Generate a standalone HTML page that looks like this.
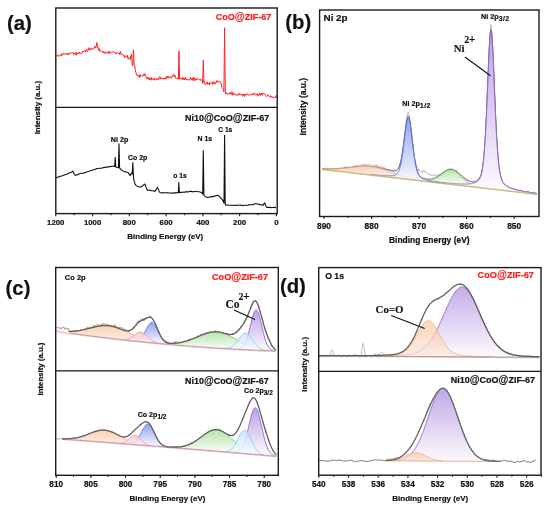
<!DOCTYPE html>
<html><head><meta charset="utf-8"><style>
html,body{margin:0;padding:0;background:#fff;}
svg{display:block;filter:blur(0.3px);}
</style></head><body>
<svg width="550" height="507" viewBox="0 0 550 507">
<defs><linearGradient id="g1" gradientUnits="userSpaceOnUse" x1="0" y1="166.4" x2="0" y2="174.8"><stop offset="0" stop-color="#f9c4a0" stop-opacity="1"/><stop offset="1" stop-color="#fde6d6" stop-opacity="1"/></linearGradient><linearGradient id="g2" gradientUnits="userSpaceOnUse" x1="0" y1="169.2" x2="0" y2="184.1"><stop offset="0" stop-color="#a2de94" stop-opacity="1"/><stop offset="1" stop-color="#f4fbf2" stop-opacity="1"/></linearGradient><linearGradient id="g3" gradientUnits="userSpaceOnUse" x1="0" y1="117.7" x2="0" y2="179.2"><stop offset="0" stop-color="#7a8cf0" stop-opacity="1"/><stop offset="1" stop-color="#f1f3fd" stop-opacity="1"/></linearGradient><linearGradient id="g4" gradientUnits="userSpaceOnUse" x1="0" y1="29.8" x2="0" y2="188.7"><stop offset="0" stop-color="#ad8ade" stop-opacity="1"/><stop offset="1" stop-color="#fbf8fd" stop-opacity="1"/></linearGradient><linearGradient id="g5" gradientUnits="userSpaceOnUse" x1="0" y1="325.6" x2="0" y2="338.1"><stop offset="0" stop-color="#f9c4a0" stop-opacity="1"/><stop offset="1" stop-color="#fde6d6" stop-opacity="1"/></linearGradient><linearGradient id="g6" gradientUnits="userSpaceOnUse" x1="0" y1="331.8" x2="0" y2="348.1"><stop offset="0" stop-color="#a2de94" stop-opacity="1"/><stop offset="1" stop-color="#f4fbf2" stop-opacity="1"/></linearGradient><linearGradient id="g7" gradientUnits="userSpaceOnUse" x1="0" y1="310" x2="0" y2="350.2"><stop offset="0" stop-color="#ad8ade" stop-opacity="1"/><stop offset="1" stop-color="#fbf8fd" stop-opacity="1"/></linearGradient><linearGradient id="g8" gradientUnits="userSpaceOnUse" x1="0" y1="322.4" x2="0" y2="342.8"><stop offset="0" stop-color="#7a8cf0" stop-opacity="1"/><stop offset="1" stop-color="#f1f3fd" stop-opacity="1"/></linearGradient><linearGradient id="g9" gradientUnits="userSpaceOnUse" x1="0" y1="332.2" x2="0" y2="341.7"><stop offset="0" stop-color="#f6bcc4" stop-opacity="1"/><stop offset="1" stop-color="#fff1f3" stop-opacity="1"/></linearGradient><linearGradient id="g10" gradientUnits="userSpaceOnUse" x1="0" y1="333" x2="0" y2="349.7"><stop offset="0" stop-color="#c4e4fa" stop-opacity="1"/><stop offset="1" stop-color="#f4fafe" stop-opacity="1"/></linearGradient><linearGradient id="g11" gradientUnits="userSpaceOnUse" x1="0" y1="430.1" x2="0" y2="442.2"><stop offset="0" stop-color="#f9c4a0" stop-opacity="1"/><stop offset="1" stop-color="#fde6d6" stop-opacity="1"/></linearGradient><linearGradient id="g12" gradientUnits="userSpaceOnUse" x1="0" y1="429.6" x2="0" y2="451.2"><stop offset="0" stop-color="#a2de94" stop-opacity="1"/><stop offset="1" stop-color="#f4fbf2" stop-opacity="1"/></linearGradient><linearGradient id="g13" gradientUnits="userSpaceOnUse" x1="0" y1="407.8" x2="0" y2="454.4"><stop offset="0" stop-color="#ad8ade" stop-opacity="1"/><stop offset="1" stop-color="#fbf8fd" stop-opacity="1"/></linearGradient><linearGradient id="g14" gradientUnits="userSpaceOnUse" x1="0" y1="424" x2="0" y2="445.6"><stop offset="0" stop-color="#7a8cf0" stop-opacity="1"/><stop offset="1" stop-color="#f1f3fd" stop-opacity="1"/></linearGradient><linearGradient id="g15" gradientUnits="userSpaceOnUse" x1="0" y1="435.1" x2="0" y2="444.5"><stop offset="0" stop-color="#f6bcc4" stop-opacity="1"/><stop offset="1" stop-color="#fff1f3" stop-opacity="1"/></linearGradient><linearGradient id="g16" gradientUnits="userSpaceOnUse" x1="0" y1="430" x2="0" y2="453.5"><stop offset="0" stop-color="#c4e4fa" stop-opacity="1"/><stop offset="1" stop-color="#f4fafe" stop-opacity="1"/></linearGradient><linearGradient id="g17" gradientUnits="userSpaceOnUse" x1="0" y1="287" x2="0" y2="356.8"><stop offset="0" stop-color="#ad8ade" stop-opacity="1"/><stop offset="1" stop-color="#fbf8fd" stop-opacity="1"/></linearGradient><linearGradient id="g18" gradientUnits="userSpaceOnUse" x1="0" y1="320.6" x2="0" y2="356.6"><stop offset="0" stop-color="#f9c4a0" stop-opacity="1"/><stop offset="1" stop-color="#fde6d6" stop-opacity="1"/></linearGradient><linearGradient id="g19" gradientUnits="userSpaceOnUse" x1="0" y1="388.6" x2="0" y2="461.1"><stop offset="0" stop-color="#ad8ade" stop-opacity="1"/><stop offset="1" stop-color="#fbf8fd" stop-opacity="1"/></linearGradient><linearGradient id="g20" gradientUnits="userSpaceOnUse" x1="0" y1="452.8" x2="0" y2="461"><stop offset="0" stop-color="#f9c4a0" stop-opacity="1"/><stop offset="1" stop-color="#fde6d6" stop-opacity="1"/></linearGradient></defs>
<rect width="550" height="507" fill="#fff"/>
<path d="M56,55.8 L56.5,56.3 L56.9,55.6 L57.4,55.5 L57.8,54.8 L58.3,55.4 L58.7,56.4 L59.2,55.7 L59.6,56.2 L60.1,55.4 L60.5,55.4 L61,55.2 L61.4,53.5 L61.9,55.6 L62.3,55.2 L62.8,55.1 L63.2,53.1 L63.7,53 L64.1,53.6 L64.6,53.9 L65,54.5 L65.5,54.1 L65.9,54.5 L66.4,53.4 L66.8,54.1 L67.3,54.1 L67.7,53.1 L68.2,55.1 L68.6,54 L69.1,54.4 L69.5,52.8 L70,52.6 L70.4,52.9 L70.9,53 L71.3,53.5 L71.8,53.1 L72.2,52.7 L72.7,52.4 L73.1,52.9 L73.6,54.6 L74,53 L74.5,54 L74.9,54.3 L75.4,52.9 L75.8,54.3 L76.3,55.3 L76.7,52.3 L77.2,53.6 L77.6,53.6 L78.1,52.9 L78.5,53.9 L79,53.2 L79.4,51.9 L79.9,53.7 L80.3,53.4 L80.8,53.5 L81.2,53.8 L81.7,52.7 L82.1,52.3 L82.6,51 L83,52.5 L83.5,51.3 L83.9,51.2 L84.4,50.4 L84.8,50.5 L85.3,50.7 L85.7,52.1 L86.2,49.2 L86.6,49.5 L87.1,50.7 L87.5,51.6 L88,50.6 L88.4,48.3 L88.9,47.6 L89.3,49.9 L89.8,48.8 L90.2,48.2 L90.7,49.8 L91.1,49.7 L91.6,48.7 L92,48.6 L92.5,48.6 L92.9,49.4 L93.4,48.4 L93.8,48.1 L94.3,48 L94.7,46 L95.2,48.2 L95.6,47.8 L96,47.6 L96.8,42.4 L97.6,47.6 L97.9,47 L98.3,48.9 L98.8,50.3 L99.2,48.7 L99.7,51.4 L100.1,50.7 L100.6,50.4 L101,51 L101.5,51.5 L101.9,51.3 L102.4,52.4 L102.8,51.1 L103.3,51.5 L103.7,53 L104.2,52.4 L104.6,51.8 L105.1,53.6 L105.5,54.1 L106,52.4 L106.4,51.6 L106.9,52.6 L107.3,52.5 L107.8,52.3 L108.2,53.7 L108.7,51.6 L109.1,53.5 L109.6,51.3 L110,51.6 L110.5,52.7 L110.9,53.1 L111.4,52.8 L111.8,52.3 L112.3,52.1 L112.7,52 L113.2,52.3 L113.6,51.7 L114.1,52.1 L114.5,52.5 L115,52.1 L115.4,52.9 L115.9,52.8 L116.3,54.2 L116.8,52.9 L117.2,52.3 L117.7,52.5 L118.1,52.9 L118.6,53.8 L119,52.9 L119.5,53.6 L119.9,54.9 L120.4,51.3 L120.8,52.6 L121.3,53.9 L121.7,54.2 L122.2,54.2 L122.6,54 L123.1,55.3 L123.5,55.3 L124,55 L124.4,57.8 L124.9,56.4 L125.3,56 L125.8,56.7 L126.2,57 L126.7,57.3 L127.1,55.2 L127.6,57.3 L128,58.8 L128.5,57.1 L128.9,58.3 L129.4,59.3 L129.8,59.4 L130.3,59.7 L130.7,56.3 L130.9,58.4 L131.4,54 L131.9,58.4 L132.1,63.5 L132.5,65.3 L132.9,65.4 L133.5,49.7 L134.1,65.4 L134.3,66.9 L134.8,66.2 L135.2,69.4 L135.7,72.1 L136.1,72.8 L136.6,74.9 L137,75.6 L137.5,75.2 L137.9,75 L138.4,76.5 L138.8,76.1 L139.3,75.1 L139.7,77.7 L140.2,74.5 L140.6,76.3 L141.1,75.4 L141.5,75.8 L142,76.3 L142.4,76 L142.9,76.4 L143.3,74.3 L143.8,74.1 L144.2,75.6 L144.7,73.9 L145.1,73.8 L145.6,74.2 L146,77.3 L146.4,77.7 L146.9,79.1 L147.3,77.3 L147.8,78.2 L148.2,77.3 L148.7,79.1 L149.1,79.9 L149.6,77.9 L150,80.1 L150.5,79.7 L150.9,78.8 L151.4,77.3 L151.8,80.2 L152.3,78.9 L152.7,78.4 L153.2,79.2 L153.6,79.2 L154.1,80.1 L154.5,78 L155,79.8 L155.4,80.1 L155.9,80 L156.3,78.6 L156.8,78.1 L157.2,79.6 L157.7,78.8 L158.1,78.8 L158.6,79.9 L159,78.4 L159.5,76.7 L159.9,78.2 L160.4,76.9 L160.8,79.2 L161.3,78.7 L161.7,77.8 L162.2,78.3 L162.6,79 L163.1,78.3 L163.5,79.3 L164,78 L164.4,78.9 L164.9,79.3 L165.3,79.3 L165.8,77.3 L166.2,78.6 L166.7,76.2 L167.1,76.8 L167.6,76 L168,78.5 L168.5,76.5 L168.9,77.5 L169.4,77.3 L169.8,77.4 L170.3,76.7 L170.7,77.1 L171.2,78.2 L171.6,76.4 L172.1,76.6 L172.5,76.7 L173,75.4 L173.4,74.3 L173.9,75.3 L174.3,77 L174.8,75.1 L175.2,76.4 L175.7,78.2 L176.1,78.4 L176.6,78.1 L177,79.2 L177.5,79.1 L177.9,78 L178.4,77.7 L178.4,79.1 L179,50.8 L179.6,79.1 L179.7,78.6 L180.2,78.4 L180.6,78.5 L181.1,77.9 L181.5,79.1 L182,78.3 L182.4,79.6 L182.9,77.3 L183.3,79.6 L183.8,78.8 L184.2,77.7 L184.7,80 L185.1,79.2 L185.6,77.6 L186,78.7 L186.5,79.7 L186.9,79 L187.4,80 L187.8,79.9 L188.3,79.8 L188.7,79.5 L189.2,80.3 L189.6,79.7 L190.1,79.4 L190.5,77.2 L191,79.7 L191.4,80 L191.9,78.6 L192.3,78.4 L192.8,80.4 L193.2,77.2 L193.7,79.1 L194.1,80.7 L194.6,77.9 L195,79.3 L195.5,80.4 L195.9,78.8 L196.4,79.5 L196.8,79.9 L197.3,78.4 L197.7,79.2 L198.2,79.6 L198.6,80.1 L199.1,79.5 L199.5,79.4 L200,78.8 L200.4,79.5 L200.9,80.6 L201.3,80 L201.8,79.5 L202.2,80.1 L202.7,83.6 L202.7,82 L203.3,60.2 L203.9,82 L204,80.7 L204.5,83.7 L204.9,83.7 L205.4,84.7 L205.8,83.7 L206.3,83.3 L206.7,83.9 L207.2,81.8 L207.6,84.4 L208.1,83.8 L208.5,83 L209,84.7 L209.4,85 L209.9,82.2 L210.3,82.8 L210.8,83.5 L211.2,83.4 L211.7,82.8 L212.1,82.2 L212.6,84.8 L213,83.8 L213.5,81.8 L213.9,81.6 L214.4,84.1 L214.8,83.4 L215.3,84.1 L215.7,83.1 L216.2,81.6 L216.6,82.5 L217.1,80.4 L217.5,81.5 L218,81.9 L218.4,82.2 L218.9,81 L219.3,81.4 L219.8,81.7 L220.2,81.5 L220.7,82.7 L221.1,83.9 L221.6,85.1 L222,87.6 L222.5,88.5 L222.9,88.5 L223.4,89.4 L223.8,90.7 L223.9,91.9 L224.6,27.8 L225.3,91.9 L225.6,93.8 L226.1,93.6 L226.5,92.7 L227,94.1 L227.4,94.7 L227.9,94.1 L228.3,93.6 L228.8,94.2 L229.2,93 L229.7,92.2 L230.1,93.9 L230.6,93.1 L231,94.5 L231.5,93 L231.9,91.7 L232.4,93 L232.8,95.3 L233.3,93.6 L233.7,92.8 L234.2,93.3 L234.6,94.4 L235.1,94.4 L235.5,94.2 L236,95.3 L236.4,94.6 L236.9,94 L237.3,94.6 L237.8,95.5 L238.2,94.9 L238.7,95 L239.1,93.2 L239.6,94 L240,94.8 L240.5,93.9 L240.9,95.1 L241.4,94.7 L241.8,95 L242.3,94.1 L242.7,96.4 L243.2,95.3 L243.6,94.1 L244.1,94.4 L244.5,96.5 L245,94 L245.4,95.1 L245.9,95.2 L246.3,94.4 L246.8,93.4 L247.2,94.5 L247.7,94.7 L248.1,95.4 L248.6,95.1 L249,94.5 L249.5,95.2 L249.9,94.9 L250.4,94.7 L250.8,94.6 L251.3,94.3 L251.7,95.1 L252.2,93.7 L252.6,94 L253.1,94.6 L253.5,93.3 L254,94.2 L254.4,92.9 L254.9,94.1 L255.3,95.1 L255.8,95.1 L256.2,94.6 L256.7,94.5 L257.1,93.5 L257.6,96.3 L258,95.1 L258.5,95.6 L258.9,94 L259.4,94.5 L259.8,93.2 L260.3,95.4 L260.7,95.5 L261.2,93.1 L261.6,94.7 L262.1,95.2 L262.5,93.2 L263,93.1 L263.4,93.8 L263.9,94.2 L264.3,93.5 L264.8,94.7 L265.2,94.9 L265.7,95.4 L266.1,95.7 L266.6,96.6 L267,96.5 L267.5,94.6 L267.9,95.5 L268.4,95.3 L268.8,95.5 L269.3,96.6 L269.7,96.8 L270.2,97.3 L270.6,95.6 L271.1,96 L271.5,97.1 L272,97 L272.4,97 L272.9,97.3 L273.3,96.8 L273.8,98.1 L274.2,97.8 L274.7,97.5 L275.1,97.1 L275.6,97.6 L276,95.5 L276.5,97.1" fill="none" stroke="#ff2424" stroke-width="1.0"/>
<path d="M56,177.8 L56.8,177.6 L57.6,177.3 L58.4,177 L59.2,176.7 L60,176.4 L60.8,176.2 L61.6,176 L62.4,175.8 L63.2,175.4 L64,175 L64.8,174.7 L65.6,174.6 L66.4,174.3 L67.2,174 L68,173.5 L68.8,173.1 L69.6,172.8 L70.4,172.6 L71.2,172.3 L72,171.8 L72.8,171.1 L73.6,172.7 L74.4,174.3 L75.2,175.4 L76,175.1 L76.8,175 L77.6,174.6 L78.4,174.5 L79.2,173.9 L80,173.6 L80.8,173.3 L81.6,173.3 L82.4,173.4 L83.2,173.2 L84,173 L84.8,172.6 L85.6,172.4 L86.4,172.1 L87.2,171.8 L88,171.5 L88.8,171.2 L89.6,171 L90.4,170.7 L91.2,170.5 L92,170.3 L92.8,170.1 L93.6,169.8 L94.4,169.5 L95.2,169.2 L96,168.9 L96.8,168.6 L97.6,168.5 L98.4,168.5 L99.2,168.3 L100,168.3 L100.8,168.2 L101.6,168.2 L102.4,167.9 L103.2,167.6 L104,167.6 L104.8,167.4 L105.6,167.4 L106.4,167.1 L107.2,166.9 L108,166.8 L108.8,166.9 L109.6,166.8 L110.4,166.6 L111.2,166.4 L112,166.3 L112.8,166.2 L113.6,166.2 L114.4,166.5 L114.7,166.6 L115.2,157 L115.7,166.6 L116,167.1 L116.8,167.3 L117.6,167.7 L118.4,167.8 L118.4,168.1 L119,143.5 L119.6,168.1 L120,168.5 L120.8,169.3 L121.6,170 L122.4,170.7 L123.2,171 L124,171.3 L124.8,171.7 L125.6,171.9 L126.4,172.2 L127.2,172.3 L128,172.5 L128.8,173.6 L129.6,174.8 L130.4,175.4 L131.2,173.6 L132,172.9 L132.2,174.5 L132.8,162.3 L133.4,174.5 L133.6,178.6 L134.4,181.9 L135.2,184.3 L136,185.4 L136.8,185.9 L137.6,186.3 L138.4,186.6 L139.2,186.8 L140,187 L140.8,187.2 L141.6,186.5 L142.4,185.9 L143.2,185.3 L144,184.7 L144.8,184.1 L145.6,185.7 L146.4,188.1 L147.2,190.1 L148,190.1 L148.8,190.2 L149.6,190.1 L150.4,190.4 L151.2,190.6 L152,190.7 L152.8,190.8 L153.6,190.9 L154.4,191.1 L155.2,191.1 L156,189.9 L156.8,188.4 L157.6,187.5 L158.4,189.4 L159.2,191.5 L160,192.5 L160.8,192.7 L161.6,192.7 L162.4,192.9 L163.2,192.9 L164,192.8 L164.8,192.7 L165.6,192.7 L166.4,192.8 L167.2,192.9 L168,192.9 L168.8,193 L169.6,193 L170.4,193 L171.2,193.1 L172,193.1 L172.8,193 L173.6,192.8 L174.4,192.9 L175.2,192.9 L176,192.9 L176.8,192.7 L177.6,192.6 L178.3,192.5 L178.8,182.2 L179.3,192.5 L180,192.4 L180.8,192.4 L181.6,192.4 L182.4,192.2 L183.2,192.1 L184,192.2 L184.8,192.1 L185.6,191.9 L186.4,191.8 L187.2,191.9 L188,191.9 L188.8,191.8 L189.6,191.5 L190.4,191.3 L191.2,191.4 L192,191.6 L192.8,191.7 L193.6,191.6 L194.4,191.6 L195.2,191.5 L196,191.3 L196.8,191.3 L197.6,191.6 L198.4,191.7 L199.2,191.8 L200,192 L200.8,192.3 L201.6,192.5 L202.4,193.4 L202.7,194.6 L203.3,150.2 L203.9,194.6 L204,195.4 L204.8,196.1 L205.6,196.7 L206.4,197.1 L207.2,197.4 L208,197.4 L208.8,197.2 L209.6,197.1 L210.4,196.7 L211.2,196.6 L212,196.5 L212.8,196.6 L213.6,196.4 L214.4,196.2 L215.2,195.9 L216,195.7 L216.8,195.5 L217.6,195.3 L218.4,195.5 L219.2,196.3 L220,197 L220.8,197.9 L221.6,198.9 L222.4,199.9 L223.2,201.2 L224,203.4 L224.6,135.1 L225.2,203.4 L225.6,205 L226.4,205.1 L227.2,205 L228,205 L228.8,205.2 L229.6,205.3 L230.4,205.3 L231.2,205.2 L232,205.2 L232.8,205.3 L233.6,205.3 L234.4,205.5 L235.2,205.3 L236,205.4 L236.8,205.2 L237.6,205.3 L238.4,205.2 L239.2,205 L240,205 L240.8,205.1 L241.6,205.4 L242.4,205.6 L243.2,205.5 L244,205.5 L244.8,205.3 L245.6,205.3 L246.4,205.5 L247.2,205.3 L248,205.2 L248.8,204.7 L249.6,204.8 L250.4,204.6 L251.2,204.8 L252,204.8 L252.8,204.6 L253.6,204.4 L254.4,204 L255.2,203.7 L256,203.5 L256.8,203.8 L257.6,204 L258.4,204.3 L259.2,204.4 L260,204.6 L260.8,204.8 L261.6,205 L262.4,205.1 L263.2,205.2 L264,203.7 L264.8,203 L265.6,205.1 L266.4,207.1 L267.2,207.4 L268,207.4 L268.8,207.3 L269.6,207.4 L270.4,207.4 L271.2,207.6 L272,207.5 L272.8,207.5 L273.6,207.3 L274.4,207.4 L275.2,207.4 L276,207.6" fill="none" stroke="#111" stroke-width="1.1"/>
<rect x="55.8" y="8" width="221.4" height="205.6" fill="none" stroke="#1a1a1a" stroke-width="1.4"/>
<line x1="55.8" y1="107.3" x2="277.2" y2="107.3" stroke="#1a1a1a" stroke-width="1.3"/>
<line x1="276.4" y1="213.6" x2="276.4" y2="216.2" stroke="#1a1a1a" stroke-width="1.1"/>
<text x="276.4" y="225.2" font-family='"Liberation Sans", sans-serif' font-size="7.8" font-weight="bold" fill="#111" stroke="#111" stroke-width="0.2" text-anchor="middle" >0</text>
<line x1="258" y1="213.6" x2="258" y2="215.2" stroke="#1a1a1a" stroke-width="1.1"/>
<line x1="239.6" y1="213.6" x2="239.6" y2="216.2" stroke="#1a1a1a" stroke-width="1.1"/>
<text x="239.6" y="225.2" font-family='"Liberation Sans", sans-serif' font-size="7.8" font-weight="bold" fill="#111" stroke="#111" stroke-width="0.2" text-anchor="middle" >200</text>
<line x1="221.2" y1="213.6" x2="221.2" y2="215.2" stroke="#1a1a1a" stroke-width="1.1"/>
<line x1="202.9" y1="213.6" x2="202.9" y2="216.2" stroke="#1a1a1a" stroke-width="1.1"/>
<text x="202.9" y="225.2" font-family='"Liberation Sans", sans-serif' font-size="7.8" font-weight="bold" fill="#111" stroke="#111" stroke-width="0.2" text-anchor="middle" >400</text>
<line x1="184.5" y1="213.6" x2="184.5" y2="215.2" stroke="#1a1a1a" stroke-width="1.1"/>
<line x1="166.1" y1="213.6" x2="166.1" y2="216.2" stroke="#1a1a1a" stroke-width="1.1"/>
<text x="166.1" y="225.2" font-family='"Liberation Sans", sans-serif' font-size="7.8" font-weight="bold" fill="#111" stroke="#111" stroke-width="0.2" text-anchor="middle" >600</text>
<line x1="147.7" y1="213.6" x2="147.7" y2="215.2" stroke="#1a1a1a" stroke-width="1.1"/>
<line x1="129.3" y1="213.6" x2="129.3" y2="216.2" stroke="#1a1a1a" stroke-width="1.1"/>
<text x="129.3" y="225.2" font-family='"Liberation Sans", sans-serif' font-size="7.8" font-weight="bold" fill="#111" stroke="#111" stroke-width="0.2" text-anchor="middle" >800</text>
<line x1="110.9" y1="213.6" x2="110.9" y2="215.2" stroke="#1a1a1a" stroke-width="1.1"/>
<line x1="92.6" y1="213.6" x2="92.6" y2="216.2" stroke="#1a1a1a" stroke-width="1.1"/>
<text x="92.6" y="225.2" font-family='"Liberation Sans", sans-serif' font-size="7.8" font-weight="bold" fill="#111" stroke="#111" stroke-width="0.2" text-anchor="middle" >1000</text>
<line x1="74.2" y1="213.6" x2="74.2" y2="215.2" stroke="#1a1a1a" stroke-width="1.1"/>
<line x1="55.8" y1="213.6" x2="55.8" y2="216.2" stroke="#1a1a1a" stroke-width="1.1"/>
<text x="55.8" y="225.2" font-family='"Liberation Sans", sans-serif' font-size="7.8" font-weight="bold" fill="#111" stroke="#111" stroke-width="0.2" text-anchor="middle" >1200</text>
<text x="165.3" y="239.4" font-family='"Liberation Sans", sans-serif' font-size="7.95" font-weight="bold" fill="#111" stroke="#111" stroke-width="0.2" text-anchor="middle" >Binding Energy (eV)</text>
<text x="0" y="0" font-family='"Liberation Sans", sans-serif' font-size="7.9" font-weight="bold" fill="#111" stroke="#111" stroke-width="0.2" text-anchor="middle" transform="translate(40.2,107.6) rotate(-90)">Intensity (a.u.)</text>
<text x="6.9" y="29.6" font-family='"Liberation Sans", sans-serif' font-size="20.3" font-weight="bold" fill="#111" stroke="#111" stroke-width="0.2" text-anchor="start" >(a)</text>
<text x="271.3" y="19.8" font-family='"Liberation Sans", sans-serif' font-size="9.2" font-weight="bold" fill="#ff1a1a" stroke="#ff1a1a" stroke-width="0.2" text-anchor="end" textLength="55.6" lengthAdjust="spacingAndGlyphs">CoO<tspan font-size="10.30" stroke="#ff1a1a" stroke-width="0.15">@</tspan>ZIF-67</text>
<text x="269.3" y="121" font-family='"Liberation Sans", sans-serif' font-size="9.25" font-weight="bold" fill="#111" stroke="#111" stroke-width="0.2" text-anchor="end" textLength="84.4" lengthAdjust="spacingAndGlyphs">Ni10<tspan font-size="10.36" stroke="#111" stroke-width="0.15">@</tspan>CoO<tspan font-size="10.36" stroke="#111" stroke-width="0.15">@</tspan>ZIF-67</text>
<text x="110.8" y="142.4" font-family='"Liberation Sans", sans-serif' font-size="7.15" font-weight="bold" fill="#111" stroke="#111" stroke-width="0.2" text-anchor="start" >Ni 2p</text>
<text x="128" y="160.2" font-family='"Liberation Sans", sans-serif' font-size="6.95" font-weight="bold" fill="#111" stroke="#111" stroke-width="0.2" text-anchor="start" >Co 2p</text>
<text x="173.2" y="178.2" font-family='"Liberation Sans", sans-serif' font-size="6.75" font-weight="bold" fill="#111" stroke="#111" stroke-width="0.2" text-anchor="start" >o 1s</text>
<text x="197.6" y="140.8" font-family='"Liberation Sans", sans-serif' font-size="6.9" font-weight="bold" fill="#111" stroke="#111" stroke-width="0.2" text-anchor="start" >N 1s</text>
<text x="218.2" y="131.7" font-family='"Liberation Sans", sans-serif' font-size="6.7" font-weight="bold" fill="#111" stroke="#111" stroke-width="0.2" text-anchor="start" >C 1s</text>
<path d="M322.2,168.5 L322.9,168.8 L323.6,168.7 L324.3,169.1 L325,168.5 L325.7,168.8 L326.4,167.6 L327.1,168.6 L327.8,169.2 L328.5,169.6 L329.2,168.6 L329.9,168.8 L330.6,169.7 L331.3,168.7 L332,169.2 L332.7,169.7 L333.4,168.8 L334.1,169.4 L334.8,168.3 L335.5,168.8 L336.2,168.6 L336.9,168.7 L337.6,169.2 L338.3,169.8 L339,168.1 L339.7,168 L340.4,168.6 L341.1,167.6 L341.8,168.4 L342.5,168.4 L343.2,167.8 L343.9,168.2 L344.6,166.9 L345.3,168.1 L346,166.7 L346.7,167.1 L347.4,167 L348.1,167 L348.8,167.6 L349.5,167 L350.2,166.7 L350.9,167.1 L351.6,167.5 L352.3,166.5 L353,166.6 L353.7,167 L354.4,166.3 L355.1,165.3 L355.8,167.3 L356.5,167 L357.2,164.6 L357.9,165.6 L358.6,165.8 L359.3,166 L360,165.7 L360.7,165.1 L361.4,164.6 L362.1,165.2 L362.8,165.7 L363.5,164.4 L364.2,164.4 L364.9,165 L365.6,163.9 L366.3,164.8 L367,164.7 L367.7,165.2 L368.4,164.6 L369.1,164.5 L369.8,164.8 L370.5,165.1 L371.2,164.8 L371.9,165.3 L372.6,165.7 L373.3,166.1 L374,166.5 L374.7,165.2 L375.4,165.5 L376.1,164.5 L376.8,167.1 L377.5,165.8 L378.2,166.4 L378.9,166.8 L379.6,166 L380.3,167.2 L381,167.1 L381.7,166.3 L382.4,167.7 L383.1,168.4 L383.8,166.9 L384.5,168.6 L385.2,168.4 L385.9,168.8 L386.6,169 L387.3,169.7 L388,169 L388.7,169.9 L389.4,169.3 L390.1,170.2 L390.8,169.5 L391.5,170 L392.2,171.2 L392.9,170.6 L393.6,170.4 L394.3,169.9 L395,170 L395.7,170.4 L396.4,170.6 L397.1,169.8 L397.8,169.2 L398.5,167.8 L399.2,167.1 L399.9,164.2 L400.6,161.6 L401.3,159.2 L402,154.8 L402.7,150.1 L403.4,144.8 L404.1,139.4 L404.8,134.1 L405.5,128.1 L406.2,121.6 L406.9,117.6 L407.6,114 L408.3,112.2 L409,114.7 L409.7,117.8 L410.4,123 L411.1,129.6 L411.8,136 L412.5,141 L413.2,147.3 L413.9,151.9 L414.6,158.3 L415.3,160.6 L416,164.7 L416.7,166.2 L417.4,168.8 L418.1,170.8 L418.8,169 L419.5,170.7 L420.2,171.4 L420.9,171.2 L421.6,170.9 L422.3,172.4 L423,171.3 L423.7,170.5 L424.4,172.1 L425.1,171 L425.8,172.9 L426.5,172.4 L427.2,173.4 L427.9,174.5 L428.6,174.3 L429.3,173.9 L430,174 L430.7,175.8 L431.4,175.7 L432.1,174.9 L432.8,175.8 L433.5,175.6 L434.2,175.7 L434.9,174.1 L435.6,175.2 L436.3,175.9 L437,175.9 L437.7,175.9 L438.4,173.9 L439.1,175.1 L439.8,175 L440.5,175.8 L441.2,173.4 L441.9,173.3 L442.6,173 L443.3,172.9 L444,171.7 L444.7,172.1 L445.4,170.6 L446.1,170.8 L446.8,170 L447.5,170 L448.2,169.3 L448.9,168.6 L449.6,169.9 L450.3,169.4 L451,168.9 L451.7,169.4 L452.4,170 L453.1,169.1 L453.8,169.8 L454.5,170.5 L455.2,170.9 L455.9,170.8 L456.6,170.4 L457.3,172.7 L458,172.8 L458.7,173.2 L459.4,173.7 L460.1,174.6 L460.8,174.8 L461.5,175.1 L462.2,175.9 L462.9,176.6 L463.6,177.2 L464.3,177.4 L465,179 L465.7,178.4 L466.4,180 L467.1,179.5 L467.8,180.6 L468.5,181.5 L469.2,181.2 L469.9,180.9 L470.6,181.6 L471.3,181.8 L472,180.8 L472.7,181.5 L473.4,181.9 L474.1,181.3 L474.8,181.3 L475.5,181.3 L476.2,180.8 L476.9,180.3 L477.6,179.5 L478.3,178.5 L479,178 L479.7,177.1 L480.4,175.9 L481.1,174.2 L481.8,170.8 L482.5,167.9 L483.2,163 L483.9,155.7 L484.6,147.5 L485.3,137 L486,123.6 L486.7,109.8 L487.4,90.7 L488.1,74.8 L488.8,56.9 L489.5,43.1 L490.2,32.4 L490.9,24.5 L491.6,28.9 L492.3,39.3 L493,53.6 L493.7,70.9 L494.4,86.9 L495.1,105.5 L495.8,120.9 L496.5,134.5 L497.2,145.9 L497.9,156 L498.6,162.9 L499.3,169.1 L500,173 L500.7,175.3 L501.4,178.9 L502.1,180.8 L502.8,182.5 L503.5,182.6 L504.2,184 L504.9,185 L505.6,185.3 L506.3,186.5 L507,187.3 L507.7,186.2 L508.4,186 L509.1,187.9 L509.8,188.5 L510.5,188.5 L511.2,188.7 L511.9,188.2 L512.6,188.4 L513.3,189.5 L514,188.7 L514.7,188.4 L515.4,189.1 L516.1,191.2 L516.8,191 L517.5,189.8 L518.2,189.9 L518.9,190.6 L519.6,190.2 L520.3,191.5 L521,190.8 L521.7,190.4 L522.4,191.9 L523.1,191 L523.8,191.5 L524.5,191.5 L525.2,191.5 L525.9,192 L526.6,191.5 L527.3,191 L528,190.9 L528.7,191.5 L529.4,191.9 L530.1,192.5 L530.8,192.6 L531.5,193 L532.2,192.8 L532.9,192.5 L533.6,192.6 L534.3,191.9 L535,193.1 L535.7,193.6 L536.4,193.7" fill="none" stroke="#a0a0a0" stroke-width="0.7"/>
<path d="M322.2,168.6 L322.6,168.7 L323,168.7 L323.4,168.7 L323.8,168.7 L324.2,168.7 L324.6,168.8 L325,168.8 L325.4,168.8 L325.8,168.8 L326.2,168.8 L326.6,168.8 L327,168.9 L327.4,168.9 L327.8,168.9 L328.2,168.9 L328.6,168.9 L329,168.9 L329.4,168.9 L329.8,168.9 L330.2,168.9 L330.6,168.9 L331,168.9 L331.4,168.9 L331.8,168.9 L332.2,168.9 L332.6,168.9 L333,168.9 L333.4,168.9 L333.8,168.9 L334.2,168.9 L334.6,168.9 L335,168.8 L335.4,168.8 L335.8,168.8 L336.2,168.8 L336.6,168.8 L337,168.8 L337.4,168.7 L337.8,168.7 L338.2,168.7 L338.6,168.7 L339,168.6 L339.4,168.6 L339.8,168.6 L340.2,168.5 L340.6,168.5 L341,168.5 L341.4,168.4 L341.8,168.4 L342.2,168.4 L342.6,168.3 L343,168.3 L343.4,168.3 L343.8,168.2 L344.2,168.2 L344.6,168.1 L345,168.1 L345.4,168 L345.8,168 L346.2,167.9 L346.6,167.9 L347,167.8 L347.4,167.8 L347.8,167.7 L348.2,167.7 L348.6,167.6 L349,167.6 L349.4,167.5 L349.8,167.5 L350.2,167.4 L350.6,167.4 L351,167.3 L351.4,167.3 L351.8,167.2 L352.2,167.2 L352.6,167.1 L353,167.1 L353.4,167 L353.8,167 L354.2,166.9 L354.6,166.9 L355,166.8 L355.4,166.8 L355.8,166.7 L356.2,166.7 L356.6,166.6 L357,166.6 L357.4,166.6 L357.8,166.5 L358.2,166.5 L358.6,166.4 L359,166.4 L359.4,166.4 L359.8,166.3 L360.2,166.3 L360.6,166.3 L361,166.2 L361.4,166.2 L361.8,166.2 L362.2,166.2 L362.6,166.2 L363,166.1 L363.4,166.1 L363.8,166.1 L364.2,166.1 L364.6,166.1 L365,166.1 L365.4,166.1 L365.8,166.1 L366.2,166.1 L366.6,166.1 L367,166.1 L367.4,166.1 L367.8,166.1 L368.2,166.1 L368.6,166.2 L369,166.2 L369.4,166.2 L369.8,166.2 L370.2,166.3 L370.6,166.3 L371,166.4 L371.4,166.4 L371.8,166.4 L372.2,166.5 L372.6,166.5 L373,166.6 L373.4,166.6 L373.8,166.7 L374.2,166.8 L374.6,166.8 L375,166.9 L375.4,167 L375.8,167 L376.2,167.1 L376.6,167.2 L377,167.3 L377.4,167.3 L377.8,167.4 L378.2,167.5 L378.6,167.6 L379,167.7 L379.4,167.8 L379.8,167.9 L380.2,168 L380.6,168.1 L381,168.1 L381.4,168.2 L381.8,168.3 L382.2,168.4 L382.6,168.6 L383,168.7 L383.4,168.8 L383.8,168.9 L384.2,169 L384.6,169.1 L385,169.2 L385.4,169.3 L385.8,169.4 L386.2,169.5 L386.6,169.6 L387,169.7 L387.4,169.8 L387.8,169.9 L388.2,170 L388.6,170.1 L389,170.2 L389.4,170.3 L389.8,170.4 L390.2,170.5 L390.6,170.6 L391,170.7 L391.4,170.7 L391.8,170.8 L392.2,170.9 L392.6,170.9 L393,171 L393.4,171 L393.8,171 L394.2,171 L394.6,171 L395,171 L395.4,170.9 L395.8,170.8 L396.2,170.6 L396.6,170.4 L397,170.1 L397.4,169.8 L397.8,169.3 L398.2,168.8 L398.6,168.1 L399,167.2 L399.4,166.3 L399.8,165.1 L400.2,163.8 L400.6,162.2 L401,160.5 L401.4,158.5 L401.8,156.3 L402.2,153.9 L402.6,151.2 L403,148.4 L403.4,145.4 L403.8,142.3 L404.2,139 L404.6,135.7 L405,132.5 L405.4,129.3 L405.8,126.2 L406.2,123.4 L406.6,121 L407,118.9 L407.4,117.3 L407.8,116.3 L408.2,116 L408.6,116.2 L409,117.1 L409.4,118.6 L409.8,120.6 L410.2,123.1 L410.6,125.9 L411,129.1 L411.4,132.4 L411.8,135.8 L412.2,139.3 L412.6,142.8 L413,146.2 L413.4,149.4 L413.8,152.6 L414.2,155.5 L414.6,158.2 L415,160.7 L415.4,163 L415.8,165.1 L416.2,166.9 L416.6,168.6 L417,170 L417.4,171.3 L417.8,172.4 L418.2,173.3 L418.6,174.1 L419,174.8 L419.4,175.4 L419.8,175.9 L420.2,176.4 L420.6,176.8 L421,177.1 L421.4,177.4 L421.8,177.6 L422.2,177.8 L422.6,178 L423,178.2 L423.4,178.3 L423.8,178.4 L424.2,178.6 L424.6,178.7 L425,178.7 L425.4,178.8 L425.8,178.9 L426.2,179 L426.6,179 L427,179.1 L427.4,179.1 L427.8,179.1 L428.2,179.1 L428.6,179.1 L429,179.1 L429.4,179.1 L429.8,179.1 L430.2,179.1 L430.6,179 L431,179 L431.4,178.9 L431.8,178.8 L432.2,178.7 L432.6,178.6 L433,178.5 L433.4,178.4 L433.8,178.3 L434.2,178.1 L434.6,178 L435,177.8 L435.4,177.6 L435.8,177.5 L436.2,177.3 L436.6,177 L437,176.8 L437.4,176.6 L437.8,176.4 L438.2,176.1 L438.6,175.8 L439,175.6 L439.4,175.3 L439.8,175 L440.2,174.7 L440.6,174.5 L441,174.2 L441.4,173.9 L441.8,173.6 L442.2,173.3 L442.6,173 L443,172.7 L443.4,172.4 L443.8,172.1 L444.2,171.8 L444.6,171.6 L445,171.3 L445.4,171.1 L445.8,170.8 L446.2,170.6 L446.6,170.4 L447,170.2 L447.4,170 L447.8,169.8 L448.2,169.7 L448.6,169.6 L449,169.5 L449.4,169.4 L449.8,169.3 L450.2,169.3 L450.6,169.2 L451,169.2 L451.4,169.3 L451.8,169.3 L452.2,169.4 L452.6,169.5 L453,169.6 L453.4,169.7 L453.8,169.9 L454.2,170.1 L454.6,170.3 L455,170.5 L455.4,170.7 L455.8,171 L456.2,171.2 L456.6,171.5 L457,171.8 L457.4,172.1 L457.8,172.4 L458.2,172.8 L458.6,173.1 L459,173.5 L459.4,173.8 L459.8,174.2 L460.2,174.5 L460.6,174.9 L461,175.2 L461.4,175.6 L461.8,176 L462.2,176.3 L462.6,176.7 L463,177 L463.4,177.4 L463.8,177.7 L464.2,178 L464.6,178.3 L465,178.6 L465.4,178.9 L465.8,179.2 L466.2,179.5 L466.6,179.7 L467,180 L467.4,180.2 L467.8,180.4 L468.2,180.6 L468.6,180.8 L469,181 L469.4,181.1 L469.8,181.3 L470.2,181.4 L470.6,181.5 L471,181.6 L471.4,181.7 L471.8,181.8 L472.2,181.8 L472.6,181.9 L473,181.9 L473.4,181.9 L473.8,181.9 L474.2,181.9 L474.6,181.8 L475,181.7 L475.4,181.6 L475.8,181.5 L476.2,181.4 L476.6,181.2 L477,181 L477.4,180.8 L477.8,180.5 L478.2,180.2 L478.6,179.8 L479,179.3 L479.4,178.8 L479.8,178.1 L480.2,177.3 L480.6,176.4 L481,175.2 L481.4,173.8 L481.8,172.1 L482.2,170.1 L482.6,167.6 L483,164.7 L483.4,161.4 L483.8,157.4 L484.2,152.8 L484.6,147.6 L485,141.6 L485.4,135 L485.8,127.6 L486.2,119.6 L486.6,110.9 L487,101.8 L487.4,92.2 L487.8,82.4 L488.2,72.6 L488.6,63.1 L489,54.1 L489.4,46 L489.8,39.2 L490.2,34.1 L490.6,30.8 L491,29.8 L491.4,30.9 L491.8,34.2 L492.2,39.5 L492.6,46.4 L493,54.6 L493.4,63.7 L493.8,73.3 L494.2,83.2 L494.6,93.1 L495,102.7 L495.4,112 L495.8,120.7 L496.2,128.9 L496.6,136.3 L497,143.1 L497.4,149.1 L497.8,154.5 L498.2,159.1 L498.6,163.2 L499,166.7 L499.4,169.7 L499.8,172.2 L500.2,174.4 L500.6,176.2 L501,177.7 L501.4,178.9 L501.8,180 L502.2,180.9 L502.6,181.7 L503,182.4 L503.4,183 L503.8,183.5 L504.2,184 L504.6,184.4 L505,184.8 L505.4,185.1 L505.8,185.4 L506.2,185.7 L506.6,186 L507,186.2 L507.4,186.5 L507.8,186.7 L508.2,186.9 L508.6,187.1 L509,187.3 L509.4,187.5 L509.8,187.7 L510.2,187.9 L510.6,188 L511,188.2 L511.4,188.3 L511.8,188.5 L512.2,188.6 L512.6,188.8 L513,188.9 L513.4,189 L513.8,189.1 L514.2,189.3 L514.6,189.4 L515,189.5 L515.4,189.6 L515.8,189.7 L516.2,189.8 L516.6,189.9 L517,190 L517.4,190.1 L517.8,190.2 L518.2,190.3 L518.6,190.4 L519,190.5 L519.4,190.6 L519.8,190.6 L520.2,190.7 L520.6,190.8 L521,190.9 L521.4,191 L521.8,191 L522.2,191.1 L522.6,191.2 L523,191.3 L523.4,191.3 L523.8,191.4 L524.2,191.5 L524.6,191.6 L525,191.6 L525.4,191.7 L525.8,191.8 L526.2,191.8 L526.6,191.9 L527,192 L527.4,192 L527.8,192.1 L528.2,192.2 L528.6,192.2 L529,192.3 L529.4,192.4 L529.8,192.4 L530.2,192.5 L530.6,192.5 L531,192.6 L531.4,192.7 L531.8,192.7 L532.2,192.8 L532.6,192.8 L533,192.9 L533.4,193 L533.8,193 L534.2,193.1 L534.6,193.1 L535,193.2 L535.4,193.2 L535.8,193.3 L536.2,193.4 L536.6,193.4 L537,193.5" fill="none" stroke="#666" stroke-width="1.0"/>
<path d="M322.2,168.7 L322.6,168.8 L323,168.8 L323.4,168.8 L323.8,168.8 L324.2,168.9 L324.6,168.9 L325,168.9 L325.4,168.9 L325.8,168.9 L326.2,168.9 L326.6,169 L327,169 L327.4,169 L327.8,169 L328.2,169 L328.6,169 L329,169 L329.4,169 L329.8,169 L330.2,169 L330.6,169 L331,169 L331.4,169 L331.8,169 L332.2,169 L332.6,169 L333,169 L333.4,169 L333.8,169 L334.2,169 L334.6,169 L335,169 L335.4,169 L335.8,168.9 L336.2,168.9 L336.6,168.9 L337,168.9 L337.4,168.9 L337.8,168.9 L338.2,168.8 L338.6,168.8 L339,168.8 L339.4,168.8 L339.8,168.7 L340.2,168.7 L340.6,168.7 L341,168.6 L341.4,168.6 L341.8,168.6 L342.2,168.5 L342.6,168.5 L343,168.5 L343.4,168.4 L343.8,168.4 L344.2,168.3 L344.6,168.3 L345,168.2 L345.4,168.2 L345.8,168.2 L346.2,168.1 L346.6,168.1 L347,168 L347.4,168 L347.8,167.9 L348.2,167.9 L348.6,167.8 L349,167.8 L349.4,167.7 L349.8,167.7 L350.2,167.6 L350.6,167.6 L351,167.5 L351.4,167.5 L351.8,167.4 L352.2,167.4 L352.6,167.3 L353,167.3 L353.4,167.2 L353.8,167.2 L354.2,167.1 L354.6,167.1 L355,167 L355.4,167 L355.8,167 L356.2,166.9 L356.6,166.9 L357,166.8 L357.4,166.8 L357.8,166.8 L358.2,166.7 L358.6,166.7 L359,166.6 L359.4,166.6 L359.8,166.6 L360.2,166.6 L360.6,166.5 L361,166.5 L361.4,166.5 L361.8,166.5 L362.2,166.4 L362.6,166.4 L363,166.4 L363.4,166.4 L363.8,166.4 L364.2,166.4 L364.6,166.4 L365,166.4 L365.4,166.4 L365.8,166.4 L366.2,166.4 L366.6,166.4 L367,166.4 L367.4,166.5 L367.8,166.5 L368.2,166.5 L368.6,166.5 L369,166.6 L369.4,166.6 L369.8,166.6 L370.2,166.7 L370.6,166.7 L371,166.7 L371.4,166.8 L371.8,166.8 L372.2,166.9 L372.6,167 L373,167 L373.4,167.1 L373.8,167.1 L374.2,167.2 L374.6,167.3 L375,167.4 L375.4,167.4 L375.8,167.5 L376.2,167.6 L376.6,167.7 L377,167.8 L377.4,167.9 L377.8,168 L378.2,168.1 L378.6,168.2 L379,168.3 L379.4,168.4 L379.8,168.5 L380.2,168.6 L380.6,168.7 L381,168.8 L381.4,168.9 L381.8,169.1 L382.2,169.2 L382.6,169.3 L383,169.4 L383.4,169.5 L383.8,169.7 L384.2,169.8 L384.6,169.9 L385,170.1 L385.4,170.2 L385.8,170.3 L386.2,170.5 L386.6,170.6 L387,170.7 L387.4,170.9 L387.8,171 L388.2,171.2 L388.6,171.3 L389,171.4 L389.4,171.6 L389.8,171.7 L390.2,171.9 L390.6,172 L391,172.2 L391.4,172.3 L391.8,172.4 L392.2,172.6 L392.6,172.7 L393,172.9 L393.4,173 L393.8,173.2 L394.2,173.3 L394.6,173.4 L395,173.6 L395.4,173.7 L395.8,173.9 L396.2,174 L396.6,174.1 L397,174.3 L397.4,174.4 L397.8,174.5 L398.2,174.7 L398.6,174.8 L399,174.9 L399.4,175.1 L399.8,175.2 L400.2,175.3 L400.6,175.4 L401,175.6 L401.4,175.7 L401.8,175.8 L402.2,175.9 L402.6,176.1 L403,176.2 L403.4,176.3 L403.8,176.4 L404.2,176.5 L404.6,176.7 L405,176.8 L405.4,176.9 L405.8,177 L406.2,177.1 L406.6,177.2 L407,177.3 L407.4,177.4 L407.8,177.5 L408.2,177.6 L408.6,177.7 L409,177.8 L409.4,177.9 L409.8,178 L410.2,178.1 L410.6,178.2 L411,178.3 L411.4,178.4 L411.8,178.5 L412.2,178.6 L412.6,178.6 L413,178.7 L413.4,178.8 L413.8,178.9 L414.2,179 L414.6,179.1 L415,179.1 L415.4,179.2 L415.8,179.3 L416.2,179.4 L416.6,179.5 L417,179.5 L417.4,179.6 L417.8,179.7 L418.2,179.8 L418.6,179.8 L419,179.9 L419.4,180 L419.8,180 L420.2,180.1 L420.6,180.2 L421,180.2 L421.4,180.3 L421.8,180.4 L422.2,180.4 L422.6,180.5 L423,180.5 L423.4,180.6 L423.4,180.9 L322.2,169.2Z" fill="url(#g1)" fill-opacity="0.8" stroke="none"/>
<path d="M322.2,168.7 L322.6,168.8 L323,168.8 L323.4,168.8 L323.8,168.8 L324.2,168.9 L324.6,168.9 L325,168.9 L325.4,168.9 L325.8,168.9 L326.2,168.9 L326.6,169 L327,169 L327.4,169 L327.8,169 L328.2,169 L328.6,169 L329,169 L329.4,169 L329.8,169 L330.2,169 L330.6,169 L331,169 L331.4,169 L331.8,169 L332.2,169 L332.6,169 L333,169 L333.4,169 L333.8,169 L334.2,169 L334.6,169 L335,169 L335.4,169 L335.8,168.9 L336.2,168.9 L336.6,168.9 L337,168.9 L337.4,168.9 L337.8,168.9 L338.2,168.8 L338.6,168.8 L339,168.8 L339.4,168.8 L339.8,168.7 L340.2,168.7 L340.6,168.7 L341,168.6 L341.4,168.6 L341.8,168.6 L342.2,168.5 L342.6,168.5 L343,168.5 L343.4,168.4 L343.8,168.4 L344.2,168.3 L344.6,168.3 L345,168.2 L345.4,168.2 L345.8,168.2 L346.2,168.1 L346.6,168.1 L347,168 L347.4,168 L347.8,167.9 L348.2,167.9 L348.6,167.8 L349,167.8 L349.4,167.7 L349.8,167.7 L350.2,167.6 L350.6,167.6 L351,167.5 L351.4,167.5 L351.8,167.4 L352.2,167.4 L352.6,167.3 L353,167.3 L353.4,167.2 L353.8,167.2 L354.2,167.1 L354.6,167.1 L355,167 L355.4,167 L355.8,167 L356.2,166.9 L356.6,166.9 L357,166.8 L357.4,166.8 L357.8,166.8 L358.2,166.7 L358.6,166.7 L359,166.6 L359.4,166.6 L359.8,166.6 L360.2,166.6 L360.6,166.5 L361,166.5 L361.4,166.5 L361.8,166.5 L362.2,166.4 L362.6,166.4 L363,166.4 L363.4,166.4 L363.8,166.4 L364.2,166.4 L364.6,166.4 L365,166.4 L365.4,166.4 L365.8,166.4 L366.2,166.4 L366.6,166.4 L367,166.4 L367.4,166.5 L367.8,166.5 L368.2,166.5 L368.6,166.5 L369,166.6 L369.4,166.6 L369.8,166.6 L370.2,166.7 L370.6,166.7 L371,166.7 L371.4,166.8 L371.8,166.8 L372.2,166.9 L372.6,167 L373,167 L373.4,167.1 L373.8,167.1 L374.2,167.2 L374.6,167.3 L375,167.4 L375.4,167.4 L375.8,167.5 L376.2,167.6 L376.6,167.7 L377,167.8 L377.4,167.9 L377.8,168 L378.2,168.1 L378.6,168.2 L379,168.3 L379.4,168.4 L379.8,168.5 L380.2,168.6 L380.6,168.7 L381,168.8 L381.4,168.9 L381.8,169.1 L382.2,169.2 L382.6,169.3 L383,169.4 L383.4,169.5 L383.8,169.7 L384.2,169.8 L384.6,169.9 L385,170.1 L385.4,170.2 L385.8,170.3 L386.2,170.5 L386.6,170.6 L387,170.7 L387.4,170.9 L387.8,171 L388.2,171.2 L388.6,171.3 L389,171.4 L389.4,171.6 L389.8,171.7 L390.2,171.9 L390.6,172 L391,172.2 L391.4,172.3 L391.8,172.4 L392.2,172.6 L392.6,172.7 L393,172.9 L393.4,173 L393.8,173.2 L394.2,173.3 L394.6,173.4 L395,173.6 L395.4,173.7 L395.8,173.9 L396.2,174 L396.6,174.1 L397,174.3 L397.4,174.4 L397.8,174.5 L398.2,174.7 L398.6,174.8 L399,174.9 L399.4,175.1 L399.8,175.2 L400.2,175.3 L400.6,175.4 L401,175.6 L401.4,175.7 L401.8,175.8 L402.2,175.9 L402.6,176.1 L403,176.2 L403.4,176.3 L403.8,176.4 L404.2,176.5 L404.6,176.7 L405,176.8 L405.4,176.9 L405.8,177 L406.2,177.1 L406.6,177.2 L407,177.3 L407.4,177.4 L407.8,177.5 L408.2,177.6 L408.6,177.7 L409,177.8 L409.4,177.9 L409.8,178 L410.2,178.1 L410.6,178.2 L411,178.3 L411.4,178.4 L411.8,178.5 L412.2,178.6 L412.6,178.6 L413,178.7 L413.4,178.8 L413.8,178.9 L414.2,179 L414.6,179.1 L415,179.1 L415.4,179.2 L415.8,179.3 L416.2,179.4 L416.6,179.5 L417,179.5 L417.4,179.6 L417.8,179.7 L418.2,179.8 L418.6,179.8 L419,179.9 L419.4,180 L419.8,180 L420.2,180.1 L420.6,180.2 L421,180.2 L421.4,180.3 L421.8,180.4 L422.2,180.4 L422.6,180.5 L423,180.5 L423.4,180.6" fill="none" stroke="#f5ae7a" stroke-width="0.9"/>
<path d="M424.2,180.7 L424.6,180.7 L425,180.7 L425.4,180.7 L425.8,180.7 L426.2,180.7 L426.6,180.7 L427,180.7 L427.4,180.7 L427.8,180.7 L428.2,180.6 L428.6,180.6 L429,180.6 L429.4,180.5 L429.8,180.4 L430.2,180.4 L430.6,180.3 L431,180.2 L431.4,180.1 L431.8,180 L432.2,179.9 L432.6,179.8 L433,179.7 L433.4,179.5 L433.8,179.4 L434.2,179.2 L434.6,179 L435,178.9 L435.4,178.7 L435.8,178.5 L436.2,178.2 L436.6,178 L437,177.8 L437.4,177.6 L437.8,177.3 L438.2,177 L438.6,176.8 L439,176.5 L439.4,176.2 L439.8,175.9 L440.2,175.7 L440.6,175.4 L441,175.1 L441.4,174.8 L441.8,174.5 L442.2,174.2 L442.6,173.9 L443,173.6 L443.4,173.3 L443.8,173 L444.2,172.7 L444.6,172.5 L445,172.2 L445.4,171.9 L445.8,171.7 L446.2,171.5 L446.6,171.3 L447,171.1 L447.4,170.9 L447.8,170.7 L448.2,170.6 L448.6,170.5 L449,170.4 L449.4,170.3 L449.8,170.2 L450.2,170.2 L450.6,170.2 L451,170.2 L451.4,170.2 L451.8,170.3 L452.2,170.4 L452.6,170.5 L453,170.6 L453.4,170.8 L453.8,170.9 L454.2,171.1 L454.6,171.3 L455,171.6 L455.4,171.8 L455.8,172.1 L456.2,172.4 L456.6,172.7 L457,173 L457.4,173.3 L457.8,173.7 L458.2,174 L458.6,174.4 L459,174.8 L459.4,175.1 L459.8,175.5 L460.2,175.9 L460.6,176.3 L461,176.7 L461.4,177.1 L461.8,177.5 L462.2,177.9 L462.6,178.2 L463,178.6 L463.4,179 L463.8,179.4 L464.2,179.7 L464.6,180.1 L465,180.4 L465.4,180.8 L465.8,181.1 L466.2,181.5 L466.6,181.8 L467,182.1 L467.4,182.4 L467.8,182.7 L468.2,182.9 L468.6,183.2 L469,183.4 L469.4,183.7 L469.8,183.9 L470.2,184.1 L470.6,184.4 L471,184.6 L471.4,184.8 L471.8,184.9 L472.2,185.1 L472.6,185.3 L473,185.4 L473.4,185.6 L473.8,185.7 L474.2,185.9 L474.6,186 L475,186.1 L475.4,186.2 L475.8,186.4 L476.2,186.5 L476.6,186.6 L477,186.7 L477.4,186.8 L477.8,186.8 L478.2,186.9 L478.6,187 L478.6,187.3 L424.2,181Z" fill="url(#g2)" fill-opacity="0.8" stroke="none"/>
<path d="M424.2,180.7 L424.6,180.7 L425,180.7 L425.4,180.7 L425.8,180.7 L426.2,180.7 L426.6,180.7 L427,180.7 L427.4,180.7 L427.8,180.7 L428.2,180.6 L428.6,180.6 L429,180.6 L429.4,180.5 L429.8,180.4 L430.2,180.4 L430.6,180.3 L431,180.2 L431.4,180.1 L431.8,180 L432.2,179.9 L432.6,179.8 L433,179.7 L433.4,179.5 L433.8,179.4 L434.2,179.2 L434.6,179 L435,178.9 L435.4,178.7 L435.8,178.5 L436.2,178.2 L436.6,178 L437,177.8 L437.4,177.6 L437.8,177.3 L438.2,177 L438.6,176.8 L439,176.5 L439.4,176.2 L439.8,175.9 L440.2,175.7 L440.6,175.4 L441,175.1 L441.4,174.8 L441.8,174.5 L442.2,174.2 L442.6,173.9 L443,173.6 L443.4,173.3 L443.8,173 L444.2,172.7 L444.6,172.5 L445,172.2 L445.4,171.9 L445.8,171.7 L446.2,171.5 L446.6,171.3 L447,171.1 L447.4,170.9 L447.8,170.7 L448.2,170.6 L448.6,170.5 L449,170.4 L449.4,170.3 L449.8,170.2 L450.2,170.2 L450.6,170.2 L451,170.2 L451.4,170.2 L451.8,170.3 L452.2,170.4 L452.6,170.5 L453,170.6 L453.4,170.8 L453.8,170.9 L454.2,171.1 L454.6,171.3 L455,171.6 L455.4,171.8 L455.8,172.1 L456.2,172.4 L456.6,172.7 L457,173 L457.4,173.3 L457.8,173.7 L458.2,174 L458.6,174.4 L459,174.8 L459.4,175.1 L459.8,175.5 L460.2,175.9 L460.6,176.3 L461,176.7 L461.4,177.1 L461.8,177.5 L462.2,177.9 L462.6,178.2 L463,178.6 L463.4,179 L463.8,179.4 L464.2,179.7 L464.6,180.1 L465,180.4 L465.4,180.8 L465.8,181.1 L466.2,181.5 L466.6,181.8 L467,182.1 L467.4,182.4 L467.8,182.7 L468.2,182.9 L468.6,183.2 L469,183.4 L469.4,183.7 L469.8,183.9 L470.2,184.1 L470.6,184.4 L471,184.6 L471.4,184.8 L471.8,184.9 L472.2,185.1 L472.6,185.3 L473,185.4 L473.4,185.6 L473.8,185.7 L474.2,185.9 L474.6,186 L475,186.1 L475.4,186.2 L475.8,186.4 L476.2,186.5 L476.6,186.6 L477,186.7 L477.4,186.8 L477.8,186.8 L478.2,186.9 L478.6,187" fill="none" stroke="#7ccc6c" stroke-width="0.9"/>
<path d="M369.8,174.4 L370.2,174.5 L370.6,174.5 L371,174.5 L371.4,174.6 L371.8,174.6 L372.2,174.7 L372.6,174.7 L373,174.7 L373.4,174.8 L373.8,174.8 L374.2,174.8 L374.6,174.9 L375,174.9 L375.4,175 L375.8,175 L376.2,175 L376.6,175.1 L377,175.1 L377.4,175.1 L377.8,175.2 L378.2,175.2 L378.6,175.2 L379,175.3 L379.4,175.3 L379.8,175.3 L380.2,175.4 L380.6,175.4 L381,175.4 L381.4,175.5 L381.8,175.5 L382.2,175.5 L382.6,175.5 L383,175.6 L383.4,175.6 L383.8,175.6 L384.2,175.6 L384.6,175.7 L385,175.7 L385.4,175.7 L385.8,175.7 L386.2,175.7 L386.6,175.8 L387,175.8 L387.4,175.8 L387.8,175.8 L388.2,175.8 L388.6,175.8 L389,175.8 L389.4,175.8 L389.8,175.8 L390.2,175.8 L390.6,175.8 L391,175.8 L391.4,175.8 L391.8,175.7 L392.2,175.7 L392.6,175.7 L393,175.6 L393.4,175.6 L393.8,175.5 L394.2,175.4 L394.6,175.3 L395,175.2 L395.4,175 L395.8,174.8 L396.2,174.5 L396.6,174.2 L397,173.9 L397.4,173.4 L397.8,172.9 L398.2,172.2 L398.6,171.4 L399,170.5 L399.4,169.5 L399.8,168.2 L400.2,166.8 L400.6,165.2 L401,163.3 L401.4,161.3 L401.8,159 L402.2,156.5 L402.6,153.8 L403,150.9 L403.4,147.8 L403.8,144.6 L404.2,141.3 L404.6,138 L405,134.7 L405.4,131.4 L405.8,128.3 L406.2,125.4 L406.6,122.9 L407,120.8 L407.4,119.2 L407.8,118.1 L408.2,117.7 L408.6,117.9 L409,118.7 L409.4,120.2 L409.8,122.1 L410.2,124.6 L410.6,127.4 L411,130.4 L411.4,133.7 L411.8,137.1 L412.2,140.6 L412.6,144 L413,147.3 L413.4,150.6 L413.8,153.7 L414.2,156.6 L414.6,159.2 L415,161.7 L415.4,164 L415.8,166 L416.2,167.8 L416.6,169.5 L417,170.9 L417.4,172.1 L417.8,173.2 L418.2,174.1 L418.6,174.9 L419,175.6 L419.4,176.2 L419.8,176.7 L420.2,177.1 L420.6,177.5 L421,177.8 L421.4,178.1 L421.8,178.4 L422.2,178.6 L422.6,178.8 L423,178.9 L423.4,179.1 L423.8,179.2 L424.2,179.4 L424.6,179.5 L425,179.6 L425.4,179.7 L425.8,179.8 L426.2,179.9 L426.6,180 L427,180.1 L427.4,180.2 L427.8,180.3 L428.2,180.4 L428.6,180.5 L429,180.6 L429.4,180.7 L429.8,180.7 L430.2,180.8 L430.6,180.9 L431,181 L431.4,181 L431.8,181.1 L432.2,181.2 L432.6,181.3 L433,181.3 L433.4,181.4 L433.8,181.5 L434.2,181.5 L434.6,181.6 L435,181.6 L435.4,181.7 L435.8,181.8 L436.2,181.8 L436.6,181.9 L437,182 L437.4,182 L437.8,182.1 L438.2,182.1 L438.6,182.2 L439,182.3 L439.4,182.3 L439.8,182.4 L440.2,182.4 L440.6,182.5 L441,182.5 L441.4,182.6 L441.8,182.7 L442.2,182.7 L442.6,182.8 L443,182.8 L443.4,182.9 L443.8,182.9 L444.2,183 L444.6,183 L445,183.1 L445.4,183.1 L445.8,183.2 L446.2,183.2 L446.6,183.3 L446.6,183.6 L369.8,174.7Z" fill="url(#g3)" fill-opacity="0.8" stroke="none"/>
<path d="M369.8,174.4 L370.2,174.5 L370.6,174.5 L371,174.5 L371.4,174.6 L371.8,174.6 L372.2,174.7 L372.6,174.7 L373,174.7 L373.4,174.8 L373.8,174.8 L374.2,174.8 L374.6,174.9 L375,174.9 L375.4,175 L375.8,175 L376.2,175 L376.6,175.1 L377,175.1 L377.4,175.1 L377.8,175.2 L378.2,175.2 L378.6,175.2 L379,175.3 L379.4,175.3 L379.8,175.3 L380.2,175.4 L380.6,175.4 L381,175.4 L381.4,175.5 L381.8,175.5 L382.2,175.5 L382.6,175.5 L383,175.6 L383.4,175.6 L383.8,175.6 L384.2,175.6 L384.6,175.7 L385,175.7 L385.4,175.7 L385.8,175.7 L386.2,175.7 L386.6,175.8 L387,175.8 L387.4,175.8 L387.8,175.8 L388.2,175.8 L388.6,175.8 L389,175.8 L389.4,175.8 L389.8,175.8 L390.2,175.8 L390.6,175.8 L391,175.8 L391.4,175.8 L391.8,175.7 L392.2,175.7 L392.6,175.7 L393,175.6 L393.4,175.6 L393.8,175.5 L394.2,175.4 L394.6,175.3 L395,175.2 L395.4,175 L395.8,174.8 L396.2,174.5 L396.6,174.2 L397,173.9 L397.4,173.4 L397.8,172.9 L398.2,172.2 L398.6,171.4 L399,170.5 L399.4,169.5 L399.8,168.2 L400.2,166.8 L400.6,165.2 L401,163.3 L401.4,161.3 L401.8,159 L402.2,156.5 L402.6,153.8 L403,150.9 L403.4,147.8 L403.8,144.6 L404.2,141.3 L404.6,138 L405,134.7 L405.4,131.4 L405.8,128.3 L406.2,125.4 L406.6,122.9 L407,120.8 L407.4,119.2 L407.8,118.1 L408.2,117.7 L408.6,117.9 L409,118.7 L409.4,120.2 L409.8,122.1 L410.2,124.6 L410.6,127.4 L411,130.4 L411.4,133.7 L411.8,137.1 L412.2,140.6 L412.6,144 L413,147.3 L413.4,150.6 L413.8,153.7 L414.2,156.6 L414.6,159.2 L415,161.7 L415.4,164 L415.8,166 L416.2,167.8 L416.6,169.5 L417,170.9 L417.4,172.1 L417.8,173.2 L418.2,174.1 L418.6,174.9 L419,175.6 L419.4,176.2 L419.8,176.7 L420.2,177.1 L420.6,177.5 L421,177.8 L421.4,178.1 L421.8,178.4 L422.2,178.6 L422.6,178.8 L423,178.9 L423.4,179.1 L423.8,179.2 L424.2,179.4 L424.6,179.5 L425,179.6 L425.4,179.7 L425.8,179.8 L426.2,179.9 L426.6,180 L427,180.1 L427.4,180.2 L427.8,180.3 L428.2,180.4 L428.6,180.5 L429,180.6 L429.4,180.7 L429.8,180.7 L430.2,180.8 L430.6,180.9 L431,181 L431.4,181 L431.8,181.1 L432.2,181.2 L432.6,181.3 L433,181.3 L433.4,181.4 L433.8,181.5 L434.2,181.5 L434.6,181.6 L435,181.6 L435.4,181.7 L435.8,181.8 L436.2,181.8 L436.6,181.9 L437,182 L437.4,182 L437.8,182.1 L438.2,182.1 L438.6,182.2 L439,182.3 L439.4,182.3 L439.8,182.4 L440.2,182.4 L440.6,182.5 L441,182.5 L441.4,182.6 L441.8,182.7 L442.2,182.7 L442.6,182.8 L443,182.8 L443.4,182.9 L443.8,182.9 L444.2,183 L444.6,183 L445,183.1 L445.4,183.1 L445.8,183.2 L446.2,183.2 L446.6,183.3" fill="none" stroke="#5c72e6" stroke-width="0.9"/>
<path d="M428.2,181.2 L428.6,181.2 L429,181.3 L429.4,181.3 L429.8,181.3 L430.2,181.4 L430.6,181.4 L431,181.5 L431.4,181.5 L431.8,181.5 L432.2,181.6 L432.6,181.6 L433,181.7 L433.4,181.7 L433.8,181.8 L434.2,181.8 L434.6,181.8 L435,181.9 L435.4,181.9 L435.8,182 L436.2,182 L436.6,182 L437,182.1 L437.4,182.1 L437.8,182.2 L438.2,182.2 L438.6,182.2 L439,182.3 L439.4,182.3 L439.8,182.4 L440.2,182.4 L440.6,182.4 L441,182.5 L441.4,182.5 L441.8,182.6 L442.2,182.6 L442.6,182.6 L443,182.7 L443.4,182.7 L443.8,182.7 L444.2,182.8 L444.6,182.8 L445,182.9 L445.4,182.9 L445.8,182.9 L446.2,183 L446.6,183 L447,183 L447.4,183.1 L447.8,183.1 L448.2,183.1 L448.6,183.2 L449,183.2 L449.4,183.2 L449.8,183.3 L450.2,183.3 L450.6,183.3 L451,183.4 L451.4,183.4 L451.8,183.4 L452.2,183.5 L452.6,183.5 L453,183.5 L453.4,183.6 L453.8,183.6 L454.2,183.6 L454.6,183.6 L455,183.7 L455.4,183.7 L455.8,183.7 L456.2,183.7 L456.6,183.8 L457,183.8 L457.4,183.8 L457.8,183.8 L458.2,183.9 L458.6,183.9 L459,183.9 L459.4,183.9 L459.8,183.9 L460.2,184 L460.6,184 L461,184 L461.4,184 L461.8,184 L462.2,184 L462.6,184 L463,184 L463.4,184 L463.8,184 L464.2,184 L464.6,184 L465,184 L465.4,184 L465.8,184 L466.2,184 L466.6,184 L467,184 L467.4,184 L467.8,183.9 L468.2,183.9 L468.6,183.9 L469,183.8 L469.4,183.8 L469.8,183.8 L470.2,183.7 L470.6,183.7 L471,183.6 L471.4,183.5 L471.8,183.5 L472.2,183.4 L472.6,183.3 L473,183.2 L473.4,183.1 L473.8,183 L474.2,182.9 L474.6,182.7 L475,182.6 L475.4,182.4 L475.8,182.2 L476.2,182 L476.6,181.8 L477,181.6 L477.4,181.3 L477.8,181 L478.2,180.6 L478.6,180.2 L479,179.7 L479.4,179.1 L479.8,178.4 L480.2,177.6 L480.6,176.6 L481,175.4 L481.4,174 L481.8,172.3 L482.2,170.2 L482.6,167.8 L483,164.9 L483.4,161.5 L483.8,157.5 L484.2,152.9 L484.6,147.7 L485,141.7 L485.4,135.1 L485.8,127.7 L486.2,119.7 L486.6,111 L487,101.9 L487.4,92.3 L487.8,82.5 L488.2,72.7 L488.6,63.2 L489,54.2 L489.4,46.1 L489.8,39.3 L490.2,34.1 L490.6,30.9 L491,29.8 L491.4,31 L491.8,34.3 L492.2,39.6 L492.6,46.5 L493,54.6 L493.4,63.7 L493.8,73.4 L494.2,83.2 L494.6,93.1 L495,102.8 L495.4,112 L495.8,120.8 L496.2,128.9 L496.6,136.4 L497,143.1 L497.4,149.2 L497.8,154.5 L498.2,159.2 L498.6,163.3 L499,166.8 L499.4,169.7 L499.8,172.3 L500.2,174.4 L500.6,176.2 L501,177.7 L501.4,179 L501.8,180.1 L502.2,181 L502.6,181.8 L503,182.5 L503.4,183 L503.8,183.6 L504.2,184 L504.6,184.4 L505,184.8 L505.4,185.2 L505.8,185.5 L506.2,185.8 L506.6,186 L507,186.3 L507.4,186.5 L507.8,186.8 L508.2,187 L508.6,187.2 L509,187.4 L509.4,187.6 L509.8,187.7 L510.2,187.9 L510.6,188.1 L511,188.2 L511.4,188.4 L511.8,188.5 L512.2,188.7 L512.6,188.8 L513,188.9 L513.4,189.1 L513.8,189.2 L514.2,189.3 L514.6,189.4 L515,189.5 L515.4,189.6 L515.8,189.7 L516.2,189.8 L516.6,189.9 L517,190 L517.4,190.1 L517.8,190.2 L518.2,190.3 L518.6,190.4 L519,190.5 L519.4,190.6 L519.8,190.7 L520.2,190.8 L520.6,190.8 L521,190.9 L521.4,191 L521.8,191.1 L522.2,191.2 L522.6,191.2 L523,191.3 L523.4,191.4 L523.8,191.5 L524.2,191.5 L524.6,191.6 L525,191.7 L525.4,191.7 L525.8,191.8 L526.2,191.9 L526.6,191.9 L527,192 L527.4,192.1 L527.8,192.1 L528.2,192.2 L528.6,192.3 L529,192.3 L529.4,192.4 L529.8,192.4 L530.2,192.5 L530.6,192.6 L531,192.6 L531.4,192.7 L531.8,192.8 L532.2,192.8 L532.6,192.9 L533,192.9 L533.4,193 L533.8,193 L534.2,193.1 L534.6,193.2 L535,193.2 L535.4,193.3 L535.8,193.3 L536.2,193.4 L536.6,193.4 L537,193.5 L537,194.1 L428.2,181.5Z" fill="url(#g4)" fill-opacity="0.8" stroke="none"/>
<path d="M428.2,181.2 L428.6,181.2 L429,181.3 L429.4,181.3 L429.8,181.3 L430.2,181.4 L430.6,181.4 L431,181.5 L431.4,181.5 L431.8,181.5 L432.2,181.6 L432.6,181.6 L433,181.7 L433.4,181.7 L433.8,181.8 L434.2,181.8 L434.6,181.8 L435,181.9 L435.4,181.9 L435.8,182 L436.2,182 L436.6,182 L437,182.1 L437.4,182.1 L437.8,182.2 L438.2,182.2 L438.6,182.2 L439,182.3 L439.4,182.3 L439.8,182.4 L440.2,182.4 L440.6,182.4 L441,182.5 L441.4,182.5 L441.8,182.6 L442.2,182.6 L442.6,182.6 L443,182.7 L443.4,182.7 L443.8,182.7 L444.2,182.8 L444.6,182.8 L445,182.9 L445.4,182.9 L445.8,182.9 L446.2,183 L446.6,183 L447,183 L447.4,183.1 L447.8,183.1 L448.2,183.1 L448.6,183.2 L449,183.2 L449.4,183.2 L449.8,183.3 L450.2,183.3 L450.6,183.3 L451,183.4 L451.4,183.4 L451.8,183.4 L452.2,183.5 L452.6,183.5 L453,183.5 L453.4,183.6 L453.8,183.6 L454.2,183.6 L454.6,183.6 L455,183.7 L455.4,183.7 L455.8,183.7 L456.2,183.7 L456.6,183.8 L457,183.8 L457.4,183.8 L457.8,183.8 L458.2,183.9 L458.6,183.9 L459,183.9 L459.4,183.9 L459.8,183.9 L460.2,184 L460.6,184 L461,184 L461.4,184 L461.8,184 L462.2,184 L462.6,184 L463,184 L463.4,184 L463.8,184 L464.2,184 L464.6,184 L465,184 L465.4,184 L465.8,184 L466.2,184 L466.6,184 L467,184 L467.4,184 L467.8,183.9 L468.2,183.9 L468.6,183.9 L469,183.8 L469.4,183.8 L469.8,183.8 L470.2,183.7 L470.6,183.7 L471,183.6 L471.4,183.5 L471.8,183.5 L472.2,183.4 L472.6,183.3 L473,183.2 L473.4,183.1 L473.8,183 L474.2,182.9 L474.6,182.7 L475,182.6 L475.4,182.4 L475.8,182.2 L476.2,182 L476.6,181.8 L477,181.6 L477.4,181.3 L477.8,181 L478.2,180.6 L478.6,180.2 L479,179.7 L479.4,179.1 L479.8,178.4 L480.2,177.6 L480.6,176.6 L481,175.4 L481.4,174 L481.8,172.3 L482.2,170.2 L482.6,167.8 L483,164.9 L483.4,161.5 L483.8,157.5 L484.2,152.9 L484.6,147.7 L485,141.7 L485.4,135.1 L485.8,127.7 L486.2,119.7 L486.6,111 L487,101.9 L487.4,92.3 L487.8,82.5 L488.2,72.7 L488.6,63.2 L489,54.2 L489.4,46.1 L489.8,39.3 L490.2,34.1 L490.6,30.9 L491,29.8 L491.4,31 L491.8,34.3 L492.2,39.6 L492.6,46.5 L493,54.6 L493.4,63.7 L493.8,73.4 L494.2,83.2 L494.6,93.1 L495,102.8 L495.4,112 L495.8,120.8 L496.2,128.9 L496.6,136.4 L497,143.1 L497.4,149.2 L497.8,154.5 L498.2,159.2 L498.6,163.3 L499,166.8 L499.4,169.7 L499.8,172.3 L500.2,174.4 L500.6,176.2 L501,177.7 L501.4,179 L501.8,180.1 L502.2,181 L502.6,181.8 L503,182.5 L503.4,183 L503.8,183.6 L504.2,184 L504.6,184.4 L505,184.8 L505.4,185.2 L505.8,185.5 L506.2,185.8 L506.6,186 L507,186.3 L507.4,186.5 L507.8,186.8 L508.2,187 L508.6,187.2 L509,187.4 L509.4,187.6 L509.8,187.7 L510.2,187.9 L510.6,188.1 L511,188.2 L511.4,188.4 L511.8,188.5 L512.2,188.7 L512.6,188.8 L513,188.9 L513.4,189.1 L513.8,189.2 L514.2,189.3 L514.6,189.4 L515,189.5 L515.4,189.6 L515.8,189.7 L516.2,189.8 L516.6,189.9 L517,190 L517.4,190.1 L517.8,190.2 L518.2,190.3 L518.6,190.4 L519,190.5 L519.4,190.6 L519.8,190.7 L520.2,190.8 L520.6,190.8 L521,190.9 L521.4,191 L521.8,191.1 L522.2,191.2 L522.6,191.2 L523,191.3 L523.4,191.4 L523.8,191.5 L524.2,191.5 L524.6,191.6 L525,191.7 L525.4,191.7 L525.8,191.8 L526.2,191.9 L526.6,191.9 L527,192 L527.4,192.1 L527.8,192.1 L528.2,192.2 L528.6,192.3 L529,192.3 L529.4,192.4 L529.8,192.4 L530.2,192.5 L530.6,192.6 L531,192.6 L531.4,192.7 L531.8,192.8 L532.2,192.8 L532.6,192.9 L533,192.9 L533.4,193 L533.8,193 L534.2,193.1 L534.6,193.2 L535,193.2 L535.4,193.3 L535.8,193.3 L536.2,193.4 L536.6,193.4 L537,193.5" fill="none" stroke="#9560d8" stroke-width="0.9"/>
<path d="M322.2,169.7 L322.6,169.7 L323,169.8 L323.4,169.8 L323.8,169.9 L324.2,169.9 L324.6,170 L325,170 L325.4,170.1 L325.8,170.1 L326.2,170.2 L326.6,170.2 L327,170.3 L327.4,170.3 L327.8,170.3 L328.2,170.4 L328.6,170.4 L329,170.5 L329.4,170.5 L329.8,170.6 L330.2,170.6 L330.6,170.7 L331,170.7 L331.4,170.8 L331.8,170.8 L332.2,170.9 L332.6,170.9 L333,170.9 L333.4,171 L333.8,171 L334.2,171.1 L334.6,171.1 L335,171.2 L335.4,171.2 L335.8,171.3 L336.2,171.3 L336.6,171.4 L337,171.4 L337.4,171.5 L337.8,171.5 L338.2,171.6 L338.6,171.6 L339,171.6 L339.4,171.7 L339.8,171.7 L340.2,171.8 L340.6,171.8 L341,171.9 L341.4,171.9 L341.8,172 L342.2,172 L342.6,172.1 L343,172.1 L343.4,172.2 L343.8,172.2 L344.2,172.2 L344.6,172.3 L345,172.3 L345.4,172.4 L345.8,172.4 L346.2,172.5 L346.6,172.5 L347,172.6 L347.4,172.6 L347.8,172.7 L348.2,172.7 L348.6,172.8 L349,172.8 L349.4,172.8 L349.8,172.9 L350.2,172.9 L350.6,173 L351,173 L351.4,173.1 L351.8,173.1 L352.2,173.2 L352.6,173.2 L353,173.3 L353.4,173.3 L353.8,173.4 L354.2,173.4 L354.6,173.4 L355,173.5 L355.4,173.5 L355.8,173.6 L356.2,173.6 L356.6,173.7 L357,173.7 L357.4,173.8 L357.8,173.8 L358.2,173.9 L358.6,173.9 L359,174 L359.4,174 L359.8,174.1 L360.2,174.1 L360.6,174.1 L361,174.2 L361.4,174.2 L361.8,174.3 L362.2,174.3 L362.6,174.4 L363,174.4 L363.4,174.5 L363.8,174.5 L364.2,174.6 L364.6,174.6 L365,174.7 L365.4,174.7 L365.8,174.7 L366.2,174.8 L366.6,174.8 L367,174.9 L367.4,174.9 L367.8,175 L368.2,175 L368.6,175.1 L369,175.1 L369.4,175.2 L369.8,175.2 L370.2,175.3 L370.6,175.3 L371,175.3 L371.4,175.4 L371.8,175.4 L372.2,175.5 L372.6,175.5 L373,175.6 L373.4,175.6 L373.8,175.7 L374.2,175.7 L374.6,175.8 L375,175.8 L375.4,175.9 L375.8,175.9 L376.2,175.9 L376.6,176 L377,176 L377.4,176.1 L377.8,176.1 L378.2,176.2 L378.6,176.2 L379,176.3 L379.4,176.3 L379.8,176.4 L380.2,176.4 L380.6,176.5 L381,176.5 L381.4,176.5 L381.8,176.6 L382.2,176.6 L382.6,176.7 L383,176.7 L383.4,176.8 L383.8,176.8 L384.2,176.9 L384.6,176.9 L385,177 L385.4,177 L385.8,177.1 L386.2,177.1 L386.6,177.2 L387,177.2 L387.4,177.2 L387.8,177.3 L388.2,177.3 L388.6,177.4 L389,177.4 L389.4,177.5 L389.8,177.5 L390.2,177.6 L390.6,177.6 L391,177.7 L391.4,177.7 L391.8,177.8 L392.2,177.8 L392.6,177.8 L393,177.9 L393.4,177.9 L393.8,178 L394.2,178 L394.6,178.1 L395,178.1 L395.4,178.2 L395.8,178.2 L396.2,178.3 L396.6,178.3 L397,178.4 L397.4,178.4 L397.8,178.4 L398.2,178.5 L398.6,178.5 L399,178.6 L399.4,178.6 L399.8,178.7 L400.2,178.7 L400.6,178.8 L401,178.8 L401.4,178.9 L401.8,178.9 L402.2,179 L402.6,179 L403,179 L403.4,179.1 L403.8,179.1 L404.2,179.2 L404.6,179.2 L405,179.3 L405.4,179.3 L405.8,179.4 L406.2,179.4 L406.6,179.5 L407,179.5 L407.4,179.6 L407.8,179.6 L408.2,179.7 L408.6,179.7 L409,179.7 L409.4,179.8 L409.8,179.8 L410.2,179.9 L410.6,179.9 L411,180 L411.4,180 L411.8,180.1 L412.2,180.1 L412.6,180.2 L413,180.2 L413.4,180.3 L413.8,180.3 L414.2,180.3 L414.6,180.4 L415,180.4 L415.4,180.5 L415.8,180.5 L416.2,180.6 L416.6,180.6 L417,180.7 L417.4,180.7 L417.8,180.8 L418.2,180.8 L418.6,180.9 L419,180.9 L419.4,180.9 L419.8,181 L420.2,181 L420.6,181.1 L421,181.1 L421.4,181.2 L421.8,181.2 L422.2,181.3 L422.6,181.3 L423,181.4 L423.4,181.4 L423.8,181.5 L424.2,181.5 L424.6,181.5 L425,181.6 L425.4,181.6 L425.8,181.7 L426.2,181.7 L426.6,181.8 L427,181.8 L427.4,181.9 L427.8,181.9 L428.2,182 L428.6,182 L429,182.1 L429.4,182.1 L429.8,182.1 L430.2,182.2 L430.6,182.2 L431,182.3 L431.4,182.3 L431.8,182.4 L432.2,182.4 L432.6,182.5 L433,182.5 L433.4,182.6 L433.8,182.6 L434.2,182.7 L434.6,182.7 L435,182.8 L435.4,182.8 L435.8,182.8 L436.2,182.9 L436.6,182.9 L437,183 L437.4,183 L437.8,183.1 L438.2,183.1 L438.6,183.2 L439,183.2 L439.4,183.3 L439.8,183.3 L440.2,183.4 L440.6,183.4 L441,183.4 L441.4,183.5 L441.8,183.5 L442.2,183.6 L442.6,183.6 L443,183.7 L443.4,183.7 L443.8,183.8 L444.2,183.8 L444.6,183.9 L445,183.9 L445.4,184 L445.8,184 L446.2,184 L446.6,184.1 L447,184.1 L447.4,184.2 L447.8,184.2 L448.2,184.3 L448.6,184.3 L449,184.4 L449.4,184.4 L449.8,184.5 L450.2,184.5 L450.6,184.6 L451,184.6 L451.4,184.6 L451.8,184.7 L452.2,184.7 L452.6,184.8 L453,184.8 L453.4,184.9 L453.8,184.9 L454.2,185 L454.6,185 L455,185.1 L455.4,185.1 L455.8,185.2 L456.2,185.2 L456.6,185.3 L457,185.3 L457.4,185.3 L457.8,185.4 L458.2,185.4 L458.6,185.5 L459,185.5 L459.4,185.6 L459.8,185.6 L460.2,185.7 L460.6,185.7 L461,185.8 L461.4,185.8 L461.8,185.9 L462.2,185.9 L462.6,185.9 L463,186 L463.4,186 L463.8,186.1 L464.2,186.1 L464.6,186.2 L465,186.2 L465.4,186.3 L465.8,186.3 L466.2,186.4 L466.6,186.4 L467,186.5 L467.4,186.5 L467.8,186.5 L468.2,186.6 L468.6,186.6 L469,186.7 L469.4,186.7 L469.8,186.8 L470.2,186.8 L470.6,186.9 L471,186.9 L471.4,187 L471.8,187 L472.2,187.1 L472.6,187.1 L473,187.1 L473.4,187.2 L473.8,187.2 L474.2,187.3 L474.6,187.3 L475,187.4 L475.4,187.4 L475.8,187.5 L476.2,187.5 L476.6,187.6 L477,187.6 L477.4,187.7 L477.8,187.7 L478.2,187.7 L478.6,187.8 L479,187.8 L479.4,187.9 L479.8,187.9 L480.2,188 L480.6,188 L481,188.1 L481.4,188.1 L481.8,188.2 L482.2,188.2 L482.6,188.3 L483,188.3 L483.4,188.4 L483.8,188.4 L484.2,188.4 L484.6,188.5 L485,188.5 L485.4,188.6 L485.8,188.6 L486.2,188.7 L486.6,188.7 L487,188.8 L487.4,188.8 L487.8,188.9 L488.2,188.9 L488.6,189 L489,189 L489.4,189 L489.8,189.1 L490.2,189.1 L490.6,189.2 L491,189.2 L491.4,189.3 L491.8,189.3 L492.2,189.4 L492.6,189.4 L493,189.5 L493.4,189.5 L493.8,189.6 L494.2,189.6 L494.6,189.6 L495,189.7 L495.4,189.7 L495.8,189.8 L496.2,189.8 L496.6,189.9 L497,189.9 L497.4,190 L497.8,190 L498.2,190.1 L498.6,190.1 L499,190.2 L499.4,190.2 L499.8,190.2 L500.2,190.3 L500.6,190.3 L501,190.4 L501.4,190.4 L501.8,190.5 L502.2,190.5 L502.6,190.6 L503,190.6 L503.4,190.7 L503.8,190.7 L504.2,190.8 L504.6,190.8 L505,190.8 L505.4,190.9 L505.8,190.9 L506.2,191 L506.6,191 L507,191.1 L507.4,191.1 L507.8,191.2 L508.2,191.2 L508.6,191.3 L509,191.3 L509.4,191.4 L509.8,191.4 L510.2,191.5 L510.6,191.5 L511,191.5 L511.4,191.6 L511.8,191.6 L512.2,191.7 L512.6,191.7 L513,191.8 L513.4,191.8 L513.8,191.9 L514.2,191.9 L514.6,192 L515,192 L515.4,192.1 L515.8,192.1 L516.2,192.1 L516.6,192.2 L517,192.2 L517.4,192.3 L517.8,192.3 L518.2,192.4 L518.6,192.4 L519,192.5 L519.4,192.5 L519.8,192.6 L520.2,192.6 L520.6,192.7 L521,192.7 L521.4,192.7 L521.8,192.8 L522.2,192.8 L522.6,192.9 L523,192.9 L523.4,193 L523.8,193 L524.2,193.1 L524.6,193.1 L525,193.2 L525.4,193.2 L525.8,193.3 L526.2,193.3 L526.6,193.3 L527,193.4 L527.4,193.4 L527.8,193.5 L528.2,193.5 L528.6,193.6 L529,193.6 L529.4,193.7 L529.8,193.7 L530.2,193.8 L530.6,193.8 L531,193.9 L531.4,193.9 L531.8,194 L532.2,194 L532.6,194 L533,194.1 L533.4,194.1 L533.8,194.2 L534.2,194.2 L534.6,194.3 L535,194.3 L535.4,194.4 L535.8,194.4 L536.2,194.5 L536.6,194.5 L537,194.6" fill="none" stroke="#7cc46c" stroke-width="0.9"/>
<path d="M322.2,169.2 L322.6,169.2 L323,169.3 L323.4,169.3 L323.8,169.4 L324.2,169.4 L324.6,169.5 L325,169.5 L325.4,169.6 L325.8,169.6 L326.2,169.7 L326.6,169.7 L327,169.8 L327.4,169.8 L327.8,169.8 L328.2,169.9 L328.6,169.9 L329,170 L329.4,170 L329.8,170.1 L330.2,170.1 L330.6,170.2 L331,170.2 L331.4,170.3 L331.8,170.3 L332.2,170.4 L332.6,170.4 L333,170.4 L333.4,170.5 L333.8,170.5 L334.2,170.6 L334.6,170.6 L335,170.7 L335.4,170.7 L335.8,170.8 L336.2,170.8 L336.6,170.9 L337,170.9 L337.4,171 L337.8,171 L338.2,171.1 L338.6,171.1 L339,171.1 L339.4,171.2 L339.8,171.2 L340.2,171.3 L340.6,171.3 L341,171.4 L341.4,171.4 L341.8,171.5 L342.2,171.5 L342.6,171.6 L343,171.6 L343.4,171.7 L343.8,171.7 L344.2,171.7 L344.6,171.8 L345,171.8 L345.4,171.9 L345.8,171.9 L346.2,172 L346.6,172 L347,172.1 L347.4,172.1 L347.8,172.2 L348.2,172.2 L348.6,172.3 L349,172.3 L349.4,172.3 L349.8,172.4 L350.2,172.4 L350.6,172.5 L351,172.5 L351.4,172.6 L351.8,172.6 L352.2,172.7 L352.6,172.7 L353,172.8 L353.4,172.8 L353.8,172.9 L354.2,172.9 L354.6,172.9 L355,173 L355.4,173 L355.8,173.1 L356.2,173.1 L356.6,173.2 L357,173.2 L357.4,173.3 L357.8,173.3 L358.2,173.4 L358.6,173.4 L359,173.5 L359.4,173.5 L359.8,173.6 L360.2,173.6 L360.6,173.6 L361,173.7 L361.4,173.7 L361.8,173.8 L362.2,173.8 L362.6,173.9 L363,173.9 L363.4,174 L363.8,174 L364.2,174.1 L364.6,174.1 L365,174.2 L365.4,174.2 L365.8,174.2 L366.2,174.3 L366.6,174.3 L367,174.4 L367.4,174.4 L367.8,174.5 L368.2,174.5 L368.6,174.6 L369,174.6 L369.4,174.7 L369.8,174.7 L370.2,174.8 L370.6,174.8 L371,174.8 L371.4,174.9 L371.8,174.9 L372.2,175 L372.6,175 L373,175.1 L373.4,175.1 L373.8,175.2 L374.2,175.2 L374.6,175.3 L375,175.3 L375.4,175.4 L375.8,175.4 L376.2,175.4 L376.6,175.5 L377,175.5 L377.4,175.6 L377.8,175.6 L378.2,175.7 L378.6,175.7 L379,175.8 L379.4,175.8 L379.8,175.9 L380.2,175.9 L380.6,176 L381,176 L381.4,176 L381.8,176.1 L382.2,176.1 L382.6,176.2 L383,176.2 L383.4,176.3 L383.8,176.3 L384.2,176.4 L384.6,176.4 L385,176.5 L385.4,176.5 L385.8,176.6 L386.2,176.6 L386.6,176.7 L387,176.7 L387.4,176.7 L387.8,176.8 L388.2,176.8 L388.6,176.9 L389,176.9 L389.4,177 L389.8,177 L390.2,177.1 L390.6,177.1 L391,177.2 L391.4,177.2 L391.8,177.3 L392.2,177.3 L392.6,177.3 L393,177.4 L393.4,177.4 L393.8,177.5 L394.2,177.5 L394.6,177.6 L395,177.6 L395.4,177.7 L395.8,177.7 L396.2,177.8 L396.6,177.8 L397,177.9 L397.4,177.9 L397.8,177.9 L398.2,178 L398.6,178 L399,178.1 L399.4,178.1 L399.8,178.2 L400.2,178.2 L400.6,178.3 L401,178.3 L401.4,178.4 L401.8,178.4 L402.2,178.5 L402.6,178.5 L403,178.5 L403.4,178.6 L403.8,178.6 L404.2,178.7 L404.6,178.7 L405,178.8 L405.4,178.8 L405.8,178.9 L406.2,178.9 L406.6,179 L407,179 L407.4,179.1 L407.8,179.1 L408.2,179.2 L408.6,179.2 L409,179.2 L409.4,179.3 L409.8,179.3 L410.2,179.4 L410.6,179.4 L411,179.5 L411.4,179.5 L411.8,179.6 L412.2,179.6 L412.6,179.7 L413,179.7 L413.4,179.8 L413.8,179.8 L414.2,179.8 L414.6,179.9 L415,179.9 L415.4,180 L415.8,180 L416.2,180.1 L416.6,180.1 L417,180.2 L417.4,180.2 L417.8,180.3 L418.2,180.3 L418.6,180.4 L419,180.4 L419.4,180.4 L419.8,180.5 L420.2,180.5 L420.6,180.6 L421,180.6 L421.4,180.7 L421.8,180.7 L422.2,180.8 L422.6,180.8 L423,180.9 L423.4,180.9 L423.8,181 L424.2,181 L424.6,181 L425,181.1 L425.4,181.1 L425.8,181.2 L426.2,181.2 L426.6,181.3 L427,181.3 L427.4,181.4 L427.8,181.4 L428.2,181.5 L428.6,181.5 L429,181.6 L429.4,181.6 L429.8,181.6 L430.2,181.7 L430.6,181.7 L431,181.8 L431.4,181.8 L431.8,181.9 L432.2,181.9 L432.6,182 L433,182 L433.4,182.1 L433.8,182.1 L434.2,182.2 L434.6,182.2 L435,182.3 L435.4,182.3 L435.8,182.3 L436.2,182.4 L436.6,182.4 L437,182.5 L437.4,182.5 L437.8,182.6 L438.2,182.6 L438.6,182.7 L439,182.7 L439.4,182.8 L439.8,182.8 L440.2,182.9 L440.6,182.9 L441,182.9 L441.4,183 L441.8,183 L442.2,183.1 L442.6,183.1 L443,183.2 L443.4,183.2 L443.8,183.3 L444.2,183.3 L444.6,183.4 L445,183.4 L445.4,183.5 L445.8,183.5 L446.2,183.5 L446.6,183.6 L447,183.6 L447.4,183.7 L447.8,183.7 L448.2,183.8 L448.6,183.8 L449,183.9 L449.4,183.9 L449.8,184 L450.2,184 L450.6,184.1 L451,184.1 L451.4,184.1 L451.8,184.2 L452.2,184.2 L452.6,184.3 L453,184.3 L453.4,184.4 L453.8,184.4 L454.2,184.5 L454.6,184.5 L455,184.6 L455.4,184.6 L455.8,184.7 L456.2,184.7 L456.6,184.8 L457,184.8 L457.4,184.8 L457.8,184.9 L458.2,184.9 L458.6,185 L459,185 L459.4,185.1 L459.8,185.1 L460.2,185.2 L460.6,185.2 L461,185.3 L461.4,185.3 L461.8,185.4 L462.2,185.4 L462.6,185.4 L463,185.5 L463.4,185.5 L463.8,185.6 L464.2,185.6 L464.6,185.7 L465,185.7 L465.4,185.8 L465.8,185.8 L466.2,185.9 L466.6,185.9 L467,186 L467.4,186 L467.8,186 L468.2,186.1 L468.6,186.1 L469,186.2 L469.4,186.2 L469.8,186.3 L470.2,186.3 L470.6,186.4 L471,186.4 L471.4,186.5 L471.8,186.5 L472.2,186.6 L472.6,186.6 L473,186.6 L473.4,186.7 L473.8,186.7 L474.2,186.8 L474.6,186.8 L475,186.9 L475.4,186.9 L475.8,187 L476.2,187 L476.6,187.1 L477,187.1 L477.4,187.2 L477.8,187.2 L478.2,187.2 L478.6,187.3 L479,187.3 L479.4,187.4 L479.8,187.4 L480.2,187.5 L480.6,187.5 L481,187.6 L481.4,187.6 L481.8,187.7 L482.2,187.7 L482.6,187.8 L483,187.8 L483.4,187.9 L483.8,187.9 L484.2,187.9 L484.6,188 L485,188 L485.4,188.1 L485.8,188.1 L486.2,188.2 L486.6,188.2 L487,188.3 L487.4,188.3 L487.8,188.4 L488.2,188.4 L488.6,188.5 L489,188.5 L489.4,188.5 L489.8,188.6 L490.2,188.6 L490.6,188.7 L491,188.7 L491.4,188.8 L491.8,188.8 L492.2,188.9 L492.6,188.9 L493,189 L493.4,189 L493.8,189.1 L494.2,189.1 L494.6,189.1 L495,189.2 L495.4,189.2 L495.8,189.3 L496.2,189.3 L496.6,189.4 L497,189.4 L497.4,189.5 L497.8,189.5 L498.2,189.6 L498.6,189.6 L499,189.7 L499.4,189.7 L499.8,189.7 L500.2,189.8 L500.6,189.8 L501,189.9 L501.4,189.9 L501.8,190 L502.2,190 L502.6,190.1 L503,190.1 L503.4,190.2 L503.8,190.2 L504.2,190.3 L504.6,190.3 L505,190.3 L505.4,190.4 L505.8,190.4 L506.2,190.5 L506.6,190.5 L507,190.6 L507.4,190.6 L507.8,190.7 L508.2,190.7 L508.6,190.8 L509,190.8 L509.4,190.9 L509.8,190.9 L510.2,191 L510.6,191 L511,191 L511.4,191.1 L511.8,191.1 L512.2,191.2 L512.6,191.2 L513,191.3 L513.4,191.3 L513.8,191.4 L514.2,191.4 L514.6,191.5 L515,191.5 L515.4,191.6 L515.8,191.6 L516.2,191.6 L516.6,191.7 L517,191.7 L517.4,191.8 L517.8,191.8 L518.2,191.9 L518.6,191.9 L519,192 L519.4,192 L519.8,192.1 L520.2,192.1 L520.6,192.2 L521,192.2 L521.4,192.2 L521.8,192.3 L522.2,192.3 L522.6,192.4 L523,192.4 L523.4,192.5 L523.8,192.5 L524.2,192.6 L524.6,192.6 L525,192.7 L525.4,192.7 L525.8,192.8 L526.2,192.8 L526.6,192.8 L527,192.9 L527.4,192.9 L527.8,193 L528.2,193 L528.6,193.1 L529,193.1 L529.4,193.2 L529.8,193.2 L530.2,193.3 L530.6,193.3 L531,193.4 L531.4,193.4 L531.8,193.5 L532.2,193.5 L532.6,193.5 L533,193.6 L533.4,193.6 L533.8,193.7 L534.2,193.7 L534.6,193.8 L535,193.8 L535.4,193.9 L535.8,193.9 L536.2,194 L536.6,194 L537,194.1" fill="none" stroke="#eaa26a" stroke-width="0.9"/>
<rect x="319.6" y="10" width="219.4" height="206.5" fill="none" stroke="#1a1a1a" stroke-width="1.4"/>
<line x1="514.2" y1="216.5" x2="514.2" y2="219.1" stroke="#1a1a1a" stroke-width="1.1"/>
<text x="514.2" y="228.5" font-family='"Liberation Sans", sans-serif' font-size="8.4" font-weight="bold" fill="#111" stroke="#111" stroke-width="0.2" text-anchor="middle" >850</text>
<line x1="490.4" y1="216.5" x2="490.4" y2="218.1" stroke="#1a1a1a" stroke-width="1.1"/>
<line x1="466.6" y1="216.5" x2="466.6" y2="219.1" stroke="#1a1a1a" stroke-width="1.1"/>
<text x="466.6" y="228.5" font-family='"Liberation Sans", sans-serif' font-size="8.4" font-weight="bold" fill="#111" stroke="#111" stroke-width="0.2" text-anchor="middle" >860</text>
<line x1="442.9" y1="216.5" x2="442.9" y2="218.1" stroke="#1a1a1a" stroke-width="1.1"/>
<line x1="419.1" y1="216.5" x2="419.1" y2="219.1" stroke="#1a1a1a" stroke-width="1.1"/>
<text x="419.1" y="228.5" font-family='"Liberation Sans", sans-serif' font-size="8.4" font-weight="bold" fill="#111" stroke="#111" stroke-width="0.2" text-anchor="middle" >870</text>
<line x1="395.3" y1="216.5" x2="395.3" y2="218.1" stroke="#1a1a1a" stroke-width="1.1"/>
<line x1="371.6" y1="216.5" x2="371.6" y2="219.1" stroke="#1a1a1a" stroke-width="1.1"/>
<text x="371.6" y="228.5" font-family='"Liberation Sans", sans-serif' font-size="8.4" font-weight="bold" fill="#111" stroke="#111" stroke-width="0.2" text-anchor="middle" >880</text>
<line x1="347.8" y1="216.5" x2="347.8" y2="218.1" stroke="#1a1a1a" stroke-width="1.1"/>
<line x1="324" y1="216.5" x2="324" y2="219.1" stroke="#1a1a1a" stroke-width="1.1"/>
<text x="324" y="228.5" font-family='"Liberation Sans", sans-serif' font-size="8.4" font-weight="bold" fill="#111" stroke="#111" stroke-width="0.2" text-anchor="middle" >890</text>
<text x="429.3" y="242.9" font-family='"Liberation Sans", sans-serif' font-size="8.45" font-weight="bold" fill="#111" stroke="#111" stroke-width="0.2" text-anchor="middle" >Binding Energy (eV)</text>
<text x="0" y="0" font-family='"Liberation Sans", sans-serif' font-size="8.5" font-weight="bold" fill="#111" stroke="#111" stroke-width="0.2" text-anchor="middle" transform="translate(306.3,106.6) rotate(-90)">Intensity (a.u.)</text>
<text x="285.3" y="29.3" font-family='"Liberation Sans", sans-serif' font-size="20.3" font-weight="bold" fill="#111" stroke="#111" stroke-width="0.2" text-anchor="start" >(b)</text>
<text x="323.6" y="20.6" font-family='"Liberation Sans", sans-serif' font-size="9.8" font-weight="bold" fill="#111" stroke="#111" stroke-width="0.2" text-anchor="start" >Ni 2p</text>
<text x="402.3" y="106.3" font-family='"Liberation Sans", sans-serif' font-size="7.25" font-weight="bold" fill="#111" stroke="#111" stroke-width="0.2" text-anchor="start" >Ni 2p<tspan font-size="6.8" dy="1.9" letter-spacing="0.45">1/2</tspan></text>
<text x="480.9" y="18.6" font-family='"Liberation Sans", sans-serif' font-size="7.25" font-weight="bold" fill="#111" stroke="#111" stroke-width="0.2" text-anchor="start" >Ni 2p<tspan font-size="6.9" dy="2.5" letter-spacing="0.45">3/2</tspan></text>
<text x="453.8" y="52.1" font-family='"Liberation Serif", serif' font-size="10.8" font-weight="bold" fill="#111" stroke="#111" stroke-width="0.12" text-anchor="start" >Ni</text>
<text x="464.2" y="42.8" font-family='"Liberation Serif", serif' font-size="10" font-weight="bold" fill="#111" stroke="#111" stroke-width="0.12" text-anchor="start" >2<tspan font-size="11.8" dx="-0.5" dy="0.3">+</tspan></text>
<line x1="464.9" y1="57" x2="490.6" y2="75.7" stroke="#111" stroke-width="1.1"/>
<path d="M56.5,329 L69,333 L69,334.5 L56.5,333 Z" fill="#f7c9cf" fill-opacity="0.8"/>
<path d="M56.5,327.3 L57.2,327.3 L57.9,328.2 L58.6,327.6 L59.3,328.2 L60,328.1 L60.7,327.9 L61.4,328.8 L62.1,327.4 L62.8,327.6 L63.5,327.3 L64.2,327.3 L64.9,329.1 L65.6,329.3 L66.3,328 L67,328.4 L67.7,328.8 L68.4,328.5 L69.1,332.3 L69.8,330.4 L70.5,330.9 L71.2,331.6 L71.9,332.3 L72.6,331.3 L73.3,330.5 L74,330.8 L74.7,330.5 L75.4,330.2 L76.1,331.9 L76.8,330.2 L77.5,330.5 L78.2,332 L78.9,331.2 L79.6,330.4 L80.3,329.5 L81,330.1 L81.7,330.9 L82.4,330 L83.1,330.3 L83.8,329.2 L84.5,329.3 L85.2,328.6 L85.9,328.9 L86.6,329.3 L87.3,327.1 L88,327.9 L88.7,327.9 L89.4,327.1 L90.1,327.1 L90.8,327.7 L91.5,328.4 L92.2,327.2 L92.9,326.8 L93.6,325.2 L94.3,327.6 L95,326 L95.7,325.8 L96.4,324.8 L97.1,325.5 L97.8,324.5 L98.5,325.3 L99.2,325.5 L99.9,325 L100.6,325.1 L101.3,324.2 L102,325.9 L102.7,324.2 L103.4,323.3 L104.1,324.5 L104.8,324.1 L105.5,323.9 L106.2,324.5 L106.9,325 L107.6,324 L108.3,324.8 L109,326.1 L109.7,325.7 L110.4,325.2 L111.1,325.5 L111.8,325.5 L112.5,325.7 L113.2,326.5 L113.9,326.1 L114.6,324.6 L115.3,326.6 L116,326.2 L116.7,327.6 L117.4,327 L118.1,327.8 L118.8,329.6 L119.5,327.5 L120.2,327.7 L120.9,327.8 L121.6,327.3 L122.3,328 L123,329.9 L123.7,329.4 L124.4,328.7 L125.1,329.2 L125.8,331 L126.5,330 L127.2,330.4 L127.9,330.9 L128.6,331.6 L129.3,331.8 L130,330.9 L130.7,329.8 L131.4,329.4 L132.1,330 L132.8,329 L133.5,326.9 L134.2,326.7 L134.9,325.7 L135.6,324.7 L136.3,323.4 L137,322 L137.7,321.9 L138.4,320.6 L139.1,322.1 L139.8,321.2 L140.5,319.5 L141.2,321.2 L141.9,320.6 L142.6,318.2 L143.3,320.8 L144,319.8 L144.7,320.4 L145.4,317.7 L146.1,318.7 L146.8,318.3 L147.5,317.8 L148.2,317.6 L148.9,318.1 L149.6,316.1 L150.3,316.4 L151,316.6 L151.7,317.7 L152.4,318.3 L153.1,320 L153.8,321 L154.5,322.1 L155.2,323 L155.9,324.7 L156.6,327.3 L157.3,328.9 L158,330.1 L158.7,331.4 L159.4,334.4 L160.1,334.2 L160.8,336.5 L161.5,338.1 L162.2,338.2 L162.9,340 L163.6,339.3 L164.3,341.6 L165,341.6 L165.7,340.7 L166.4,342.8 L167.1,341.9 L167.8,343.8 L168.5,342.5 L169.2,343 L169.9,343.5 L170.6,343.1 L171.3,343.5 L172,342.9 L172.7,343.9 L173.4,343.3 L174.1,343.5 L174.8,341.2 L175.5,344.1 L176.2,343.2 L176.9,341.7 L177.6,343 L178.3,343.2 L179,343.6 L179.7,341.8 L180.4,343.7 L181.1,342.3 L181.8,344.1 L182.5,342 L183.2,342.5 L183.9,341.5 L184.6,340.8 L185.3,342.2 L186,341.9 L186.7,342.1 L187.4,341.4 L188.1,340.1 L188.8,339.1 L189.5,339.6 L190.2,339.3 L190.9,338.9 L191.6,339.7 L192.3,339.3 L193,338.5 L193.7,338.6 L194.4,338.1 L195.1,338 L195.8,338.1 L196.5,338 L197.2,336.5 L197.9,335.5 L198.6,337.5 L199.3,336.2 L200,336.6 L200.7,334.3 L201.4,335 L202.1,334.9 L202.8,333.6 L203.5,334 L204.2,334.7 L204.9,334.7 L205.6,334.8 L206.3,332.7 L207,332.1 L207.7,333.4 L208.4,333.5 L209.1,332.7 L209.8,331.5 L210.5,332.9 L211.2,332.8 L211.9,332.5 L212.6,331.6 L213.3,332.1 L214,332.4 L214.7,331.4 L215.4,330.4 L216.1,332.1 L216.8,332.2 L217.5,331.9 L218.2,332.6 L218.9,331.6 L219.6,332.1 L220.3,332 L221,332.8 L221.7,333.8 L222.4,332.5 L223.1,334.5 L223.8,334.2 L224.5,333.9 L225.2,333.9 L225.9,335 L226.6,333.7 L227.3,334 L228,333.4 L228.7,334.7 L229.4,335.4 L230.1,334.9 L230.8,334.8 L231.5,334.3 L232.2,334.5 L232.9,333.1 L233.6,334.7 L234.3,333.3 L235,332.4 L235.7,332.1 L236.4,331.6 L237.1,332.2 L237.8,331.7 L238.5,329.1 L239.2,330.1 L239.9,329.2 L240.6,327.3 L241.3,325.7 L242,325.3 L242.7,324.4 L243.4,324.1 L244.1,322.5 L244.8,320.1 L245.5,320.5 L246.2,317.8 L246.9,318.1 L247.6,314.9 L248.3,313.6 L249,311.7 L249.7,310.1 L250.4,309.6 L251.1,307.4 L251.8,305.5 L252.5,303.8 L253.2,301.2 L253.9,301.1 L254.6,300.6 L255.3,300.2 L256,301.7 L256.7,301.6 L257.4,303 L258.1,304.4 L258.8,305.6 L259.5,309.9 L260.2,312.9 L260.9,314.6 L261.6,316.3 L262.3,317.6 L263,322.3 L263.7,325.5 L264.4,327.1 L265.1,329.8 L265.8,332.4 L266.5,334.1 L267.2,334.9 L267.9,337.9 L268.6,339.4 L269.3,339.4 L270,341.8 L270.7,342.4 L271.4,344.7 L272.1,346.4 L272.8,346.1 L273.5,346.3 L274.2,349.5 L274.9,349.4 L275.6,350.7" fill="none" stroke="#7a7a7a" stroke-width="0.8"/>
<path d="M69,331.5 L69.5,331.5 L70,331.5 L70.5,331.4 L71,331.4 L71.5,331.4 L72,331.4 L72.5,331.3 L73,331.3 L73.5,331.3 L74,331.2 L74.5,331.2 L75,331.1 L75.5,331.1 L76,331 L76.5,330.9 L77,330.9 L77.5,330.8 L78,330.7 L78.5,330.7 L79,330.6 L79.5,330.5 L80,330.4 L80.5,330.3 L81,330.2 L81.5,330.1 L82,330 L82.5,329.9 L83,329.8 L83.5,329.7 L84,329.6 L84.5,329.5 L85,329.4 L85.5,329.3 L86,329.1 L86.5,329 L87,328.9 L87.5,328.8 L88,328.6 L88.5,328.5 L89,328.4 L89.5,328.3 L90,328.1 L90.5,328 L91,327.9 L91.5,327.8 L92,327.6 L92.5,327.5 L93,327.4 L93.5,327.3 L94,327.2 L94.5,327 L95,326.9 L95.5,326.8 L96,326.7 L96.5,326.6 L97,326.5 L97.5,326.4 L98,326.3 L98.5,326.2 L99,326.1 L99.5,326.1 L100,326 L100.5,325.9 L101,325.9 L101.5,325.8 L102,325.8 L102.5,325.7 L103,325.7 L103.5,325.7 L104,325.6 L104.5,325.6 L105,325.6 L105.5,325.6 L106,325.6 L106.5,325.6 L107,325.7 L107.5,325.7 L108,325.7 L108.5,325.8 L109,325.8 L109.5,325.9 L110,326 L110.5,326.1 L111,326.1 L111.5,326.2 L112,326.3 L112.5,326.5 L113,326.6 L113.5,326.7 L114,326.8 L114.5,327 L115,327.1 L115.5,327.3 L116,327.4 L116.5,327.6 L117,327.8 L117.5,327.9 L118,328.1 L118.5,328.3 L119,328.5 L119.5,328.7 L120,328.9 L120.5,329.1 L121,329.3 L121.5,329.6 L122,329.8 L122.5,330 L123,330.2 L123.5,330.5 L124,330.7 L124.5,330.9 L125,331.2 L125.5,331.4 L126,331.7 L126.5,331.9 L127,332.2 L127.5,332.4 L128,332.6 L128.5,332.9 L129,333.1 L129.5,333.4 L130,333.6 L130.5,333.9 L131,334.1 L131.5,334.4 L132,334.6 L132.5,334.8 L133,335.1 L133.5,335.3 L134,335.5 L134.5,335.8 L135,336 L135.5,336.2 L136,336.4 L136.5,336.7 L137,336.9 L137.5,337.1 L138,337.3 L138.5,337.5 L139,337.7 L139.5,337.9 L140,338.1 L140.5,338.3 L141,338.5 L141.5,338.7 L142,338.8 L142.5,339 L143,339.2 L143.5,339.4 L144,339.5 L144.5,339.7 L145,339.8 L145.5,340 L146,340.1 L146.5,340.3 L147,340.4 L147.5,340.6 L148,340.7 L148.5,340.9 L149,341 L149.5,341.1 L150,341.2 L150.5,341.4 L151,341.5 L151.5,341.6 L152,341.7 L152.5,341.8 L153,341.9 L153.5,342 L154,342.1 L154.5,342.2 L155,342.3 L155.5,342.4 L156,342.5 L156.5,342.6 L157,342.7 L157.5,342.8 L158,342.8 L158.5,342.9 L159,343 L159.5,343.1 L160,343.1 L160.5,343.2 L161,343.3 L161.5,343.4 L162,343.4 L162.5,343.5 L162.5,343.8 L69,333Z" fill="url(#g5)" fill-opacity="0.8" stroke="none"/>
<path d="M69,331.5 L69.5,331.5 L70,331.5 L70.5,331.4 L71,331.4 L71.5,331.4 L72,331.4 L72.5,331.3 L73,331.3 L73.5,331.3 L74,331.2 L74.5,331.2 L75,331.1 L75.5,331.1 L76,331 L76.5,330.9 L77,330.9 L77.5,330.8 L78,330.7 L78.5,330.7 L79,330.6 L79.5,330.5 L80,330.4 L80.5,330.3 L81,330.2 L81.5,330.1 L82,330 L82.5,329.9 L83,329.8 L83.5,329.7 L84,329.6 L84.5,329.5 L85,329.4 L85.5,329.3 L86,329.1 L86.5,329 L87,328.9 L87.5,328.8 L88,328.6 L88.5,328.5 L89,328.4 L89.5,328.3 L90,328.1 L90.5,328 L91,327.9 L91.5,327.8 L92,327.6 L92.5,327.5 L93,327.4 L93.5,327.3 L94,327.2 L94.5,327 L95,326.9 L95.5,326.8 L96,326.7 L96.5,326.6 L97,326.5 L97.5,326.4 L98,326.3 L98.5,326.2 L99,326.1 L99.5,326.1 L100,326 L100.5,325.9 L101,325.9 L101.5,325.8 L102,325.8 L102.5,325.7 L103,325.7 L103.5,325.7 L104,325.6 L104.5,325.6 L105,325.6 L105.5,325.6 L106,325.6 L106.5,325.6 L107,325.7 L107.5,325.7 L108,325.7 L108.5,325.8 L109,325.8 L109.5,325.9 L110,326 L110.5,326.1 L111,326.1 L111.5,326.2 L112,326.3 L112.5,326.5 L113,326.6 L113.5,326.7 L114,326.8 L114.5,327 L115,327.1 L115.5,327.3 L116,327.4 L116.5,327.6 L117,327.8 L117.5,327.9 L118,328.1 L118.5,328.3 L119,328.5 L119.5,328.7 L120,328.9 L120.5,329.1 L121,329.3 L121.5,329.6 L122,329.8 L122.5,330 L123,330.2 L123.5,330.5 L124,330.7 L124.5,330.9 L125,331.2 L125.5,331.4 L126,331.7 L126.5,331.9 L127,332.2 L127.5,332.4 L128,332.6 L128.5,332.9 L129,333.1 L129.5,333.4 L130,333.6 L130.5,333.9 L131,334.1 L131.5,334.4 L132,334.6 L132.5,334.8 L133,335.1 L133.5,335.3 L134,335.5 L134.5,335.8 L135,336 L135.5,336.2 L136,336.4 L136.5,336.7 L137,336.9 L137.5,337.1 L138,337.3 L138.5,337.5 L139,337.7 L139.5,337.9 L140,338.1 L140.5,338.3 L141,338.5 L141.5,338.7 L142,338.8 L142.5,339 L143,339.2 L143.5,339.4 L144,339.5 L144.5,339.7 L145,339.8 L145.5,340 L146,340.1 L146.5,340.3 L147,340.4 L147.5,340.6 L148,340.7 L148.5,340.9 L149,341 L149.5,341.1 L150,341.2 L150.5,341.4 L151,341.5 L151.5,341.6 L152,341.7 L152.5,341.8 L153,341.9 L153.5,342 L154,342.1 L154.5,342.2 L155,342.3 L155.5,342.4 L156,342.5 L156.5,342.6 L157,342.7 L157.5,342.8 L158,342.8 L158.5,342.9 L159,343 L159.5,343.1 L160,343.1 L160.5,343.2 L161,343.3 L161.5,343.4 L162,343.4 L162.5,343.5" fill="none" stroke="#f5ae7a" stroke-width="0.9"/>
<path d="M161.5,343.4 L162,343.4 L162.5,343.5 L163,343.5 L163.5,343.5 L164,343.5 L164.5,343.5 L165,343.5 L165.5,343.6 L166,343.6 L166.5,343.6 L167,343.6 L167.5,343.6 L168,343.6 L168.5,343.6 L169,343.6 L169.5,343.6 L170,343.6 L170.5,343.5 L171,343.5 L171.5,343.5 L172,343.5 L172.5,343.5 L173,343.4 L173.5,343.4 L174,343.4 L174.5,343.3 L175,343.3 L175.5,343.2 L176,343.2 L176.5,343.1 L177,343.1 L177.5,343 L178,342.9 L178.5,342.9 L179,342.8 L179.5,342.7 L180,342.6 L180.5,342.5 L181,342.4 L181.5,342.3 L182,342.2 L182.5,342.1 L183,342 L183.5,341.9 L184,341.8 L184.5,341.6 L185,341.5 L185.5,341.4 L186,341.2 L186.5,341.1 L187,340.9 L187.5,340.7 L188,340.6 L188.5,340.4 L189,340.2 L189.5,340.1 L190,339.9 L190.5,339.7 L191,339.5 L191.5,339.3 L192,339.1 L192.5,338.9 L193,338.7 L193.5,338.5 L194,338.3 L194.5,338.1 L195,337.9 L195.5,337.7 L196,337.5 L196.5,337.3 L197,337.1 L197.5,336.9 L198,336.6 L198.5,336.4 L199,336.2 L199.5,336 L200,335.8 L200.5,335.6 L201,335.4 L201.5,335.2 L202,335 L202.5,334.8 L203,334.6 L203.5,334.4 L204,334.2 L204.5,334 L205,333.8 L205.5,333.7 L206,333.5 L206.5,333.3 L207,333.2 L207.5,333 L208,332.9 L208.5,332.7 L209,332.6 L209.5,332.5 L210,332.4 L210.5,332.3 L211,332.2 L211.5,332.1 L212,332 L212.5,332 L213,331.9 L213.5,331.9 L214,331.8 L214.5,331.8 L215,331.8 L215.5,331.8 L216,331.8 L216.5,331.8 L217,331.9 L217.5,331.9 L218,331.9 L218.5,332 L219,332.1 L219.5,332.1 L220,332.2 L220.5,332.3 L221,332.4 L221.5,332.6 L222,332.7 L222.5,332.8 L223,333 L223.5,333.1 L224,333.3 L224.5,333.5 L225,333.7 L225.5,333.8 L226,334 L226.5,334.3 L227,334.5 L227.5,334.7 L228,334.9 L228.5,335.1 L229,335.4 L229.5,335.6 L230,335.9 L230.5,336.1 L231,336.4 L231.5,336.6 L232,336.9 L232.5,337.2 L233,337.4 L233.5,337.7 L234,338 L234.5,338.3 L235,338.5 L235.5,338.8 L236,339.1 L236.5,339.4 L237,339.7 L237.5,339.9 L238,340.2 L238.5,340.5 L239,340.8 L239.5,341 L240,341.3 L240.5,341.6 L241,341.8 L241.5,342.1 L242,342.4 L242.5,342.6 L243,342.9 L243.5,343.1 L244,343.4 L244.5,343.6 L245,343.9 L245.5,344.1 L246,344.3 L246.5,344.6 L247,344.8 L247.5,345 L248,345.2 L248.5,345.4 L249,345.6 L249.5,345.8 L250,346 L250.5,346.2 L251,346.4 L251.5,346.6 L252,346.8 L252.5,346.9 L253,347.1 L253.5,347.3 L254,347.4 L254.5,347.6 L255,347.7 L255.5,347.9 L256,348 L256.5,348.1 L257,348.3 L257.5,348.4 L258,348.5 L258.5,348.6 L259,348.7 L259.5,348.8 L260,348.9 L260.5,349 L261,349.1 L261.5,349.2 L262,349.3 L262.5,349.4 L263,349.5 L263.5,349.6 L264,349.7 L264.5,349.7 L265,349.8 L265.5,349.9 L266,349.9 L266.5,350 L267,350.1 L267.5,350.1 L268,350.2 L268.5,350.2 L269,350.3 L269.5,350.3 L270,350.4 L270.5,350.4 L271,350.5 L271.5,350.5 L272,350.6 L272.5,350.6 L272.5,350.9 L161.5,343.7Z" fill="url(#g6)" fill-opacity="0.8" stroke="none"/>
<path d="M161.5,343.4 L162,343.4 L162.5,343.5 L163,343.5 L163.5,343.5 L164,343.5 L164.5,343.5 L165,343.5 L165.5,343.6 L166,343.6 L166.5,343.6 L167,343.6 L167.5,343.6 L168,343.6 L168.5,343.6 L169,343.6 L169.5,343.6 L170,343.6 L170.5,343.5 L171,343.5 L171.5,343.5 L172,343.5 L172.5,343.5 L173,343.4 L173.5,343.4 L174,343.4 L174.5,343.3 L175,343.3 L175.5,343.2 L176,343.2 L176.5,343.1 L177,343.1 L177.5,343 L178,342.9 L178.5,342.9 L179,342.8 L179.5,342.7 L180,342.6 L180.5,342.5 L181,342.4 L181.5,342.3 L182,342.2 L182.5,342.1 L183,342 L183.5,341.9 L184,341.8 L184.5,341.6 L185,341.5 L185.5,341.4 L186,341.2 L186.5,341.1 L187,340.9 L187.5,340.7 L188,340.6 L188.5,340.4 L189,340.2 L189.5,340.1 L190,339.9 L190.5,339.7 L191,339.5 L191.5,339.3 L192,339.1 L192.5,338.9 L193,338.7 L193.5,338.5 L194,338.3 L194.5,338.1 L195,337.9 L195.5,337.7 L196,337.5 L196.5,337.3 L197,337.1 L197.5,336.9 L198,336.6 L198.5,336.4 L199,336.2 L199.5,336 L200,335.8 L200.5,335.6 L201,335.4 L201.5,335.2 L202,335 L202.5,334.8 L203,334.6 L203.5,334.4 L204,334.2 L204.5,334 L205,333.8 L205.5,333.7 L206,333.5 L206.5,333.3 L207,333.2 L207.5,333 L208,332.9 L208.5,332.7 L209,332.6 L209.5,332.5 L210,332.4 L210.5,332.3 L211,332.2 L211.5,332.1 L212,332 L212.5,332 L213,331.9 L213.5,331.9 L214,331.8 L214.5,331.8 L215,331.8 L215.5,331.8 L216,331.8 L216.5,331.8 L217,331.9 L217.5,331.9 L218,331.9 L218.5,332 L219,332.1 L219.5,332.1 L220,332.2 L220.5,332.3 L221,332.4 L221.5,332.6 L222,332.7 L222.5,332.8 L223,333 L223.5,333.1 L224,333.3 L224.5,333.5 L225,333.7 L225.5,333.8 L226,334 L226.5,334.3 L227,334.5 L227.5,334.7 L228,334.9 L228.5,335.1 L229,335.4 L229.5,335.6 L230,335.9 L230.5,336.1 L231,336.4 L231.5,336.6 L232,336.9 L232.5,337.2 L233,337.4 L233.5,337.7 L234,338 L234.5,338.3 L235,338.5 L235.5,338.8 L236,339.1 L236.5,339.4 L237,339.7 L237.5,339.9 L238,340.2 L238.5,340.5 L239,340.8 L239.5,341 L240,341.3 L240.5,341.6 L241,341.8 L241.5,342.1 L242,342.4 L242.5,342.6 L243,342.9 L243.5,343.1 L244,343.4 L244.5,343.6 L245,343.9 L245.5,344.1 L246,344.3 L246.5,344.6 L247,344.8 L247.5,345 L248,345.2 L248.5,345.4 L249,345.6 L249.5,345.8 L250,346 L250.5,346.2 L251,346.4 L251.5,346.6 L252,346.8 L252.5,346.9 L253,347.1 L253.5,347.3 L254,347.4 L254.5,347.6 L255,347.7 L255.5,347.9 L256,348 L256.5,348.1 L257,348.3 L257.5,348.4 L258,348.5 L258.5,348.6 L259,348.7 L259.5,348.8 L260,348.9 L260.5,349 L261,349.1 L261.5,349.2 L262,349.3 L262.5,349.4 L263,349.5 L263.5,349.6 L264,349.7 L264.5,349.7 L265,349.8 L265.5,349.9 L266,349.9 L266.5,350 L267,350.1 L267.5,350.1 L268,350.2 L268.5,350.2 L269,350.3 L269.5,350.3 L270,350.4 L270.5,350.4 L271,350.5 L271.5,350.5 L272,350.6 L272.5,350.6" fill="none" stroke="#7ccc6c" stroke-width="0.9"/>
<path d="M238,349 L238.5,349 L239,348.9 L239.5,348.8 L240,348.7 L240.5,348.5 L241,348.3 L241.5,348 L242,347.7 L242.5,347.2 L243,346.7 L243.5,346.1 L244,345.4 L244.5,344.6 L245,343.7 L245.5,342.6 L246,341.4 L246.5,340.1 L247,338.6 L247.5,337 L248,335.2 L248.5,333.4 L249,331.4 L249.5,329.4 L250,327.3 L250.5,325.2 L251,323.1 L251.5,321 L252,319 L252.5,317.1 L253,315.4 L253.5,313.9 L254,312.6 L254.5,311.5 L255,310.7 L255.5,310.2 L256,310 L256.5,310.1 L257,310.5 L257.5,311.3 L258,312.3 L258.5,313.5 L259,315 L259.5,316.7 L260,318.6 L260.5,320.6 L261,322.7 L261.5,324.8 L262,327 L262.5,329.1 L263,331.2 L263.5,333.3 L264,335.2 L264.5,337 L265,338.8 L265.5,340.3 L266,341.8 L266.5,343.1 L267,344.2 L267.5,345.3 L268,346.2 L268.5,347 L269,347.7 L269.5,348.3 L270,348.8 L270.5,349.2 L271,349.5 L271.5,349.8 L272,350.1 L272.5,350.2 L273,350.4 L273.5,350.5 L274,350.6 L274,350.9 L238,349.3Z" fill="url(#g7)" fill-opacity="0.8" stroke="none"/>
<path d="M238,349 L238.5,349 L239,348.9 L239.5,348.8 L240,348.7 L240.5,348.5 L241,348.3 L241.5,348 L242,347.7 L242.5,347.2 L243,346.7 L243.5,346.1 L244,345.4 L244.5,344.6 L245,343.7 L245.5,342.6 L246,341.4 L246.5,340.1 L247,338.6 L247.5,337 L248,335.2 L248.5,333.4 L249,331.4 L249.5,329.4 L250,327.3 L250.5,325.2 L251,323.1 L251.5,321 L252,319 L252.5,317.1 L253,315.4 L253.5,313.9 L254,312.6 L254.5,311.5 L255,310.7 L255.5,310.2 L256,310 L256.5,310.1 L257,310.5 L257.5,311.3 L258,312.3 L258.5,313.5 L259,315 L259.5,316.7 L260,318.6 L260.5,320.6 L261,322.7 L261.5,324.8 L262,327 L262.5,329.1 L263,331.2 L263.5,333.3 L264,335.2 L264.5,337 L265,338.8 L265.5,340.3 L266,341.8 L266.5,343.1 L267,344.2 L267.5,345.3 L268,346.2 L268.5,347 L269,347.7 L269.5,348.3 L270,348.8 L270.5,349.2 L271,349.5 L271.5,349.8 L272,350.1 L272.5,350.2 L273,350.4 L273.5,350.5 L274,350.6" fill="none" stroke="#9560d8" stroke-width="0.9"/>
<path d="M134.5,340.7 L135,340.7 L135.5,340.7 L136,340.6 L136.5,340.5 L137,340.4 L137.5,340.3 L138,340.1 L138.5,339.9 L139,339.6 L139.5,339.3 L140,338.9 L140.5,338.5 L141,338 L141.5,337.5 L142,336.8 L142.5,336.2 L143,335.4 L143.5,334.6 L144,333.7 L144.5,332.8 L145,331.9 L145.5,330.9 L146,329.9 L146.5,328.9 L147,328 L147.5,327 L148,326.1 L148.5,325.3 L149,324.5 L149.5,323.9 L150,323.3 L150.5,322.9 L151,322.6 L151.5,322.4 L152,322.4 L152.5,322.5 L153,322.8 L153.5,323.2 L154,323.7 L154.5,324.4 L155,325.1 L155.5,326 L156,326.9 L156.5,327.9 L157,328.9 L157.5,330 L158,331.1 L158.5,332.2 L159,333.3 L159.5,334.3 L160,335.3 L160.5,336.3 L161,337.2 L161.5,338 L162,338.8 L162.5,339.5 L163,340.1 L163.5,340.7 L164,341.3 L164.5,341.7 L165,342.1 L165.5,342.5 L166,342.8 L166.5,343.1 L167,343.3 L167.5,343.6 L168,343.7 L168.5,343.9 L169,344 L169.5,344.1 L169.5,344.4 L134.5,341Z" fill="url(#g8)" fill-opacity="0.8" stroke="none"/>
<path d="M134.5,340.7 L135,340.7 L135.5,340.7 L136,340.6 L136.5,340.5 L137,340.4 L137.5,340.3 L138,340.1 L138.5,339.9 L139,339.6 L139.5,339.3 L140,338.9 L140.5,338.5 L141,338 L141.5,337.5 L142,336.8 L142.5,336.2 L143,335.4 L143.5,334.6 L144,333.7 L144.5,332.8 L145,331.9 L145.5,330.9 L146,329.9 L146.5,328.9 L147,328 L147.5,327 L148,326.1 L148.5,325.3 L149,324.5 L149.5,323.9 L150,323.3 L150.5,322.9 L151,322.6 L151.5,322.4 L152,322.4 L152.5,322.5 L153,322.8 L153.5,323.2 L154,323.7 L154.5,324.4 L155,325.1 L155.5,326 L156,326.9 L156.5,327.9 L157,328.9 L157.5,330 L158,331.1 L158.5,332.2 L159,333.3 L159.5,334.3 L160,335.3 L160.5,336.3 L161,337.2 L161.5,338 L162,338.8 L162.5,339.5 L163,340.1 L163.5,340.7 L164,341.3 L164.5,341.7 L165,342.1 L165.5,342.5 L166,342.8 L166.5,343.1 L167,343.3 L167.5,343.6 L168,343.7 L168.5,343.9 L169,344 L169.5,344.1" fill="none" stroke="#5c72e6" stroke-width="0.9"/>
<path d="M123,339.5 L123.5,339.5 L124,339.5 L124.5,339.4 L125,339.4 L125.5,339.3 L126,339.3 L126.5,339.2 L127,339.1 L127.5,338.9 L128,338.8 L128.5,338.6 L129,338.4 L129.5,338.2 L130,338 L130.5,337.7 L131,337.4 L131.5,337.1 L132,336.8 L132.5,336.5 L133,336.1 L133.5,335.7 L134,335.4 L134.5,335 L135,334.6 L135.5,334.3 L136,333.9 L136.5,333.6 L137,333.3 L137.5,333 L138,332.8 L138.5,332.6 L139,332.4 L139.5,332.3 L140,332.2 L140.5,332.2 L141,332.2 L141.5,332.3 L142,332.4 L142.5,332.6 L143,332.8 L143.5,333.1 L144,333.4 L144.5,333.7 L145,334.1 L145.5,334.5 L146,334.9 L146.5,335.4 L147,335.9 L147.5,336.3 L148,336.8 L148.5,337.3 L149,337.7 L149.5,338.2 L150,338.6 L150.5,339.1 L151,339.5 L151.5,339.9 L152,340.2 L152.5,340.6 L153,340.9 L153.5,341.2 L154,341.5 L154.5,341.7 L155,341.9 L155.5,342.2 L156,342.3 L156.5,342.5 L157,342.7 L157.5,342.8 L158,342.9 L158.5,343.1 L159,343.2 L159,343.5 L123,339.8Z" fill="url(#g9)" fill-opacity="0.8" stroke="none"/>
<path d="M123,339.5 L123.5,339.5 L124,339.5 L124.5,339.4 L125,339.4 L125.5,339.3 L126,339.3 L126.5,339.2 L127,339.1 L127.5,338.9 L128,338.8 L128.5,338.6 L129,338.4 L129.5,338.2 L130,338 L130.5,337.7 L131,337.4 L131.5,337.1 L132,336.8 L132.5,336.5 L133,336.1 L133.5,335.7 L134,335.4 L134.5,335 L135,334.6 L135.5,334.3 L136,333.9 L136.5,333.6 L137,333.3 L137.5,333 L138,332.8 L138.5,332.6 L139,332.4 L139.5,332.3 L140,332.2 L140.5,332.2 L141,332.2 L141.5,332.3 L142,332.4 L142.5,332.6 L143,332.8 L143.5,333.1 L144,333.4 L144.5,333.7 L145,334.1 L145.5,334.5 L146,334.9 L146.5,335.4 L147,335.9 L147.5,336.3 L148,336.8 L148.5,337.3 L149,337.7 L149.5,338.2 L150,338.6 L150.5,339.1 L151,339.5 L151.5,339.9 L152,340.2 L152.5,340.6 L153,340.9 L153.5,341.2 L154,341.5 L154.5,341.7 L155,341.9 L155.5,342.2 L156,342.3 L156.5,342.5 L157,342.7 L157.5,342.8 L158,342.9 L158.5,343.1 L159,343.2" fill="none" stroke="#f09aa6" stroke-width="0.9"/>
<path d="M225.5,348.3 L226,348.3 L226.5,348.2 L227,348.2 L227.5,348.1 L228,348 L228.5,347.9 L229,347.8 L229.5,347.6 L230,347.5 L230.5,347.2 L231,347 L231.5,346.7 L232,346.4 L232.5,346.1 L233,345.7 L233.5,345.3 L234,344.8 L234.5,344.3 L235,343.8 L235.5,343.3 L236,342.7 L236.5,342 L237,341.4 L237.5,340.7 L238,340 L238.5,339.3 L239,338.6 L239.5,338 L240,337.3 L240.5,336.6 L241,336 L241.5,335.4 L242,334.9 L242.5,334.4 L243,334 L243.5,333.6 L244,333.4 L244.5,333.2 L245,333 L245.5,333 L246,333 L246.5,333.2 L247,333.4 L247.5,333.7 L248,334.1 L248.5,334.5 L249,335 L249.5,335.6 L250,336.2 L250.5,336.9 L251,337.6 L251.5,338.3 L252,339 L252.5,339.8 L253,340.5 L253.5,341.2 L254,342 L254.5,342.7 L255,343.4 L255.5,344 L256,344.6 L256.5,345.2 L257,345.8 L257.5,346.3 L258,346.8 L258.5,347.2 L259,347.7 L259.5,348 L260,348.4 L260.5,348.7 L261,348.9 L261.5,349.2 L262,349.4 L262.5,349.6 L263,349.7 L263.5,349.9 L264,350 L264.5,350.1 L265,350.2 L265.5,350.3 L265.5,350.6 L225.5,348.6Z" fill="url(#g10)" fill-opacity="0.8" stroke="none"/>
<path d="M225.5,348.3 L226,348.3 L226.5,348.2 L227,348.2 L227.5,348.1 L228,348 L228.5,347.9 L229,347.8 L229.5,347.6 L230,347.5 L230.5,347.2 L231,347 L231.5,346.7 L232,346.4 L232.5,346.1 L233,345.7 L233.5,345.3 L234,344.8 L234.5,344.3 L235,343.8 L235.5,343.3 L236,342.7 L236.5,342 L237,341.4 L237.5,340.7 L238,340 L238.5,339.3 L239,338.6 L239.5,338 L240,337.3 L240.5,336.6 L241,336 L241.5,335.4 L242,334.9 L242.5,334.4 L243,334 L243.5,333.6 L244,333.4 L244.5,333.2 L245,333 L245.5,333 L246,333 L246.5,333.2 L247,333.4 L247.5,333.7 L248,334.1 L248.5,334.5 L249,335 L249.5,335.6 L250,336.2 L250.5,336.9 L251,337.6 L251.5,338.3 L252,339 L252.5,339.8 L253,340.5 L253.5,341.2 L254,342 L254.5,342.7 L255,343.4 L255.5,344 L256,344.6 L256.5,345.2 L257,345.8 L257.5,346.3 L258,346.8 L258.5,347.2 L259,347.7 L259.5,348 L260,348.4 L260.5,348.7 L261,348.9 L261.5,349.2 L262,349.4 L262.5,349.6 L263,349.7 L263.5,349.9 L264,350 L264.5,350.1 L265,350.2 L265.5,350.3" fill="none" stroke="#88c8f2" stroke-width="0.9"/>
<path d="M69,333.6 L69.5,333.7 L70,333.7 L70.5,333.8 L71,333.9 L71.5,333.9 L72,334 L72.5,334.1 L73,334.2 L73.5,334.2 L74,334.3 L74.5,334.4 L75,334.4 L75.5,334.5 L76,334.6 L76.5,334.6 L77,334.7 L77.5,334.8 L78,334.8 L78.5,334.9 L79,335 L79.5,335 L80,335.1 L80.5,335.2 L81,335.2 L81.5,335.3 L82,335.4 L82.5,335.4 L83,335.5 L83.5,335.6 L84,335.6 L84.5,335.7 L85,335.8 L85.5,335.8 L86,335.9 L86.5,335.9 L87,336 L87.5,336.1 L88,336.1 L88.5,336.2 L89,336.3 L89.5,336.3 L90,336.4 L90.5,336.5 L91,336.5 L91.5,336.6 L92,336.7 L92.5,336.7 L93,336.8 L93.5,336.8 L94,336.9 L94.5,337 L95,337 L95.5,337.1 L96,337.2 L96.5,337.2 L97,337.3 L97.5,337.3 L98,337.4 L98.5,337.5 L99,337.5 L99.5,337.6 L100,337.7 L100.5,337.7 L101,337.8 L101.5,337.8 L102,337.9 L102.5,338 L103,338 L103.5,338.1 L104,338.1 L104.5,338.2 L105,338.3 L105.5,338.3 L106,338.4 L106.5,338.4 L107,338.5 L107.5,338.6 L108,338.6 L108.5,338.7 L109,338.7 L109.5,338.8 L110,338.9 L110.5,338.9 L111,339 L111.5,339 L112,339.1 L112.5,339.2 L113,339.2 L113.5,339.3 L114,339.3 L114.5,339.4 L115,339.4 L115.5,339.5 L116,339.6 L116.5,339.6 L117,339.7 L117.5,339.7 L118,339.8 L118.5,339.9 L119,339.9 L119.5,340 L120,340 L120.5,340.1 L121,340.1 L121.5,340.2 L122,340.2 L122.5,340.3 L123,340.4 L123.5,340.4 L124,340.5 L124.5,340.5 L125,340.6 L125.5,340.6 L126,340.7 L126.5,340.7 L127,340.8 L127.5,340.9 L128,340.9 L128.5,341 L129,341 L129.5,341.1 L130,341.1 L130.5,341.2 L131,341.2 L131.5,341.3 L132,341.3 L132.5,341.4 L133,341.5 L133.5,341.5 L134,341.6 L134.5,341.6 L135,341.7 L135.5,341.7 L136,341.8 L136.5,341.8 L137,341.9 L137.5,341.9 L138,342 L138.5,342 L139,342.1 L139.5,342.1 L140,342.2 L140.5,342.2 L141,342.3 L141.5,342.3 L142,342.4 L142.5,342.4 L143,342.5 L143.5,342.5 L144,342.6 L144.5,342.6 L145,342.7 L145.5,342.7 L146,342.8 L146.5,342.8 L147,342.9 L147.5,342.9 L148,343 L148.5,343 L149,343.1 L149.5,343.1 L150,343.2 L150.5,343.2 L151,343.3 L151.5,343.3 L152,343.4 L152.5,343.4 L153,343.5 L153.5,343.5 L154,343.6 L154.5,343.6 L155,343.7 L155.5,343.7 L156,343.8 L156.5,343.8 L157,343.9 L157.5,343.9 L158,344 L158.5,344 L159,344.1 L159.5,344.1 L160,344.1 L160.5,344.2 L161,344.2 L161.5,344.3 L162,344.3 L162.5,344.4 L163,344.4 L163.5,344.5 L164,344.5 L164.5,344.6 L165,344.6 L165.5,344.7 L166,344.7 L166.5,344.7 L167,344.8 L167.5,344.8 L168,344.9 L168.5,344.9 L169,345 L169.5,345 L170,345.1 L170.5,345.1 L171,345.1 L171.5,345.2 L172,345.2 L172.5,345.3 L173,345.3 L173.5,345.4 L174,345.4 L174.5,345.4 L175,345.5 L175.5,345.5 L176,345.6 L176.5,345.6 L177,345.7 L177.5,345.7 L178,345.7 L178.5,345.8 L179,345.8 L179.5,345.9 L180,345.9 L180.5,346 L181,346 L181.5,346 L182,346.1 L182.5,346.1 L183,346.2 L183.5,346.2 L184,346.2 L184.5,346.3 L185,346.3 L185.5,346.4 L186,346.4 L186.5,346.4 L187,346.5 L187.5,346.5 L188,346.6 L188.5,346.6 L189,346.6 L189.5,346.7 L190,346.7 L190.5,346.8 L191,346.8 L191.5,346.8 L192,346.9 L192.5,346.9 L193,347 L193.5,347 L194,347 L194.5,347.1 L195,347.1 L195.5,347.1 L196,347.2 L196.5,347.2 L197,347.3 L197.5,347.3 L198,347.3 L198.5,347.4 L199,347.4 L199.5,347.4 L200,347.5 L200.5,347.5 L201,347.6 L201.5,347.6 L202,347.6 L202.5,347.7 L203,347.7 L203.5,347.7 L204,347.8 L204.5,347.8 L205,347.8 L205.5,347.9 L206,347.9 L206.5,347.9 L207,348 L207.5,348 L208,348 L208.5,348.1 L209,348.1 L209.5,348.2 L210,348.2 L210.5,348.2 L211,348.3 L211.5,348.3 L212,348.3 L212.5,348.4 L213,348.4 L213.5,348.4 L214,348.5 L214.5,348.5 L215,348.5 L215.5,348.6 L216,348.6 L216.5,348.6 L217,348.7 L217.5,348.7 L218,348.7 L218.5,348.7 L219,348.8 L219.5,348.8 L220,348.8 L220.5,348.9 L221,348.9 L221.5,348.9 L222,349 L222.5,349 L223,349 L223.5,349.1 L224,349.1 L224.5,349.1 L225,349.2 L225.5,349.2 L226,349.2 L226.5,349.2 L227,349.3 L227.5,349.3 L228,349.3 L228.5,349.4 L229,349.4 L229.5,349.4 L230,349.5 L230.5,349.5 L231,349.5 L231.5,349.5 L232,349.6 L232.5,349.6 L233,349.6 L233.5,349.7 L234,349.7 L234.5,349.7 L235,349.7 L235.5,349.8 L236,349.8 L236.5,349.8 L237,349.8 L237.5,349.9 L238,349.9 L238.5,349.9 L239,350 L239.5,350 L240,350 L240.5,350 L241,350.1 L241.5,350.1 L242,350.1 L242.5,350.1 L243,350.2 L243.5,350.2 L244,350.2 L244.5,350.2 L245,350.3 L245.5,350.3 L246,350.3 L246.5,350.3 L247,350.4 L247.5,350.4 L248,350.4 L248.5,350.4 L249,350.5 L249.5,350.5 L250,350.5 L250.5,350.5 L251,350.6 L251.5,350.6 L252,350.6 L252.5,350.6 L253,350.7 L253.5,350.7 L254,350.7 L254.5,350.7 L255,350.8 L255.5,350.8 L256,350.8 L256.5,350.8 L257,350.8 L257.5,350.9 L258,350.9 L258.5,350.9 L259,350.9 L259.5,351 L260,351 L260.5,351 L261,351 L261.5,351 L262,351.1 L262.5,351.1 L263,351.1 L263.5,351.1 L264,351.1 L264.5,351.2 L265,351.2 L265.5,351.2 L266,351.2 L266.5,351.2 L267,351.3 L267.5,351.3 L268,351.3 L268.5,351.3 L269,351.3 L269.5,351.4 L270,351.4 L270.5,351.4 L271,351.4 L271.5,351.4 L272,351.5 L272.5,351.5 L273,351.5 L273.5,351.5 L274,351.5 L274.5,351.6 L275,351.6 L275.5,351.6 L276,351.6" fill="none" stroke="#8ccaf0" stroke-width="0.8"/>
<path d="M69,333 L69.5,333.1 L70,333.1 L70.5,333.2 L71,333.3 L71.5,333.3 L72,333.4 L72.5,333.5 L73,333.6 L73.5,333.6 L74,333.7 L74.5,333.8 L75,333.8 L75.5,333.9 L76,334 L76.5,334 L77,334.1 L77.5,334.2 L78,334.2 L78.5,334.3 L79,334.4 L79.5,334.4 L80,334.5 L80.5,334.6 L81,334.6 L81.5,334.7 L82,334.8 L82.5,334.8 L83,334.9 L83.5,335 L84,335 L84.5,335.1 L85,335.2 L85.5,335.2 L86,335.3 L86.5,335.3 L87,335.4 L87.5,335.5 L88,335.5 L88.5,335.6 L89,335.7 L89.5,335.7 L90,335.8 L90.5,335.9 L91,335.9 L91.5,336 L92,336.1 L92.5,336.1 L93,336.2 L93.5,336.2 L94,336.3 L94.5,336.4 L95,336.4 L95.5,336.5 L96,336.6 L96.5,336.6 L97,336.7 L97.5,336.7 L98,336.8 L98.5,336.9 L99,336.9 L99.5,337 L100,337.1 L100.5,337.1 L101,337.2 L101.5,337.2 L102,337.3 L102.5,337.4 L103,337.4 L103.5,337.5 L104,337.5 L104.5,337.6 L105,337.7 L105.5,337.7 L106,337.8 L106.5,337.8 L107,337.9 L107.5,338 L108,338 L108.5,338.1 L109,338.1 L109.5,338.2 L110,338.3 L110.5,338.3 L111,338.4 L111.5,338.4 L112,338.5 L112.5,338.6 L113,338.6 L113.5,338.7 L114,338.7 L114.5,338.8 L115,338.8 L115.5,338.9 L116,339 L116.5,339 L117,339.1 L117.5,339.1 L118,339.2 L118.5,339.3 L119,339.3 L119.5,339.4 L120,339.4 L120.5,339.5 L121,339.5 L121.5,339.6 L122,339.6 L122.5,339.7 L123,339.8 L123.5,339.8 L124,339.9 L124.5,339.9 L125,340 L125.5,340 L126,340.1 L126.5,340.1 L127,340.2 L127.5,340.3 L128,340.3 L128.5,340.4 L129,340.4 L129.5,340.5 L130,340.5 L130.5,340.6 L131,340.6 L131.5,340.7 L132,340.7 L132.5,340.8 L133,340.9 L133.5,340.9 L134,341 L134.5,341 L135,341.1 L135.5,341.1 L136,341.2 L136.5,341.2 L137,341.3 L137.5,341.3 L138,341.4 L138.5,341.4 L139,341.5 L139.5,341.5 L140,341.6 L140.5,341.6 L141,341.7 L141.5,341.7 L142,341.8 L142.5,341.8 L143,341.9 L143.5,341.9 L144,342 L144.5,342 L145,342.1 L145.5,342.1 L146,342.2 L146.5,342.2 L147,342.3 L147.5,342.3 L148,342.4 L148.5,342.4 L149,342.5 L149.5,342.5 L150,342.6 L150.5,342.6 L151,342.7 L151.5,342.7 L152,342.8 L152.5,342.8 L153,342.9 L153.5,342.9 L154,343 L154.5,343 L155,343.1 L155.5,343.1 L156,343.2 L156.5,343.2 L157,343.3 L157.5,343.3 L158,343.4 L158.5,343.4 L159,343.5 L159.5,343.5 L160,343.5 L160.5,343.6 L161,343.6 L161.5,343.7 L162,343.7 L162.5,343.8 L163,343.8 L163.5,343.9 L164,343.9 L164.5,344 L165,344 L165.5,344.1 L166,344.1 L166.5,344.1 L167,344.2 L167.5,344.2 L168,344.3 L168.5,344.3 L169,344.4 L169.5,344.4 L170,344.5 L170.5,344.5 L171,344.5 L171.5,344.6 L172,344.6 L172.5,344.7 L173,344.7 L173.5,344.8 L174,344.8 L174.5,344.8 L175,344.9 L175.5,344.9 L176,345 L176.5,345 L177,345.1 L177.5,345.1 L178,345.1 L178.5,345.2 L179,345.2 L179.5,345.3 L180,345.3 L180.5,345.4 L181,345.4 L181.5,345.4 L182,345.5 L182.5,345.5 L183,345.6 L183.5,345.6 L184,345.6 L184.5,345.7 L185,345.7 L185.5,345.8 L186,345.8 L186.5,345.8 L187,345.9 L187.5,345.9 L188,346 L188.5,346 L189,346 L189.5,346.1 L190,346.1 L190.5,346.2 L191,346.2 L191.5,346.2 L192,346.3 L192.5,346.3 L193,346.4 L193.5,346.4 L194,346.4 L194.5,346.5 L195,346.5 L195.5,346.5 L196,346.6 L196.5,346.6 L197,346.7 L197.5,346.7 L198,346.7 L198.5,346.8 L199,346.8 L199.5,346.8 L200,346.9 L200.5,346.9 L201,347 L201.5,347 L202,347 L202.5,347.1 L203,347.1 L203.5,347.1 L204,347.2 L204.5,347.2 L205,347.2 L205.5,347.3 L206,347.3 L206.5,347.3 L207,347.4 L207.5,347.4 L208,347.4 L208.5,347.5 L209,347.5 L209.5,347.6 L210,347.6 L210.5,347.6 L211,347.7 L211.5,347.7 L212,347.7 L212.5,347.8 L213,347.8 L213.5,347.8 L214,347.9 L214.5,347.9 L215,347.9 L215.5,348 L216,348 L216.5,348 L217,348.1 L217.5,348.1 L218,348.1 L218.5,348.1 L219,348.2 L219.5,348.2 L220,348.2 L220.5,348.3 L221,348.3 L221.5,348.3 L222,348.4 L222.5,348.4 L223,348.4 L223.5,348.5 L224,348.5 L224.5,348.5 L225,348.6 L225.5,348.6 L226,348.6 L226.5,348.6 L227,348.7 L227.5,348.7 L228,348.7 L228.5,348.8 L229,348.8 L229.5,348.8 L230,348.9 L230.5,348.9 L231,348.9 L231.5,348.9 L232,349 L232.5,349 L233,349 L233.5,349.1 L234,349.1 L234.5,349.1 L235,349.1 L235.5,349.2 L236,349.2 L236.5,349.2 L237,349.2 L237.5,349.3 L238,349.3 L238.5,349.3 L239,349.4 L239.5,349.4 L240,349.4 L240.5,349.4 L241,349.5 L241.5,349.5 L242,349.5 L242.5,349.5 L243,349.6 L243.5,349.6 L244,349.6 L244.5,349.6 L245,349.7 L245.5,349.7 L246,349.7 L246.5,349.7 L247,349.8 L247.5,349.8 L248,349.8 L248.5,349.8 L249,349.9 L249.5,349.9 L250,349.9 L250.5,349.9 L251,350 L251.5,350 L252,350 L252.5,350 L253,350.1 L253.5,350.1 L254,350.1 L254.5,350.1 L255,350.2 L255.5,350.2 L256,350.2 L256.5,350.2 L257,350.2 L257.5,350.3 L258,350.3 L258.5,350.3 L259,350.3 L259.5,350.4 L260,350.4 L260.5,350.4 L261,350.4 L261.5,350.4 L262,350.5 L262.5,350.5 L263,350.5 L263.5,350.5 L264,350.5 L264.5,350.6 L265,350.6 L265.5,350.6 L266,350.6 L266.5,350.6 L267,350.7 L267.5,350.7 L268,350.7 L268.5,350.7 L269,350.7 L269.5,350.8 L270,350.8 L270.5,350.8 L271,350.8 L271.5,350.8 L272,350.9 L272.5,350.9 L273,350.9 L273.5,350.9 L274,350.9 L274.5,351 L275,351 L275.5,351 L276,351" fill="none" stroke="#e99494" stroke-width="1.1"/>
<path d="M69,331.5 L69.5,331.5 L70,331.5 L70.5,331.4 L71,331.4 L71.5,331.4 L72,331.4 L72.5,331.3 L73,331.3 L73.5,331.3 L74,331.2 L74.5,331.2 L75,331.1 L75.5,331.1 L76,331 L76.5,330.9 L77,330.9 L77.5,330.8 L78,330.7 L78.5,330.7 L79,330.6 L79.5,330.5 L80,330.4 L80.5,330.3 L81,330.2 L81.5,330.1 L82,330 L82.5,329.9 L83,329.8 L83.5,329.7 L84,329.6 L84.5,329.5 L85,329.4 L85.5,329.3 L86,329.1 L86.5,329 L87,328.9 L87.5,328.8 L88,328.6 L88.5,328.5 L89,328.4 L89.5,328.3 L90,328.1 L90.5,328 L91,327.9 L91.5,327.8 L92,327.6 L92.5,327.5 L93,327.4 L93.5,327.3 L94,327.2 L94.5,327 L95,326.9 L95.5,326.8 L96,326.7 L96.5,326.6 L97,326.5 L97.5,326.4 L98,326.3 L98.5,326.2 L99,326.1 L99.5,326.1 L100,326 L100.5,325.9 L101,325.9 L101.5,325.8 L102,325.8 L102.5,325.7 L103,325.7 L103.5,325.7 L104,325.6 L104.5,325.6 L105,325.6 L105.5,325.6 L106,325.6 L106.5,325.6 L107,325.7 L107.5,325.7 L108,325.7 L108.5,325.8 L109,325.8 L109.5,325.9 L110,326 L110.5,326.1 L111,326.1 L111.5,326.2 L112,326.3 L112.5,326.5 L113,326.6 L113.5,326.7 L114,326.8 L114.5,327 L115,327.1 L115.5,327.3 L116,327.4 L116.5,327.6 L117,327.8 L117.5,327.9 L118,328.1 L118.5,328.3 L119,328.5 L119.5,328.7 L120,328.8 L120.5,329 L121,329.2 L121.5,329.4 L122,329.6 L122.5,329.8 L123,329.9 L123.5,330.1 L124,330.3 L124.5,330.4 L125,330.5 L125.5,330.6 L126,330.7 L126.5,330.8 L127,330.8 L127.5,330.9 L128,330.8 L128.5,330.8 L129,330.7 L129.5,330.6 L130,330.4 L130.5,330.2 L131,329.9 L131.5,329.6 L132,329.3 L132.5,328.9 L133,328.4 L133.5,328 L134,327.5 L134.5,327 L135,326.4 L135.5,325.9 L136,325.3 L136.5,324.8 L137,324.2 L137.5,323.7 L138,323.2 L138.5,322.8 L139,322.3 L139.5,321.9 L140,321.5 L140.5,321.2 L141,320.9 L141.5,320.6 L142,320.3 L142.5,320.1 L143,319.8 L143.5,319.6 L144,319.3 L144.5,319.1 L145,318.9 L145.5,318.6 L146,318.4 L146.5,318.1 L147,317.9 L147.5,317.7 L148,317.5 L148.5,317.4 L149,317.3 L149.5,317.3 L150,317.3 L150.5,317.4 L151,317.6 L151.5,318 L152,318.4 L152.5,318.9 L153,319.6 L153.5,320.3 L154,321.1 L154.5,322 L155,323 L155.5,324.1 L156,325.2 L156.5,326.4 L157,327.6 L157.5,328.8 L158,330 L158.5,331.2 L159,332.3 L159.5,333.4 L160,334.5 L160.5,335.5 L161,336.4 L161.5,337.3 L162,338.1 L162.5,338.8 L163,339.5 L163.5,340.1 L164,340.6 L164.5,341 L165,341.5 L165.5,341.8 L166,342.1 L166.5,342.4 L167,342.6 L167.5,342.8 L168,342.9 L168.5,343 L169,343.1 L169.5,343.2 L170,343.3 L170.5,343.3 L171,343.3 L171.5,343.3 L172,343.4 L172.5,343.4 L173,343.3 L173.5,343.3 L174,343.3 L174.5,343.3 L175,343.2 L175.5,343.2 L176,343.1 L176.5,343.1 L177,343 L177.5,343 L178,342.9 L178.5,342.8 L179,342.8 L179.5,342.7 L180,342.6 L180.5,342.5 L181,342.4 L181.5,342.3 L182,342.2 L182.5,342.1 L183,342 L183.5,341.9 L184,341.7 L184.5,341.6 L185,341.5 L185.5,341.3 L186,341.2 L186.5,341.1 L187,340.9 L187.5,340.7 L188,340.6 L188.5,340.4 L189,340.2 L189.5,340.1 L190,339.9 L190.5,339.7 L191,339.5 L191.5,339.3 L192,339.1 L192.5,338.9 L193,338.7 L193.5,338.5 L194,338.3 L194.5,338.1 L195,337.9 L195.5,337.7 L196,337.5 L196.5,337.3 L197,337.1 L197.5,336.9 L198,336.6 L198.5,336.4 L199,336.2 L199.5,336 L200,335.8 L200.5,335.6 L201,335.4 L201.5,335.2 L202,335 L202.5,334.8 L203,334.6 L203.5,334.4 L204,334.2 L204.5,334 L205,333.8 L205.5,333.7 L206,333.5 L206.5,333.3 L207,333.2 L207.5,333 L208,332.9 L208.5,332.7 L209,332.6 L209.5,332.5 L210,332.4 L210.5,332.3 L211,332.2 L211.5,332.1 L212,332 L212.5,332 L213,331.9 L213.5,331.9 L214,331.8 L214.5,331.8 L215,331.8 L215.5,331.8 L216,331.8 L216.5,331.8 L217,331.8 L217.5,331.9 L218,331.9 L218.5,332 L219,332.1 L219.5,332.1 L220,332.2 L220.5,332.3 L221,332.4 L221.5,332.5 L222,332.6 L222.5,332.8 L223,332.9 L223.5,333 L224,333.2 L224.5,333.3 L225,333.4 L225.5,333.6 L226,333.7 L226.5,333.8 L227,334 L227.5,334.1 L228,334.2 L228.5,334.3 L229,334.4 L229.5,334.4 L230,334.5 L230.5,334.5 L231,334.5 L231.5,334.4 L232,334.4 L232.5,334.3 L233,334.1 L233.5,333.9 L234,333.7 L234.5,333.5 L235,333.2 L235.5,332.9 L236,332.5 L236.5,332.1 L237,331.7 L237.5,331.2 L238,330.7 L238.5,330.2 L239,329.6 L239.5,329 L240,328.4 L240.5,327.8 L241,327.2 L241.5,326.5 L242,325.9 L242.5,325.2 L243,324.5 L243.5,323.7 L244,322.9 L244.5,322.1 L245,321.2 L245.5,320.3 L246,319.3 L246.5,318.3 L247,317.2 L247.5,316.1 L248,314.9 L248.5,313.6 L249,312.3 L249.5,311 L250,309.7 L250.5,308.3 L251,307 L251.5,305.8 L252,304.6 L252.5,303.6 L253,302.7 L253.5,301.9 L254,301.4 L254.5,301 L255,300.9 L255.5,301 L256,301.3 L256.5,301.9 L257,302.7 L257.5,303.7 L258,304.9 L258.5,306.3 L259,307.8 L259.5,309.5 L260,311.2 L260.5,313 L261,314.8 L261.5,316.7 L262,318.5 L262.5,320.3 L263,322.1 L263.5,323.9 L264,325.6 L264.5,327.2 L265,328.8 L265.5,330.3 L266,331.8 L266.5,333.3 L267,334.7 L267.5,336 L268,337.3 L268.5,338.6 L269,339.8 L269.5,341 L270,342.1 L270.5,343.1 L271,344.1 L271.5,345 L272,345.8 L272.5,346.5 L273,347.2 L273.5,347.8 L274,348.3 L274.5,348.8 L275,349.2 L275.5,349.5 L276,349.8" fill="none" stroke="#606060" stroke-width="1.2"/>
<path d="M56.5,437.9 L57.2,439 L57.9,439.5 L58.6,439.5 L59.3,438.6 L60,438.8 L60.7,438.6 L61.4,439.2 L62.1,439.2 L62.8,438.8 L63.5,438.2 L64.2,439.1 L64.9,438.6 L65.6,439.1 L66.3,438.9 L67,439.5 L67.7,439.3 L68.4,438.5 L69.1,438.9 L69.8,439.5 L70.5,438.4 L71.2,438.8 L71.9,439 L72.6,439 L73.3,438.6 L74,437.7 L74.7,437.6 L75.4,438.1 L76.1,438.1 L76.8,438.9 L77.5,437.2 L78.2,438 L78.9,437.6 L79.6,436.4 L80.3,436.6 L81,436.8 L81.7,436.3 L82.4,436.2 L83.1,436.3 L83.8,435.5 L84.5,435.8 L85.2,435 L85.9,434.8 L86.6,435 L87.3,434.3 L88,434.4 L88.7,434.7 L89.4,433.7 L90.1,433.3 L90.8,433.4 L91.5,432.7 L92.2,433.1 L92.9,431.7 L93.6,432.3 L94.3,431.6 L95,431.2 L95.7,432.1 L96.4,430.8 L97.1,431.7 L97.8,431.1 L98.5,431.3 L99.2,430 L99.9,430.9 L100.6,430.9 L101.3,430.1 L102,430.1 L102.7,431.2 L103.4,430.2 L104.1,430 L104.8,429.9 L105.5,430.5 L106.2,430.5 L106.9,430.6 L107.6,431.4 L108.3,430.7 L109,431.3 L109.7,431.9 L110.4,431 L111.1,432.2 L111.8,432.9 L112.5,431.7 L113.2,432.1 L113.9,432.5 L114.6,432.5 L115.3,433.9 L116,433.2 L116.7,434.6 L117.4,435.4 L118.1,434.3 L118.8,435.3 L119.5,434.9 L120.2,436.4 L120.9,436 L121.6,436.5 L122.3,436.8 L123,437.2 L123.7,436.9 L124.4,437.1 L125.1,436.8 L125.8,436.9 L126.5,436.1 L127.2,436.4 L127.9,435.1 L128.6,435.3 L129.3,435.9 L130,434.5 L130.7,433.2 L131.4,433.3 L132.1,432 L132.8,431.1 L133.5,430.8 L134.2,430.8 L134.9,430 L135.6,429.1 L136.3,428.1 L137,427.4 L137.7,427.8 L138.4,426.7 L139.1,425.5 L139.8,424.4 L140.5,424.1 L141.2,425.3 L141.9,423.1 L142.6,423 L143.3,422.7 L144,422.2 L144.7,421.9 L145.4,421.2 L146.1,421.3 L146.8,422.6 L147.5,421.8 L148.2,422.9 L148.9,422.4 L149.6,423.8 L150.3,425 L151,426.5 L151.7,426.8 L152.4,428.9 L153.1,430.3 L153.8,431.3 L154.5,433.4 L155.2,434.2 L155.9,435.8 L156.6,437.5 L157.3,437.6 L158,440 L158.7,440.7 L159.4,441.4 L160.1,442.7 L160.8,444 L161.5,444.1 L162.2,445.4 L162.9,444.8 L163.6,445.1 L164.3,446.7 L165,446.4 L165.7,446.9 L166.4,446.2 L167.1,447.1 L167.8,446.9 L168.5,447.2 L169.2,447 L169.9,447.6 L170.6,446.8 L171.3,446.7 L172,446.5 L172.7,447.7 L173.4,446.8 L174.1,446.7 L174.8,446.7 L175.5,447 L176.2,446.6 L176.9,447 L177.6,446.8 L178.3,446.8 L179,446.5 L179.7,446.9 L180.4,446.6 L181.1,446.8 L181.8,446.7 L182.5,446.7 L183.2,445.4 L183.9,446 L184.6,445.7 L185.3,446.2 L186,445 L186.7,445.1 L187.4,445.1 L188.1,444.8 L188.8,445.1 L189.5,444.2 L190.2,444.5 L190.9,443.1 L191.6,442.6 L192.3,443.6 L193,442.8 L193.7,442.4 L194.4,441.8 L195.1,441.6 L195.8,440.3 L196.5,440.8 L197.2,439.7 L197.9,439.9 L198.6,438.9 L199.3,437.5 L200,437.3 L200.7,437.8 L201.4,436.7 L202.1,436.1 L202.8,435.8 L203.5,435 L204.2,434.4 L204.9,434.2 L205.6,433.8 L206.3,433.9 L207,432.8 L207.7,433.2 L208.4,432.7 L209.1,432.3 L209.8,431.7 L210.5,430.9 L211.2,430.6 L211.9,430.2 L212.6,429.8 L213.3,429.9 L214,429.5 L214.7,430.4 L215.4,429.9 L216.1,429.4 L216.8,428.8 L217.5,429.7 L218.2,429.7 L218.9,429.5 L219.6,429.7 L220.3,429.5 L221,431 L221.7,431 L222.4,432.6 L223.1,431.8 L223.8,432.1 L224.5,433.3 L225.2,433.1 L225.9,433.5 L226.6,433.7 L227.3,434 L228,435.3 L228.7,435.4 L229.4,436 L230.1,435.2 L230.8,435.5 L231.5,435.1 L232.2,435.9 L232.9,434.6 L233.6,435.1 L234.3,434.9 L235,434.4 L235.7,432.5 L236.4,432.5 L237.1,430.6 L237.8,429.4 L238.5,427.8 L239.2,427.6 L239.9,426.3 L240.6,423.7 L241.3,422 L242,420.6 L242.7,420.2 L243.4,417.8 L244.1,415.3 L244.8,413 L245.5,411.8 L246.2,410.9 L246.9,409.5 L247.6,406.9 L248.3,405 L249,403.5 L249.7,401.5 L250.4,401.4 L251.1,399.4 L251.8,399.4 L252.5,397.5 L253.2,397.4 L253.9,398.1 L254.6,398 L255.3,399.4 L256,400.1 L256.7,401 L257.4,403.6 L258.1,405.6 L258.8,406.6 L259.5,410.6 L260.2,412.4 L260.9,415 L261.6,416.4 L262.3,419.4 L263,422 L263.7,425.1 L264.4,426.3 L265.1,428.9 L265.8,430.6 L266.5,433.7 L267.2,436.1 L267.9,437.3 L268.6,439.8 L269.3,442.3 L270,444.6 L270.7,446 L271.4,447.2 L272.1,448.3 L272.8,449.7 L273.5,451 L274.2,452.4 L274.9,453.2 L275.6,454.7" fill="none" stroke="#8a8a8a" stroke-width="0.7"/>
<path d="M62.5,438.8 L63,438.8 L63.5,438.8 L64,438.8 L64.5,438.8 L65,438.8 L65.5,438.8 L66,438.8 L66.5,438.8 L67,438.8 L67.5,438.8 L68,438.7 L68.5,438.7 L69,438.7 L69.5,438.7 L70,438.7 L70.5,438.6 L71,438.6 L71.5,438.5 L72,438.5 L72.5,438.4 L73,438.4 L73.5,438.3 L74,438.2 L74.5,438.2 L75,438.1 L75.5,438 L76,437.9 L76.5,437.8 L77,437.7 L77.5,437.6 L78,437.5 L78.5,437.4 L79,437.3 L79.5,437.1 L80,437 L80.5,436.9 L81,436.7 L81.5,436.6 L82,436.4 L82.5,436.3 L83,436.1 L83.5,435.9 L84,435.8 L84.5,435.6 L85,435.4 L85.5,435.2 L86,435 L86.5,434.8 L87,434.6 L87.5,434.4 L88,434.2 L88.5,434 L89,433.8 L89.5,433.6 L90,433.4 L90.5,433.2 L91,433 L91.5,432.8 L92,432.6 L92.5,432.5 L93,432.3 L93.5,432.1 L94,431.9 L94.5,431.7 L95,431.6 L95.5,431.4 L96,431.3 L96.5,431.1 L97,431 L97.5,430.8 L98,430.7 L98.5,430.6 L99,430.5 L99.5,430.4 L100,430.4 L100.5,430.3 L101,430.2 L101.5,430.2 L102,430.2 L102.5,430.1 L103,430.1 L103.5,430.1 L104,430.2 L104.5,430.2 L105,430.2 L105.5,430.3 L106,430.4 L106.5,430.4 L107,430.5 L107.5,430.6 L108,430.8 L108.5,430.9 L109,431 L109.5,431.2 L110,431.4 L110.5,431.5 L111,431.7 L111.5,431.9 L112,432.1 L112.5,432.3 L113,432.6 L113.5,432.8 L114,433 L114.5,433.3 L115,433.5 L115.5,433.8 L116,434 L116.5,434.3 L117,434.6 L117.5,434.8 L118,435.1 L118.5,435.4 L119,435.6 L119.5,435.9 L120,436.2 L120.5,436.5 L121,436.8 L121.5,437 L122,437.3 L122.5,437.6 L123,437.8 L123.5,438.1 L124,438.4 L124.5,438.6 L125,438.9 L125.5,439.1 L126,439.4 L126.5,439.6 L127,439.9 L127.5,440.1 L128,440.3 L128.5,440.5 L129,440.8 L129.5,441 L130,441.2 L130.5,441.4 L131,441.6 L131.5,441.7 L132,441.9 L132.5,442.1 L133,442.3 L133.5,442.4 L134,442.6 L134.5,442.8 L135,442.9 L135.5,443 L136,443.2 L136.5,443.3 L137,443.4 L137.5,443.6 L138,443.7 L138.5,443.8 L139,443.9 L139.5,444 L140,444.1 L140.5,444.2 L141,444.3 L141.5,444.4 L142,444.5 L142.5,444.6 L143,444.7 L143.5,444.7 L144,444.8 L144.5,444.9 L145,445 L145.5,445 L146,445.1 L146.5,445.2 L146.5,445.4 L62.5,439Z" fill="url(#g11)" fill-opacity="0.8" stroke="none"/>
<path d="M62.5,438.8 L63,438.8 L63.5,438.8 L64,438.8 L64.5,438.8 L65,438.8 L65.5,438.8 L66,438.8 L66.5,438.8 L67,438.8 L67.5,438.8 L68,438.7 L68.5,438.7 L69,438.7 L69.5,438.7 L70,438.7 L70.5,438.6 L71,438.6 L71.5,438.5 L72,438.5 L72.5,438.4 L73,438.4 L73.5,438.3 L74,438.2 L74.5,438.2 L75,438.1 L75.5,438 L76,437.9 L76.5,437.8 L77,437.7 L77.5,437.6 L78,437.5 L78.5,437.4 L79,437.3 L79.5,437.1 L80,437 L80.5,436.9 L81,436.7 L81.5,436.6 L82,436.4 L82.5,436.3 L83,436.1 L83.5,435.9 L84,435.8 L84.5,435.6 L85,435.4 L85.5,435.2 L86,435 L86.5,434.8 L87,434.6 L87.5,434.4 L88,434.2 L88.5,434 L89,433.8 L89.5,433.6 L90,433.4 L90.5,433.2 L91,433 L91.5,432.8 L92,432.6 L92.5,432.5 L93,432.3 L93.5,432.1 L94,431.9 L94.5,431.7 L95,431.6 L95.5,431.4 L96,431.3 L96.5,431.1 L97,431 L97.5,430.8 L98,430.7 L98.5,430.6 L99,430.5 L99.5,430.4 L100,430.4 L100.5,430.3 L101,430.2 L101.5,430.2 L102,430.2 L102.5,430.1 L103,430.1 L103.5,430.1 L104,430.2 L104.5,430.2 L105,430.2 L105.5,430.3 L106,430.4 L106.5,430.4 L107,430.5 L107.5,430.6 L108,430.8 L108.5,430.9 L109,431 L109.5,431.2 L110,431.4 L110.5,431.5 L111,431.7 L111.5,431.9 L112,432.1 L112.5,432.3 L113,432.6 L113.5,432.8 L114,433 L114.5,433.3 L115,433.5 L115.5,433.8 L116,434 L116.5,434.3 L117,434.6 L117.5,434.8 L118,435.1 L118.5,435.4 L119,435.6 L119.5,435.9 L120,436.2 L120.5,436.5 L121,436.8 L121.5,437 L122,437.3 L122.5,437.6 L123,437.8 L123.5,438.1 L124,438.4 L124.5,438.6 L125,438.9 L125.5,439.1 L126,439.4 L126.5,439.6 L127,439.9 L127.5,440.1 L128,440.3 L128.5,440.5 L129,440.8 L129.5,441 L130,441.2 L130.5,441.4 L131,441.6 L131.5,441.7 L132,441.9 L132.5,442.1 L133,442.3 L133.5,442.4 L134,442.6 L134.5,442.8 L135,442.9 L135.5,443 L136,443.2 L136.5,443.3 L137,443.4 L137.5,443.6 L138,443.7 L138.5,443.8 L139,443.9 L139.5,444 L140,444.1 L140.5,444.2 L141,444.3 L141.5,444.4 L142,444.5 L142.5,444.6 L143,444.7 L143.5,444.7 L144,444.8 L144.5,444.9 L145,445 L145.5,445 L146,445.1 L146.5,445.2" fill="none" stroke="#f5ae7a" stroke-width="0.9"/>
<path d="M171.5,447.1 L172,447.2 L172.5,447.2 L173,447.2 L173.5,447.2 L174,447.2 L174.5,447.2 L175,447.2 L175.5,447.2 L176,447.1 L176.5,447.1 L177,447.1 L177.5,447.1 L178,447 L178.5,447 L179,447 L179.5,446.9 L180,446.9 L180.5,446.8 L181,446.7 L181.5,446.7 L182,446.6 L182.5,446.5 L183,446.4 L183.5,446.3 L184,446.2 L184.5,446.1 L185,445.9 L185.5,445.8 L186,445.7 L186.5,445.5 L187,445.3 L187.5,445.2 L188,445 L188.5,444.8 L189,444.6 L189.5,444.4 L190,444.2 L190.5,443.9 L191,443.7 L191.5,443.4 L192,443.2 L192.5,442.9 L193,442.6 L193.5,442.3 L194,442 L194.5,441.7 L195,441.4 L195.5,441.1 L196,440.7 L196.5,440.4 L197,440.1 L197.5,439.7 L198,439.3 L198.5,439 L199,438.6 L199.5,438.2 L200,437.9 L200.5,437.5 L201,437.1 L201.5,436.7 L202,436.3 L202.5,436 L203,435.6 L203.5,435.2 L204,434.8 L204.5,434.5 L205,434.1 L205.5,433.8 L206,433.4 L206.5,433.1 L207,432.8 L207.5,432.4 L208,432.1 L208.5,431.9 L209,431.6 L209.5,431.3 L210,431.1 L210.5,430.8 L211,430.6 L211.5,430.4 L212,430.3 L212.5,430.1 L213,430 L213.5,429.9 L214,429.8 L214.5,429.7 L215,429.7 L215.5,429.6 L216,429.6 L216.5,429.6 L217,429.7 L217.5,429.7 L218,429.8 L218.5,429.9 L219,430.1 L219.5,430.2 L220,430.4 L220.5,430.6 L221,430.8 L221.5,431 L222,431.3 L222.5,431.6 L223,431.8 L223.5,432.2 L224,432.5 L224.5,432.8 L225,433.2 L225.5,433.5 L226,433.9 L226.5,434.3 L227,434.7 L227.5,435.1 L228,435.6 L228.5,436 L229,436.4 L229.5,436.9 L230,437.3 L230.5,437.8 L231,438.3 L231.5,438.7 L232,439.2 L232.5,439.6 L233,440.1 L233.5,440.6 L234,441 L234.5,441.5 L235,441.9 L235.5,442.4 L236,442.8 L236.5,443.3 L237,443.7 L237.5,444.1 L238,444.6 L238.5,445 L239,445.4 L239.5,445.8 L240,446.1 L240.5,446.5 L241,446.9 L241.5,447.2 L242,447.6 L242.5,447.9 L243,448.3 L243.5,448.6 L244,448.9 L244.5,449.2 L245,449.5 L245.5,449.8 L246,450 L246.5,450.3 L247,450.5 L247.5,450.8 L248,451 L248.5,451.2 L249,451.4 L249.5,451.6 L250,451.8 L250.5,452 L251,452.2 L251.5,452.4 L252,452.5 L252.5,452.7 L253,452.8 L253.5,453 L254,453.1 L254.5,453.3 L255,453.4 L255.5,453.5 L256,453.6 L256.5,453.7 L257,453.8 L257.5,453.9 L258,454 L258.5,454.1 L259,454.2 L259.5,454.3 L260,454.4 L260.5,454.5 L261,454.6 L261.5,454.6 L262,454.7 L262,455 L171.5,447.4Z" fill="url(#g12)" fill-opacity="0.8" stroke="none"/>
<path d="M171.5,447.1 L172,447.2 L172.5,447.2 L173,447.2 L173.5,447.2 L174,447.2 L174.5,447.2 L175,447.2 L175.5,447.2 L176,447.1 L176.5,447.1 L177,447.1 L177.5,447.1 L178,447 L178.5,447 L179,447 L179.5,446.9 L180,446.9 L180.5,446.8 L181,446.7 L181.5,446.7 L182,446.6 L182.5,446.5 L183,446.4 L183.5,446.3 L184,446.2 L184.5,446.1 L185,445.9 L185.5,445.8 L186,445.7 L186.5,445.5 L187,445.3 L187.5,445.2 L188,445 L188.5,444.8 L189,444.6 L189.5,444.4 L190,444.2 L190.5,443.9 L191,443.7 L191.5,443.4 L192,443.2 L192.5,442.9 L193,442.6 L193.5,442.3 L194,442 L194.5,441.7 L195,441.4 L195.5,441.1 L196,440.7 L196.5,440.4 L197,440.1 L197.5,439.7 L198,439.3 L198.5,439 L199,438.6 L199.5,438.2 L200,437.9 L200.5,437.5 L201,437.1 L201.5,436.7 L202,436.3 L202.5,436 L203,435.6 L203.5,435.2 L204,434.8 L204.5,434.5 L205,434.1 L205.5,433.8 L206,433.4 L206.5,433.1 L207,432.8 L207.5,432.4 L208,432.1 L208.5,431.9 L209,431.6 L209.5,431.3 L210,431.1 L210.5,430.8 L211,430.6 L211.5,430.4 L212,430.3 L212.5,430.1 L213,430 L213.5,429.9 L214,429.8 L214.5,429.7 L215,429.7 L215.5,429.6 L216,429.6 L216.5,429.6 L217,429.7 L217.5,429.7 L218,429.8 L218.5,429.9 L219,430.1 L219.5,430.2 L220,430.4 L220.5,430.6 L221,430.8 L221.5,431 L222,431.3 L222.5,431.6 L223,431.8 L223.5,432.2 L224,432.5 L224.5,432.8 L225,433.2 L225.5,433.5 L226,433.9 L226.5,434.3 L227,434.7 L227.5,435.1 L228,435.6 L228.5,436 L229,436.4 L229.5,436.9 L230,437.3 L230.5,437.8 L231,438.3 L231.5,438.7 L232,439.2 L232.5,439.6 L233,440.1 L233.5,440.6 L234,441 L234.5,441.5 L235,441.9 L235.5,442.4 L236,442.8 L236.5,443.3 L237,443.7 L237.5,444.1 L238,444.6 L238.5,445 L239,445.4 L239.5,445.8 L240,446.1 L240.5,446.5 L241,446.9 L241.5,447.2 L242,447.6 L242.5,447.9 L243,448.3 L243.5,448.6 L244,448.9 L244.5,449.2 L245,449.5 L245.5,449.8 L246,450 L246.5,450.3 L247,450.5 L247.5,450.8 L248,451 L248.5,451.2 L249,451.4 L249.5,451.6 L250,451.8 L250.5,452 L251,452.2 L251.5,452.4 L252,452.5 L252.5,452.7 L253,452.8 L253.5,453 L254,453.1 L254.5,453.3 L255,453.4 L255.5,453.5 L256,453.6 L256.5,453.7 L257,453.8 L257.5,453.9 L258,454 L258.5,454.1 L259,454.2 L259.5,454.3 L260,454.4 L260.5,454.5 L261,454.6 L261.5,454.6 L262,454.7" fill="none" stroke="#7ccc6c" stroke-width="0.9"/>
<path d="M235,452.4 L235.5,452.4 L236,452.3 L236.5,452.2 L237,452.1 L237.5,452 L238,451.8 L238.5,451.5 L239,451.3 L239.5,450.9 L240,450.5 L240.5,450 L241,449.4 L241.5,448.8 L242,448 L242.5,447.1 L243,446.1 L243.5,445 L244,443.8 L244.5,442.4 L245,440.9 L245.5,439.3 L246,437.5 L246.5,435.7 L247,433.7 L247.5,431.7 L248,429.6 L248.5,427.4 L249,425.2 L249.5,423.1 L250,420.9 L250.5,418.9 L251,416.9 L251.5,415 L252,413.3 L252.5,411.8 L253,410.5 L253.5,409.4 L254,408.6 L254.5,408 L255,407.8 L255.5,407.8 L256,408.1 L256.5,408.7 L257,409.5 L257.5,410.6 L258,412 L258.5,413.5 L259,415.3 L259.5,417.2 L260,419.3 L260.5,421.4 L261,423.6 L261.5,425.9 L262,428.1 L262.5,430.4 L263,432.6 L263.5,434.7 L264,436.8 L264.5,438.8 L265,440.6 L265.5,442.3 L266,444 L266.5,445.4 L267,446.8 L267.5,448 L268,449.1 L268.5,450.1 L269,451 L269.5,451.8 L270,452.4 L270.5,453 L271,453.5 L271.5,454 L272,454.4 L272.5,454.7 L273,455 L273.5,455.2 L274,455.4 L274.5,455.6 L275,455.7 L275.5,455.9 L276,456 L276,456.2 L235,452.7Z" fill="url(#g13)" fill-opacity="0.8" stroke="none"/>
<path d="M235,452.4 L235.5,452.4 L236,452.3 L236.5,452.2 L237,452.1 L237.5,452 L238,451.8 L238.5,451.5 L239,451.3 L239.5,450.9 L240,450.5 L240.5,450 L241,449.4 L241.5,448.8 L242,448 L242.5,447.1 L243,446.1 L243.5,445 L244,443.8 L244.5,442.4 L245,440.9 L245.5,439.3 L246,437.5 L246.5,435.7 L247,433.7 L247.5,431.7 L248,429.6 L248.5,427.4 L249,425.2 L249.5,423.1 L250,420.9 L250.5,418.9 L251,416.9 L251.5,415 L252,413.3 L252.5,411.8 L253,410.5 L253.5,409.4 L254,408.6 L254.5,408 L255,407.8 L255.5,407.8 L256,408.1 L256.5,408.7 L257,409.5 L257.5,410.6 L258,412 L258.5,413.5 L259,415.3 L259.5,417.2 L260,419.3 L260.5,421.4 L261,423.6 L261.5,425.9 L262,428.1 L262.5,430.4 L263,432.6 L263.5,434.7 L264,436.8 L264.5,438.8 L265,440.6 L265.5,442.3 L266,444 L266.5,445.4 L267,446.8 L267.5,448 L268,449.1 L268.5,450.1 L269,451 L269.5,451.8 L270,452.4 L270.5,453 L271,453.5 L271.5,454 L272,454.4 L272.5,454.7 L273,455 L273.5,455.2 L274,455.4 L274.5,455.6 L275,455.7 L275.5,455.9 L276,456" fill="none" stroke="#9560d8" stroke-width="0.9"/>
<path d="M129,443.8 L129.5,443.8 L130,443.8 L130.5,443.7 L131,443.6 L131.5,443.5 L132,443.4 L132.5,443.2 L133,443 L133.5,442.8 L134,442.5 L134.5,442.2 L135,441.9 L135.5,441.4 L136,441 L136.5,440.4 L137,439.8 L137.5,439.2 L138,438.5 L138.5,437.7 L139,436.9 L139.5,436 L140,435.1 L140.5,434.2 L141,433.2 L141.5,432.2 L142,431.2 L142.5,430.3 L143,429.3 L143.5,428.4 L144,427.5 L144.5,426.7 L145,426 L145.5,425.4 L146,424.8 L146.5,424.4 L147,424.2 L147.5,424 L148,424 L148.5,424.1 L149,424.3 L149.5,424.7 L150,425.2 L150.5,425.8 L151,426.5 L151.5,427.3 L152,428.1 L152.5,429.1 L153,430.1 L153.5,431.1 L154,432.2 L154.5,433.2 L155,434.3 L155.5,435.4 L156,436.4 L156.5,437.4 L157,438.3 L157.5,439.2 L158,440.1 L158.5,440.8 L159,441.6 L159.5,442.2 L160,442.9 L160.5,443.4 L161,443.9 L161.5,444.4 L162,444.7 L162.5,445.1 L163,445.4 L163.5,445.7 L164,445.9 L164.5,446.1 L165,446.3 L165.5,446.5 L166,446.6 L166.5,446.7 L167,446.8 L167,447.1 L129,444.1Z" fill="url(#g14)" fill-opacity="0.8" stroke="none"/>
<path d="M129,443.8 L129.5,443.8 L130,443.8 L130.5,443.7 L131,443.6 L131.5,443.5 L132,443.4 L132.5,443.2 L133,443 L133.5,442.8 L134,442.5 L134.5,442.2 L135,441.9 L135.5,441.4 L136,441 L136.5,440.4 L137,439.8 L137.5,439.2 L138,438.5 L138.5,437.7 L139,436.9 L139.5,436 L140,435.1 L140.5,434.2 L141,433.2 L141.5,432.2 L142,431.2 L142.5,430.3 L143,429.3 L143.5,428.4 L144,427.5 L144.5,426.7 L145,426 L145.5,425.4 L146,424.8 L146.5,424.4 L147,424.2 L147.5,424 L148,424 L148.5,424.1 L149,424.3 L149.5,424.7 L150,425.2 L150.5,425.8 L151,426.5 L151.5,427.3 L152,428.1 L152.5,429.1 L153,430.1 L153.5,431.1 L154,432.2 L154.5,433.2 L155,434.3 L155.5,435.4 L156,436.4 L156.5,437.4 L157,438.3 L157.5,439.2 L158,440.1 L158.5,440.8 L159,441.6 L159.5,442.2 L160,442.9 L160.5,443.4 L161,443.9 L161.5,444.4 L162,444.7 L162.5,445.1 L163,445.4 L163.5,445.7 L164,445.9 L164.5,446.1 L165,446.3 L165.5,446.5 L166,446.6 L166.5,446.7 L167,446.8" fill="none" stroke="#5c72e6" stroke-width="0.9"/>
<path d="M120.5,443.1 L121,443.1 L121.5,443 L122,442.9 L122.5,442.8 L123,442.7 L123.5,442.6 L124,442.4 L124.5,442.2 L125,441.9 L125.5,441.7 L126,441.4 L126.5,441 L127,440.6 L127.5,440.2 L128,439.8 L128.5,439.3 L129,438.9 L129.5,438.4 L130,437.9 L130.5,437.4 L131,437 L131.5,436.6 L132,436.2 L132.5,435.9 L133,435.6 L133.5,435.4 L134,435.2 L134.5,435.1 L135,435.1 L135.5,435.2 L136,435.4 L136.5,435.6 L137,435.9 L137.5,436.3 L138,436.7 L138.5,437.1 L139,437.6 L139.5,438.2 L140,438.7 L140.5,439.3 L141,439.8 L141.5,440.4 L142,440.9 L142.5,441.4 L143,441.9 L143.5,442.3 L144,442.8 L144.5,443.2 L145,443.5 L145.5,443.8 L146,444.1 L146.5,444.4 L147,444.6 L147.5,444.8 L148,445 L148.5,445.1 L149,445.3 L149.5,445.4 L149.5,445.7 L120.5,443.4Z" fill="url(#g15)" fill-opacity="0.8" stroke="none"/>
<path d="M120.5,443.1 L121,443.1 L121.5,443 L122,442.9 L122.5,442.8 L123,442.7 L123.5,442.6 L124,442.4 L124.5,442.2 L125,441.9 L125.5,441.7 L126,441.4 L126.5,441 L127,440.6 L127.5,440.2 L128,439.8 L128.5,439.3 L129,438.9 L129.5,438.4 L130,437.9 L130.5,437.4 L131,437 L131.5,436.6 L132,436.2 L132.5,435.9 L133,435.6 L133.5,435.4 L134,435.2 L134.5,435.1 L135,435.1 L135.5,435.2 L136,435.4 L136.5,435.6 L137,435.9 L137.5,436.3 L138,436.7 L138.5,437.1 L139,437.6 L139.5,438.2 L140,438.7 L140.5,439.3 L141,439.8 L141.5,440.4 L142,440.9 L142.5,441.4 L143,441.9 L143.5,442.3 L144,442.8 L144.5,443.2 L145,443.5 L145.5,443.8 L146,444.1 L146.5,444.4 L147,444.6 L147.5,444.8 L148,445 L148.5,445.1 L149,445.3 L149.5,445.4" fill="none" stroke="#f09aa6" stroke-width="0.9"/>
<path d="M225,451.6 L225.5,451.6 L226,451.5 L226.5,451.5 L227,451.4 L227.5,451.3 L228,451.2 L228.5,451 L229,450.8 L229.5,450.6 L230,450.3 L230.5,450 L231,449.7 L231.5,449.3 L232,448.8 L232.5,448.3 L233,447.7 L233.5,447 L234,446.3 L234.5,445.6 L235,444.8 L235.5,443.9 L236,443 L236.5,442 L237,441 L237.5,440 L238,438.9 L238.5,437.9 L239,436.9 L239.5,435.9 L240,434.9 L240.5,434 L241,433.1 L241.5,432.4 L242,431.7 L242.5,431.1 L243,430.6 L243.5,430.3 L244,430.1 L244.5,430 L245,430.1 L245.5,430.3 L246,430.6 L246.5,431 L247,431.6 L247.5,432.3 L248,433.1 L248.5,433.9 L249,434.9 L249.5,435.9 L250,437 L250.5,438.1 L251,439.2 L251.5,440.3 L252,441.4 L252.5,442.5 L253,443.6 L253.5,444.7 L254,445.7 L254.5,446.6 L255,447.5 L255.5,448.3 L256,449.1 L256.5,449.8 L257,450.5 L257.5,451.1 L258,451.6 L258.5,452.1 L259,452.5 L259.5,452.9 L260,453.3 L260.5,453.6 L261,453.8 L261.5,454.1 L262,454.3 L262.5,454.4 L263,454.6 L263.5,454.7 L264,454.9 L264.5,455 L264.5,455.2 L225,451.8Z" fill="url(#g16)" fill-opacity="0.8" stroke="none"/>
<path d="M225,451.6 L225.5,451.6 L226,451.5 L226.5,451.5 L227,451.4 L227.5,451.3 L228,451.2 L228.5,451 L229,450.8 L229.5,450.6 L230,450.3 L230.5,450 L231,449.7 L231.5,449.3 L232,448.8 L232.5,448.3 L233,447.7 L233.5,447 L234,446.3 L234.5,445.6 L235,444.8 L235.5,443.9 L236,443 L236.5,442 L237,441 L237.5,440 L238,438.9 L238.5,437.9 L239,436.9 L239.5,435.9 L240,434.9 L240.5,434 L241,433.1 L241.5,432.4 L242,431.7 L242.5,431.1 L243,430.6 L243.5,430.3 L244,430.1 L244.5,430 L245,430.1 L245.5,430.3 L246,430.6 L246.5,431 L247,431.6 L247.5,432.3 L248,433.1 L248.5,433.9 L249,434.9 L249.5,435.9 L250,437 L250.5,438.1 L251,439.2 L251.5,440.3 L252,441.4 L252.5,442.5 L253,443.6 L253.5,444.7 L254,445.7 L254.5,446.6 L255,447.5 L255.5,448.3 L256,449.1 L256.5,449.8 L257,450.5 L257.5,451.1 L258,451.6 L258.5,452.1 L259,452.5 L259.5,452.9 L260,453.3 L260.5,453.6 L261,453.8 L261.5,454.1 L262,454.3 L262.5,454.4 L263,454.6 L263.5,454.7 L264,454.9 L264.5,455" fill="none" stroke="#88c8f2" stroke-width="0.9"/>
<path d="M62,439.6 L62.5,439.6 L63,439.7 L63.5,439.7 L64,439.7 L64.5,439.8 L65,439.8 L65.5,439.9 L66,439.9 L66.5,439.9 L67,440 L67.5,440 L68,440 L68.5,440.1 L69,440.1 L69.5,440.2 L70,440.2 L70.5,440.2 L71,440.3 L71.5,440.3 L72,440.3 L72.5,440.4 L73,440.4 L73.5,440.5 L74,440.5 L74.5,440.5 L75,440.6 L75.5,440.6 L76,440.6 L76.5,440.7 L77,440.7 L77.5,440.7 L78,440.8 L78.5,440.8 L79,440.9 L79.5,440.9 L80,440.9 L80.5,441 L81,441 L81.5,441 L82,441.1 L82.5,441.1 L83,441.2 L83.5,441.2 L84,441.2 L84.5,441.3 L85,441.3 L85.5,441.3 L86,441.4 L86.5,441.4 L87,441.5 L87.5,441.5 L88,441.5 L88.5,441.6 L89,441.6 L89.5,441.6 L90,441.7 L90.5,441.7 L91,441.8 L91.5,441.8 L92,441.8 L92.5,441.9 L93,441.9 L93.5,441.9 L94,442 L94.5,442 L95,442.1 L95.5,442.1 L96,442.1 L96.5,442.2 L97,442.2 L97.5,442.3 L98,442.3 L98.5,442.3 L99,442.4 L99.5,442.4 L100,442.4 L100.5,442.5 L101,442.5 L101.5,442.6 L102,442.6 L102.5,442.6 L103,442.7 L103.5,442.7 L104,442.7 L104.5,442.8 L105,442.8 L105.5,442.9 L106,442.9 L106.5,442.9 L107,443 L107.5,443 L108,443.1 L108.5,443.1 L109,443.1 L109.5,443.2 L110,443.2 L110.5,443.2 L111,443.3 L111.5,443.3 L112,443.4 L112.5,443.4 L113,443.4 L113.5,443.5 L114,443.5 L114.5,443.6 L115,443.6 L115.5,443.6 L116,443.7 L116.5,443.7 L117,443.7 L117.5,443.8 L118,443.8 L118.5,443.9 L119,443.9 L119.5,443.9 L120,444 L120.5,444 L121,444.1 L121.5,444.1 L122,444.1 L122.5,444.2 L123,444.2 L123.5,444.2 L124,444.3 L124.5,444.3 L125,444.4 L125.5,444.4 L126,444.4 L126.5,444.5 L127,444.5 L127.5,444.6 L128,444.6 L128.5,444.6 L129,444.7 L129.5,444.7 L130,444.8 L130.5,444.8 L131,444.8 L131.5,444.9 L132,444.9 L132.5,444.9 L133,445 L133.5,445 L134,445.1 L134.5,445.1 L135,445.1 L135.5,445.2 L136,445.2 L136.5,445.3 L137,445.3 L137.5,445.3 L138,445.4 L138.5,445.4 L139,445.5 L139.5,445.5 L140,445.5 L140.5,445.6 L141,445.6 L141.5,445.7 L142,445.7 L142.5,445.7 L143,445.8 L143.5,445.8 L144,445.8 L144.5,445.9 L145,445.9 L145.5,446 L146,446 L146.5,446 L147,446.1 L147.5,446.1 L148,446.2 L148.5,446.2 L149,446.2 L149.5,446.3 L150,446.3 L150.5,446.4 L151,446.4 L151.5,446.4 L152,446.5 L152.5,446.5 L153,446.6 L153.5,446.6 L154,446.6 L154.5,446.7 L155,446.7 L155.5,446.8 L156,446.8 L156.5,446.8 L157,446.9 L157.5,446.9 L158,447 L158.5,447 L159,447 L159.5,447.1 L160,447.1 L160.5,447.2 L161,447.2 L161.5,447.2 L162,447.3 L162.5,447.3 L163,447.4 L163.5,447.4 L164,447.4 L164.5,447.5 L165,447.5 L165.5,447.6 L166,447.6 L166.5,447.6 L167,447.7 L167.5,447.7 L168,447.8 L168.5,447.8 L169,447.8 L169.5,447.9 L170,447.9 L170.5,448 L171,448 L171.5,448 L172,448.1 L172.5,448.1 L173,448.2 L173.5,448.2 L174,448.2 L174.5,448.3 L175,448.3 L175.5,448.4 L176,448.4 L176.5,448.4 L177,448.5 L177.5,448.5 L178,448.6 L178.5,448.6 L179,448.6 L179.5,448.7 L180,448.7 L180.5,448.8 L181,448.8 L181.5,448.9 L182,448.9 L182.5,448.9 L183,449 L183.5,449 L184,449.1 L184.5,449.1 L185,449.1 L185.5,449.2 L186,449.2 L186.5,449.3 L187,449.3 L187.5,449.3 L188,449.4 L188.5,449.4 L189,449.5 L189.5,449.5 L190,449.5 L190.5,449.6 L191,449.6 L191.5,449.7 L192,449.7 L192.5,449.8 L193,449.8 L193.5,449.8 L194,449.9 L194.5,449.9 L195,450 L195.5,450 L196,450 L196.5,450.1 L197,450.1 L197.5,450.2 L198,450.2 L198.5,450.2 L199,450.3 L199.5,450.3 L200,450.4 L200.5,450.4 L201,450.4 L201.5,450.5 L202,450.5 L202.5,450.6 L203,450.6 L203.5,450.7 L204,450.7 L204.5,450.7 L205,450.8 L205.5,450.8 L206,450.9 L206.5,450.9 L207,450.9 L207.5,451 L208,451 L208.5,451.1 L209,451.1 L209.5,451.2 L210,451.2 L210.5,451.2 L211,451.3 L211.5,451.3 L212,451.4 L212.5,451.4 L213,451.4 L213.5,451.5 L214,451.5 L214.5,451.6 L215,451.6 L215.5,451.7 L216,451.7 L216.5,451.7 L217,451.8 L217.5,451.8 L218,451.9 L218.5,451.9 L219,451.9 L219.5,452 L220,452 L220.5,452.1 L221,452.1 L221.5,452.2 L222,452.2 L222.5,452.2 L223,452.3 L223.5,452.3 L224,452.4 L224.5,452.4 L225,452.4 L225.5,452.5 L226,452.5 L226.5,452.6 L227,452.6 L227.5,452.7 L228,452.7 L228.5,452.7 L229,452.8 L229.5,452.8 L230,452.9 L230.5,452.9 L231,453 L231.5,453 L232,453 L232.5,453.1 L233,453.1 L233.5,453.2 L234,453.2 L234.5,453.3 L235,453.3 L235.5,453.3 L236,453.4 L236.5,453.4 L237,453.5 L237.5,453.5 L238,453.5 L238.5,453.6 L239,453.6 L239.5,453.7 L240,453.7 L240.5,453.8 L241,453.8 L241.5,453.8 L242,453.9 L242.5,453.9 L243,454 L243.5,454 L244,454.1 L244.5,454.1 L245,454.1 L245.5,454.2 L246,454.2 L246.5,454.3 L247,454.3 L247.5,454.4 L248,454.4 L248.5,454.4 L249,454.5 L249.5,454.5 L250,454.6 L250.5,454.6 L251,454.7 L251.5,454.7 L252,454.7 L252.5,454.8 L253,454.8 L253.5,454.9 L254,454.9 L254.5,455 L255,455 L255.5,455 L256,455.1 L256.5,455.1 L257,455.2 L257.5,455.2 L258,455.3 L258.5,455.3 L259,455.3 L259.5,455.4 L260,455.4 L260.5,455.5 L261,455.5 L261.5,455.6 L262,455.6 L262.5,455.6 L263,455.7 L263.5,455.7 L264,455.8 L264.5,455.8 L265,455.9 L265.5,455.9 L266,456 L266.5,456 L267,456 L267.5,456.1 L268,456.1 L268.5,456.2 L269,456.2 L269.5,456.3 L270,456.3 L270.5,456.3 L271,456.4 L271.5,456.4 L272,456.5 L272.5,456.5 L273,456.6 L273.5,456.6 L274,456.6 L274.5,456.7 L275,456.7 L275.5,456.8 L276,456.8 L276.5,456.9" fill="none" stroke="#8ccaf0" stroke-width="0.8"/>
<path d="M62,439 L62.5,439 L63,439.1 L63.5,439.1 L64,439.1 L64.5,439.2 L65,439.2 L65.5,439.3 L66,439.3 L66.5,439.3 L67,439.4 L67.5,439.4 L68,439.4 L68.5,439.5 L69,439.5 L69.5,439.6 L70,439.6 L70.5,439.6 L71,439.7 L71.5,439.7 L72,439.7 L72.5,439.8 L73,439.8 L73.5,439.9 L74,439.9 L74.5,439.9 L75,440 L75.5,440 L76,440 L76.5,440.1 L77,440.1 L77.5,440.1 L78,440.2 L78.5,440.2 L79,440.3 L79.5,440.3 L80,440.3 L80.5,440.4 L81,440.4 L81.5,440.4 L82,440.5 L82.5,440.5 L83,440.6 L83.5,440.6 L84,440.6 L84.5,440.7 L85,440.7 L85.5,440.7 L86,440.8 L86.5,440.8 L87,440.9 L87.5,440.9 L88,440.9 L88.5,441 L89,441 L89.5,441 L90,441.1 L90.5,441.1 L91,441.2 L91.5,441.2 L92,441.2 L92.5,441.3 L93,441.3 L93.5,441.3 L94,441.4 L94.5,441.4 L95,441.5 L95.5,441.5 L96,441.5 L96.5,441.6 L97,441.6 L97.5,441.7 L98,441.7 L98.5,441.7 L99,441.8 L99.5,441.8 L100,441.8 L100.5,441.9 L101,441.9 L101.5,442 L102,442 L102.5,442 L103,442.1 L103.5,442.1 L104,442.1 L104.5,442.2 L105,442.2 L105.5,442.3 L106,442.3 L106.5,442.3 L107,442.4 L107.5,442.4 L108,442.5 L108.5,442.5 L109,442.5 L109.5,442.6 L110,442.6 L110.5,442.6 L111,442.7 L111.5,442.7 L112,442.8 L112.5,442.8 L113,442.8 L113.5,442.9 L114,442.9 L114.5,443 L115,443 L115.5,443 L116,443.1 L116.5,443.1 L117,443.1 L117.5,443.2 L118,443.2 L118.5,443.3 L119,443.3 L119.5,443.3 L120,443.4 L120.5,443.4 L121,443.5 L121.5,443.5 L122,443.5 L122.5,443.6 L123,443.6 L123.5,443.6 L124,443.7 L124.5,443.7 L125,443.8 L125.5,443.8 L126,443.8 L126.5,443.9 L127,443.9 L127.5,444 L128,444 L128.5,444 L129,444.1 L129.5,444.1 L130,444.2 L130.5,444.2 L131,444.2 L131.5,444.3 L132,444.3 L132.5,444.3 L133,444.4 L133.5,444.4 L134,444.5 L134.5,444.5 L135,444.5 L135.5,444.6 L136,444.6 L136.5,444.7 L137,444.7 L137.5,444.7 L138,444.8 L138.5,444.8 L139,444.9 L139.5,444.9 L140,444.9 L140.5,445 L141,445 L141.5,445.1 L142,445.1 L142.5,445.1 L143,445.2 L143.5,445.2 L144,445.2 L144.5,445.3 L145,445.3 L145.5,445.4 L146,445.4 L146.5,445.4 L147,445.5 L147.5,445.5 L148,445.6 L148.5,445.6 L149,445.6 L149.5,445.7 L150,445.7 L150.5,445.8 L151,445.8 L151.5,445.8 L152,445.9 L152.5,445.9 L153,446 L153.5,446 L154,446 L154.5,446.1 L155,446.1 L155.5,446.2 L156,446.2 L156.5,446.2 L157,446.3 L157.5,446.3 L158,446.4 L158.5,446.4 L159,446.4 L159.5,446.5 L160,446.5 L160.5,446.6 L161,446.6 L161.5,446.6 L162,446.7 L162.5,446.7 L163,446.8 L163.5,446.8 L164,446.8 L164.5,446.9 L165,446.9 L165.5,447 L166,447 L166.5,447 L167,447.1 L167.5,447.1 L168,447.2 L168.5,447.2 L169,447.2 L169.5,447.3 L170,447.3 L170.5,447.4 L171,447.4 L171.5,447.4 L172,447.5 L172.5,447.5 L173,447.6 L173.5,447.6 L174,447.6 L174.5,447.7 L175,447.7 L175.5,447.8 L176,447.8 L176.5,447.8 L177,447.9 L177.5,447.9 L178,448 L178.5,448 L179,448 L179.5,448.1 L180,448.1 L180.5,448.2 L181,448.2 L181.5,448.3 L182,448.3 L182.5,448.3 L183,448.4 L183.5,448.4 L184,448.5 L184.5,448.5 L185,448.5 L185.5,448.6 L186,448.6 L186.5,448.7 L187,448.7 L187.5,448.7 L188,448.8 L188.5,448.8 L189,448.9 L189.5,448.9 L190,448.9 L190.5,449 L191,449 L191.5,449.1 L192,449.1 L192.5,449.2 L193,449.2 L193.5,449.2 L194,449.3 L194.5,449.3 L195,449.4 L195.5,449.4 L196,449.4 L196.5,449.5 L197,449.5 L197.5,449.6 L198,449.6 L198.5,449.6 L199,449.7 L199.5,449.7 L200,449.8 L200.5,449.8 L201,449.8 L201.5,449.9 L202,449.9 L202.5,450 L203,450 L203.5,450.1 L204,450.1 L204.5,450.1 L205,450.2 L205.5,450.2 L206,450.3 L206.5,450.3 L207,450.3 L207.5,450.4 L208,450.4 L208.5,450.5 L209,450.5 L209.5,450.6 L210,450.6 L210.5,450.6 L211,450.7 L211.5,450.7 L212,450.8 L212.5,450.8 L213,450.8 L213.5,450.9 L214,450.9 L214.5,451 L215,451 L215.5,451.1 L216,451.1 L216.5,451.1 L217,451.2 L217.5,451.2 L218,451.3 L218.5,451.3 L219,451.3 L219.5,451.4 L220,451.4 L220.5,451.5 L221,451.5 L221.5,451.6 L222,451.6 L222.5,451.6 L223,451.7 L223.5,451.7 L224,451.8 L224.5,451.8 L225,451.8 L225.5,451.9 L226,451.9 L226.5,452 L227,452 L227.5,452.1 L228,452.1 L228.5,452.1 L229,452.2 L229.5,452.2 L230,452.3 L230.5,452.3 L231,452.4 L231.5,452.4 L232,452.4 L232.5,452.5 L233,452.5 L233.5,452.6 L234,452.6 L234.5,452.7 L235,452.7 L235.5,452.7 L236,452.8 L236.5,452.8 L237,452.9 L237.5,452.9 L238,452.9 L238.5,453 L239,453 L239.5,453.1 L240,453.1 L240.5,453.2 L241,453.2 L241.5,453.2 L242,453.3 L242.5,453.3 L243,453.4 L243.5,453.4 L244,453.5 L244.5,453.5 L245,453.5 L245.5,453.6 L246,453.6 L246.5,453.7 L247,453.7 L247.5,453.8 L248,453.8 L248.5,453.8 L249,453.9 L249.5,453.9 L250,454 L250.5,454 L251,454.1 L251.5,454.1 L252,454.1 L252.5,454.2 L253,454.2 L253.5,454.3 L254,454.3 L254.5,454.4 L255,454.4 L255.5,454.4 L256,454.5 L256.5,454.5 L257,454.6 L257.5,454.6 L258,454.7 L258.5,454.7 L259,454.7 L259.5,454.8 L260,454.8 L260.5,454.9 L261,454.9 L261.5,455 L262,455 L262.5,455 L263,455.1 L263.5,455.1 L264,455.2 L264.5,455.2 L265,455.3 L265.5,455.3 L266,455.4 L266.5,455.4 L267,455.4 L267.5,455.5 L268,455.5 L268.5,455.6 L269,455.6 L269.5,455.7 L270,455.7 L270.5,455.7 L271,455.8 L271.5,455.8 L272,455.9 L272.5,455.9 L273,456 L273.5,456 L274,456 L274.5,456.1 L275,456.1 L275.5,456.2 L276,456.2 L276.5,456.3" fill="none" stroke="#e99494" stroke-width="1.1"/>
<path d="M62,438.7 L62.5,438.8 L63,438.8 L63.5,438.8 L64,438.8 L64.5,438.8 L65,438.8 L65.5,438.8 L66,438.8 L66.5,438.8 L67,438.8 L67.5,438.8 L68,438.7 L68.5,438.7 L69,438.7 L69.5,438.7 L70,438.7 L70.5,438.6 L71,438.6 L71.5,438.5 L72,438.5 L72.5,438.4 L73,438.4 L73.5,438.3 L74,438.2 L74.5,438.2 L75,438.1 L75.5,438 L76,437.9 L76.5,437.8 L77,437.7 L77.5,437.6 L78,437.5 L78.5,437.4 L79,437.3 L79.5,437.1 L80,437 L80.5,436.9 L81,436.7 L81.5,436.6 L82,436.4 L82.5,436.3 L83,436.1 L83.5,435.9 L84,435.8 L84.5,435.6 L85,435.4 L85.5,435.2 L86,435 L86.5,434.8 L87,434.6 L87.5,434.4 L88,434.2 L88.5,434 L89,433.8 L89.5,433.6 L90,433.4 L90.5,433.2 L91,433 L91.5,432.8 L92,432.6 L92.5,432.5 L93,432.3 L93.5,432.1 L94,431.9 L94.5,431.7 L95,431.6 L95.5,431.4 L96,431.3 L96.5,431.1 L97,431 L97.5,430.8 L98,430.7 L98.5,430.6 L99,430.5 L99.5,430.4 L100,430.4 L100.5,430.3 L101,430.2 L101.5,430.2 L102,430.2 L102.5,430.1 L103,430.1 L103.5,430.1 L104,430.2 L104.5,430.2 L105,430.2 L105.5,430.3 L106,430.4 L106.5,430.4 L107,430.5 L107.5,430.6 L108,430.8 L108.5,430.9 L109,431 L109.5,431.2 L110,431.4 L110.5,431.5 L111,431.7 L111.5,431.9 L112,432.1 L112.5,432.3 L113,432.6 L113.5,432.8 L114,433 L114.5,433.3 L115,433.5 L115.5,433.7 L116,434 L116.5,434.3 L117,434.5 L117.5,434.8 L118,435 L118.5,435.3 L119,435.5 L119.5,435.7 L120,436 L120.5,436.2 L121,436.4 L121.5,436.5 L122,436.7 L122.5,436.8 L123,436.9 L123.5,437 L124,437.1 L124.5,437.1 L125,437 L125.5,436.9 L126,436.8 L126.5,436.7 L127,436.5 L127.5,436.2 L128,435.9 L128.5,435.6 L129,435.2 L129.5,434.8 L130,434.4 L130.5,434 L131,433.5 L131.5,433.1 L132,432.6 L132.5,432.1 L133,431.6 L133.5,431.1 L134,430.7 L134.5,430.2 L135,429.7 L135.5,429.2 L136,428.8 L136.5,428.3 L137,427.9 L137.5,427.4 L138,426.9 L138.5,426.5 L139,426 L139.5,425.6 L140,425.2 L140.5,424.7 L141,424.3 L141.5,423.9 L142,423.5 L142.5,423.2 L143,422.8 L143.5,422.5 L144,422.3 L144.5,422 L145,421.9 L145.5,421.8 L146,421.8 L146.5,421.8 L147,421.9 L147.5,422.1 L148,422.4 L148.5,422.8 L149,423.2 L149.5,423.8 L150,424.5 L150.5,425.2 L151,426 L151.5,426.9 L152,427.9 L152.5,428.9 L153,429.9 L153.5,431 L154,432.1 L154.5,433.1 L155,434.2 L155.5,435.3 L156,436.3 L156.5,437.3 L157,438.3 L157.5,439.2 L158,440 L158.5,440.8 L159,441.5 L159.5,442.2 L160,442.8 L160.5,443.4 L161,443.9 L161.5,444.3 L162,444.7 L162.5,445 L163,445.4 L163.5,445.6 L164,445.8 L164.5,446 L165,446.2 L165.5,446.4 L166,446.5 L166.5,446.6 L167,446.7 L167.5,446.8 L168,446.9 L168.5,446.9 L169,447 L169.5,447 L170,447 L170.5,447.1 L171,447.1 L171.5,447.1 L172,447.1 L172.5,447.2 L173,447.2 L173.5,447.2 L174,447.2 L174.5,447.2 L175,447.2 L175.5,447.2 L176,447.1 L176.5,447.1 L177,447.1 L177.5,447.1 L178,447 L178.5,447 L179,447 L179.5,446.9 L180,446.9 L180.5,446.8 L181,446.7 L181.5,446.7 L182,446.6 L182.5,446.5 L183,446.4 L183.5,446.3 L184,446.2 L184.5,446.1 L185,445.9 L185.5,445.8 L186,445.7 L186.5,445.5 L187,445.3 L187.5,445.2 L188,445 L188.5,444.8 L189,444.6 L189.5,444.4 L190,444.2 L190.5,443.9 L191,443.7 L191.5,443.4 L192,443.2 L192.5,442.9 L193,442.6 L193.5,442.3 L194,442 L194.5,441.7 L195,441.4 L195.5,441.1 L196,440.7 L196.5,440.4 L197,440.1 L197.5,439.7 L198,439.3 L198.5,439 L199,438.6 L199.5,438.2 L200,437.9 L200.5,437.5 L201,437.1 L201.5,436.7 L202,436.3 L202.5,436 L203,435.6 L203.5,435.2 L204,434.8 L204.5,434.5 L205,434.1 L205.5,433.8 L206,433.4 L206.5,433.1 L207,432.8 L207.5,432.4 L208,432.1 L208.5,431.9 L209,431.6 L209.5,431.3 L210,431.1 L210.5,430.8 L211,430.6 L211.5,430.4 L212,430.3 L212.5,430.1 L213,430 L213.5,429.9 L214,429.8 L214.5,429.7 L215,429.7 L215.5,429.6 L216,429.6 L216.5,429.6 L217,429.7 L217.5,429.7 L218,429.8 L218.5,429.9 L219,430.1 L219.5,430.2 L220,430.4 L220.5,430.6 L221,430.8 L221.5,431 L222,431.2 L222.5,431.5 L223,431.7 L223.5,432 L224,432.3 L224.5,432.6 L225,432.9 L225.5,433.2 L226,433.5 L226.5,433.8 L227,434.1 L227.5,434.4 L228,434.6 L228.5,434.9 L229,435.1 L229.5,435.2 L230,435.4 L230.5,435.5 L231,435.5 L231.5,435.5 L232,435.5 L232.5,435.4 L233,435.2 L233.5,434.9 L234,434.6 L234.5,434.2 L235,433.7 L235.5,433.2 L236,432.6 L236.5,431.9 L237,431.1 L237.5,430.3 L238,429.4 L238.5,428.4 L239,427.4 L239.5,426.4 L240,425.3 L240.5,424.2 L241,423.1 L241.5,421.9 L242,420.7 L242.5,419.5 L243,418.3 L243.5,417.1 L244,415.8 L244.5,414.6 L245,413.4 L245.5,412.1 L246,410.9 L246.5,409.6 L247,408.4 L247.5,407.2 L248,406 L248.5,404.9 L249,403.8 L249.5,402.7 L250,401.7 L250.5,400.8 L251,400 L251.5,399.3 L252,398.7 L252.5,398.3 L253,398 L253.5,397.9 L254,398 L254.5,398.3 L255,398.7 L255.5,399.3 L256,400.1 L256.5,401.1 L257,402.3 L257.5,403.5 L258,404.9 L258.5,406.5 L259,408.1 L259.5,409.8 L260,411.5 L260.5,413.3 L261,415.1 L261.5,416.9 L262,418.7 L262.5,420.4 L263,422.2 L263.5,423.9 L264,425.6 L264.5,427.3 L265,429 L265.5,430.6 L266,432.2 L266.5,433.8 L267,435.3 L267.5,436.9 L268,438.3 L268.5,439.8 L269,441.2 L269.5,442.6 L270,443.9 L270.5,445.2 L271,446.4 L271.5,447.5 L272,448.6 L272.5,449.6 L273,450.5 L273.5,451.3 L274,452 L274.5,452.7 L275,453.3 L275.5,453.8 L276,454.3 L276.5,454.7" fill="none" stroke="#606060" stroke-width="1.2"/>
<rect x="55.7" y="267.5" width="222.6" height="207.8" fill="none" stroke="#1a1a1a" stroke-width="1.4"/>
<line x1="55.7" y1="370.8" x2="278.3" y2="370.8" stroke="#1a1a1a" stroke-width="1.3"/>
<line x1="264.2" y1="475.3" x2="264.2" y2="477.9" stroke="#1a1a1a" stroke-width="1.1"/>
<text x="264.2" y="486.8" font-family='"Liberation Sans", sans-serif' font-size="8.2" font-weight="bold" fill="#111" stroke="#111" stroke-width="0.2" text-anchor="middle" >780</text>
<line x1="246.9" y1="475.3" x2="246.9" y2="476.9" stroke="#1a1a1a" stroke-width="1.1"/>
<line x1="229.5" y1="475.3" x2="229.5" y2="477.9" stroke="#1a1a1a" stroke-width="1.1"/>
<text x="229.5" y="486.8" font-family='"Liberation Sans", sans-serif' font-size="8.2" font-weight="bold" fill="#111" stroke="#111" stroke-width="0.2" text-anchor="middle" >785</text>
<line x1="212.2" y1="475.3" x2="212.2" y2="476.9" stroke="#1a1a1a" stroke-width="1.1"/>
<line x1="194.9" y1="475.3" x2="194.9" y2="477.9" stroke="#1a1a1a" stroke-width="1.1"/>
<text x="194.9" y="486.8" font-family='"Liberation Sans", sans-serif' font-size="8.2" font-weight="bold" fill="#111" stroke="#111" stroke-width="0.2" text-anchor="middle" >790</text>
<line x1="177.5" y1="475.3" x2="177.5" y2="476.9" stroke="#1a1a1a" stroke-width="1.1"/>
<line x1="160.2" y1="475.3" x2="160.2" y2="477.9" stroke="#1a1a1a" stroke-width="1.1"/>
<text x="160.2" y="486.8" font-family='"Liberation Sans", sans-serif' font-size="8.2" font-weight="bold" fill="#111" stroke="#111" stroke-width="0.2" text-anchor="middle" >795</text>
<line x1="142.9" y1="475.3" x2="142.9" y2="476.9" stroke="#1a1a1a" stroke-width="1.1"/>
<line x1="125.5" y1="475.3" x2="125.5" y2="477.9" stroke="#1a1a1a" stroke-width="1.1"/>
<text x="125.5" y="486.8" font-family='"Liberation Sans", sans-serif' font-size="8.2" font-weight="bold" fill="#111" stroke="#111" stroke-width="0.2" text-anchor="middle" >800</text>
<line x1="108.2" y1="475.3" x2="108.2" y2="476.9" stroke="#1a1a1a" stroke-width="1.1"/>
<line x1="90.9" y1="475.3" x2="90.9" y2="477.9" stroke="#1a1a1a" stroke-width="1.1"/>
<text x="90.9" y="486.8" font-family='"Liberation Sans", sans-serif' font-size="8.2" font-weight="bold" fill="#111" stroke="#111" stroke-width="0.2" text-anchor="middle" >805</text>
<line x1="73.5" y1="475.3" x2="73.5" y2="476.9" stroke="#1a1a1a" stroke-width="1.1"/>
<line x1="56.2" y1="475.3" x2="56.2" y2="477.9" stroke="#1a1a1a" stroke-width="1.1"/>
<text x="56.2" y="486.8" font-family='"Liberation Sans", sans-serif' font-size="8.2" font-weight="bold" fill="#111" stroke="#111" stroke-width="0.2" text-anchor="middle" >810</text>
<text x="167.4" y="500.6" font-family='"Liberation Sans", sans-serif' font-size="7.95" font-weight="bold" fill="#111" stroke="#111" stroke-width="0.2" text-anchor="middle" >Binding Energy (eV)</text>
<text x="0" y="0" font-family='"Liberation Sans", sans-serif' font-size="7.8" font-weight="bold" fill="#111" stroke="#111" stroke-width="0.2" text-anchor="middle" transform="translate(43.0,369) rotate(-90)">Intensity (a.u.)</text>
<text x="5.6" y="294.8" font-family='"Liberation Sans", sans-serif' font-size="20.3" font-weight="bold" fill="#111" stroke="#111" stroke-width="0.2" text-anchor="start" >(c)</text>
<text x="64.8" y="280.4" font-family='"Liberation Sans", sans-serif' font-size="7.5" font-weight="bold" fill="#111" stroke="#111" stroke-width="0.2" text-anchor="start" >Co 2p</text>
<text x="268" y="279.8" font-family='"Liberation Sans", sans-serif' font-size="9.3" font-weight="bold" fill="#ff1a1a" stroke="#ff1a1a" stroke-width="0.2" text-anchor="end" textLength="56.0" lengthAdjust="spacingAndGlyphs">CoO<tspan font-size="10.42" stroke="#ff1a1a" stroke-width="0.15">@</tspan>ZIF-67</text>
<text x="268.7" y="384.2" font-family='"Liberation Sans", sans-serif' font-size="9.25" font-weight="bold" fill="#111" stroke="#111" stroke-width="0.2" text-anchor="end" textLength="83.7" lengthAdjust="spacingAndGlyphs">Ni10<tspan font-size="10.36" stroke="#111" stroke-width="0.15">@</tspan>CoO<tspan font-size="10.36" stroke="#111" stroke-width="0.15">@</tspan>ZIF-67</text>
<text x="137.7" y="417.3" font-family='"Liberation Sans", sans-serif' font-size="7.1" font-weight="bold" fill="#111" stroke="#111" stroke-width="0.2" text-anchor="start" >Co 2p<tspan font-size="6.4" dy="1.5">1/2</tspan></text>
<text x="244.1" y="393.3" font-family='"Liberation Sans", sans-serif' font-size="7.1" font-weight="bold" fill="#111" stroke="#111" stroke-width="0.2" text-anchor="start" >Co 2p<tspan font-size="6.4" dy="1.5">3/2</tspan></text>
<text x="225.5" y="307.9" font-family='"Liberation Serif", serif' font-size="11.5" font-weight="bold" fill="#111" stroke="#111" stroke-width="0.12" text-anchor="start" >Co</text>
<text x="238.4" y="299.8" font-family='"Liberation Serif", serif' font-size="9.8" font-weight="bold" fill="#111" stroke="#111" stroke-width="0.12" text-anchor="start" >2<tspan font-size="11.8" dx="-0.3" dy="0.3">+</tspan></text>
<line x1="234" y1="310" x2="255" y2="319.5" stroke="#111" stroke-width="1.1"/>
<path d="M318.8,355.8 L319.5,355 L320.2,356.6 L320.9,356.5 L321.6,356.5 L322.3,356.8 L323,356.5 L323.7,356.6 L324.4,357 L325.1,355.5 L325.8,354.9 L326.5,355.8 L327.2,355.8 L327.9,356 L328.6,356 L329.3,356.4 L330,354.5 L330.7,354.2 L331.4,350.5 L332.1,349.7 L332.8,350 L333.5,352.4 L334.2,354.9 L334.9,355.3 L335.6,356.3 L336.3,356.2 L337,355.7 L337.7,355.3 L338.4,355.2 L339.1,355.4 L339.8,355.5 L340.5,355.7 L341.2,357.5 L341.9,356.1 L342.6,356.1 L343.3,355.1 L344,355.2 L344.7,355.5 L345.4,355.8 L346.1,355 L346.8,356.6 L347.5,355.3 L348.2,356.3 L348.9,354.3 L349.6,355.7 L350.3,355.8 L351,355.8 L351.7,356 L352.4,355.8 L353.1,355.7 L353.8,354.5 L354.5,355.2 L355.2,354.2 L355.9,356 L356.6,355.8 L357.3,355.5 L358,355.1 L358.7,355.3 L359.4,356.7 L360.1,356.5 L360.8,354.7 L361.5,353.2 L362.2,347.3 L362.9,343.4 L363.6,344.6 L364.3,348.3 L365,352.5 L365.7,355 L366.4,357.2 L367.1,355.1 L367.8,355.6 L368.5,355.7 L369.2,355.5 L369.9,356.1 L370.6,356.6 L371.3,354.8 L372,355.6 L372.7,355.3 L373.4,355.7 L374.1,354.5 L374.8,354.4 L375.5,354 L376.2,355.7 L376.9,355.5 L377.6,355.4 L378.3,353.9 L379,355.1 L379.7,354.6 L380.4,353.5 L381.1,352.7 L381.8,352.8 L382.5,352.9 L383.2,353.6 L383.9,354.9 L384.6,354.7 L385.3,355.2 L386,355.2 L386.7,355.4 L387.4,355 L388.1,354.9 L388.8,354.9 L389.5,354.5 L390.2,356.2 L390.9,355.1 L391.6,355 L392.3,356.1 L393,355.4 L393.7,353.6 L394.4,354.8 L395.1,354.8 L395.8,355.3 L396.5,354.8 L397.2,354.3 L397.9,352.9 L398.6,352.9 L399.3,353.3 L400,353.2 L400.7,352 L401.4,352 L402.1,351.7 L402.8,351.5 L403.5,351.2 L404.2,350.4 L404.9,349.2 L405.6,350.1 L406.3,349.7 L407,347.9 L407.7,347.8 L408.4,346.6 L409.1,345.8 L409.8,344.7 L410.5,342.9 L411.2,342.6 L411.9,341.7 L412.6,339.3 L413.3,339.7 L414,338.4 L414.7,336.8 L415.4,335.4 L416.1,333.1 L416.8,330.9 L417.5,329.1 L418.2,327.3 L418.9,326.2 L419.6,324.4 L420.3,323.2 L421,319.8 L421.7,320.8 L422.4,319.1 L423.1,316.1 L423.8,314.9 L424.5,313.3 L425.2,311.7 L425.9,310.1 L426.6,308.8 L427.3,307.2 L428,306.7 L428.7,305.6 L429.4,304.8 L430.1,303.3 L430.8,303.1 L431.5,302.4 L432.2,302.2 L432.9,300.7 L433.6,301.1 L434.3,301 L435,300.4 L435.7,299.4 L436.4,299 L437.1,298.8 L437.8,299.1 L438.5,299.2 L439.2,297.9 L439.9,297.2 L440.6,297.4 L441.3,296.9 L442,295.8 L442.7,295.4 L443.4,295.3 L444.1,295.3 L444.8,293.6 L445.5,293.2 L446.2,293.5 L446.9,291.9 L447.6,292 L448.3,291.6 L449,290.6 L449.7,289.5 L450.4,289.4 L451.1,288.6 L451.8,288.4 L452.5,287.1 L453.2,287.7 L453.9,285.5 L454.6,285.9 L455.3,285.6 L456,285.7 L456.7,284.4 L457.4,284.9 L458.1,284 L458.8,284.6 L459.5,285.1 L460.2,283.8 L460.9,284.4 L461.6,283.7 L462.3,285.1 L463,285.6 L463.7,285.3 L464.4,285.1 L465.1,286.6 L465.8,287.8 L466.5,288.5 L467.2,289.2 L467.9,288.5 L468.6,290.2 L469.3,292.5 L470,292.1 L470.7,294.7 L471.4,296.4 L472.1,297.1 L472.8,298.7 L473.5,299.2 L474.2,300.2 L474.9,302.3 L475.6,303.8 L476.3,305.5 L477,307.5 L477.7,308.6 L478.4,310.4 L479.1,312.2 L479.8,313.5 L480.5,316.3 L481.2,317.1 L481.9,318.4 L482.6,319.9 L483.3,321.2 L484,323.9 L484.7,324.7 L485.4,325.5 L486.1,327.2 L486.8,328.9 L487.5,330.1 L488.2,332.4 L488.9,332.4 L489.6,334.6 L490.3,335.7 L491,336.1 L491.7,337.9 L492.4,339 L493.1,340.4 L493.8,340.8 L494.5,342.2 L495.2,342 L495.9,343.2 L496.6,345.2 L497.3,346.1 L498,346.2 L498.7,346.6 L499.4,348.3 L500.1,347 L500.8,348.4 L501.5,349.8 L502.2,350.3 L502.9,349.8 L503.6,349.8 L504.3,352.2 L505,351.8 L505.7,351.6 L506.4,352.5 L507.1,353.3 L507.8,351.5 L508.5,354 L509.2,354.1 L509.9,352.6 L510.6,354.6 L511.3,353.2 L512,355.2 L512.7,354.9 L513.4,356.2 L514.1,354.6 L514.8,355.1 L515.5,355.9 L516.2,355 L516.9,355 L517.6,355.3 L518.3,355.6 L519,355.1 L519.7,356.1 L520.4,356.2 L521.1,356 L521.8,357 L522.5,355.9 L523.2,356.9 L523.9,355.8 L524.6,356.7 L525.3,355.1 L526,356.4 L526.7,356.2 L527.4,356.1 L528.1,356 L528.8,356.2 L529.5,356 L530.2,355.2 L530.9,356.1 L531.6,356.2 L532.3,356.2 L533,355.9 L533.7,356.5 L534.4,357.1 L535.1,356.5 L535.8,356.3 L536.5,357.5 L537.2,357.3 L537.9,357.2 L538.6,357.4 L539.3,356.5" fill="none" stroke="#a0a0a0" stroke-width="0.7"/>
<path d="M360.8,355.9 L361.3,355.9 L361.8,355.9 L362.3,355.9 L362.8,355.9 L363.3,355.9 L363.8,355.9 L364.3,355.9 L364.8,355.9 L365.3,355.9 L365.8,355.9 L366.3,355.9 L366.8,355.9 L367.3,355.9 L367.8,355.9 L368.3,355.9 L368.8,355.9 L369.3,355.9 L369.8,355.9 L370.3,355.9 L370.8,355.9 L371.3,355.9 L371.8,355.9 L372.3,355.9 L372.8,355.9 L373.3,355.9 L373.8,355.9 L374.3,355.9 L374.8,355.9 L375.3,355.9 L375.8,355.9 L376.3,355.9 L376.8,355.9 L377.3,355.9 L377.8,355.9 L378.3,355.9 L378.8,355.9 L379.3,355.9 L379.8,355.9 L380.3,355.9 L380.8,355.8 L381.3,355.8 L381.8,355.8 L382.3,355.8 L382.8,355.8 L383.3,355.8 L383.8,355.8 L384.3,355.8 L384.8,355.8 L385.3,355.8 L385.8,355.8 L386.3,355.8 L386.8,355.8 L387.3,355.8 L387.8,355.8 L388.3,355.8 L388.8,355.8 L389.3,355.8 L389.8,355.8 L390.3,355.8 L390.8,355.8 L391.3,355.8 L391.8,355.7 L392.3,355.7 L392.8,355.7 L393.3,355.7 L393.8,355.7 L394.3,355.7 L394.8,355.7 L395.3,355.7 L395.8,355.7 L396.3,355.6 L396.8,355.6 L397.3,355.6 L397.8,355.6 L398.3,355.6 L398.8,355.6 L399.3,355.5 L399.8,355.5 L400.3,355.5 L400.8,355.5 L401.3,355.4 L401.8,355.4 L402.3,355.4 L402.8,355.3 L403.3,355.3 L403.8,355.3 L404.3,355.2 L404.8,355.2 L405.3,355.1 L405.8,355.1 L406.3,355 L406.8,355 L407.3,354.9 L407.8,354.8 L408.3,354.7 L408.8,354.7 L409.3,354.6 L409.8,354.5 L410.3,354.4 L410.8,354.3 L411.3,354.2 L411.8,354.1 L412.3,354 L412.8,353.8 L413.3,353.7 L413.8,353.5 L414.3,353.4 L414.8,353.2 L415.3,353 L415.8,352.9 L416.3,352.7 L416.8,352.5 L417.3,352.2 L417.8,352 L418.3,351.8 L418.8,351.5 L419.3,351.2 L419.8,350.9 L420.3,350.6 L420.8,350.3 L421.3,350 L421.8,349.7 L422.3,349.3 L422.8,348.9 L423.3,348.5 L423.8,348.1 L424.3,347.7 L424.8,347.2 L425.3,346.7 L425.8,346.2 L426.3,345.7 L426.8,345.2 L427.3,344.6 L427.8,344 L428.3,343.4 L428.8,342.8 L429.3,342.2 L429.8,341.5 L430.3,340.8 L430.8,340.1 L431.3,339.4 L431.8,338.6 L432.3,337.8 L432.8,337 L433.3,336.2 L433.8,335.4 L434.3,334.5 L434.8,333.6 L435.3,332.7 L435.8,331.8 L436.3,330.8 L436.8,329.8 L437.3,328.8 L437.8,327.8 L438.3,326.8 L438.8,325.8 L439.3,324.7 L439.8,323.6 L440.3,322.6 L440.8,321.5 L441.3,320.4 L441.8,319.2 L442.3,318.1 L442.8,317 L443.3,315.8 L443.8,314.7 L444.3,313.6 L444.8,312.4 L445.3,311.3 L445.8,310.1 L446.3,309 L446.8,307.9 L447.3,306.8 L447.8,305.7 L448.3,304.6 L448.8,303.5 L449.3,302.4 L449.8,301.4 L450.3,300.4 L450.8,299.4 L451.3,298.4 L451.8,297.5 L452.3,296.5 L452.8,295.7 L453.3,294.8 L453.8,294 L454.3,293.2 L454.8,292.5 L455.3,291.8 L455.8,291.1 L456.3,290.5 L456.8,289.9 L457.3,289.4 L457.8,288.9 L458.3,288.5 L458.8,288.1 L459.3,287.8 L459.8,287.6 L460.3,287.3 L460.8,287.2 L461.3,287.1 L461.8,287 L462.3,287 L462.8,287.1 L463.3,287.2 L463.8,287.4 L464.3,287.6 L464.8,287.9 L465.3,288.2 L465.8,288.6 L466.3,289.1 L466.8,289.6 L467.3,290.1 L467.8,290.7 L468.3,291.3 L468.8,292 L469.3,292.7 L469.8,293.5 L470.3,294.2 L470.8,295.1 L471.3,295.9 L471.8,296.8 L472.3,297.8 L472.8,298.7 L473.3,299.7 L473.8,300.7 L474.3,301.8 L474.8,302.8 L475.3,303.9 L475.8,305 L476.3,306.1 L476.8,307.2 L477.3,308.3 L477.8,309.4 L478.3,310.6 L478.8,311.7 L479.3,312.9 L479.8,314 L480.3,315.2 L480.8,316.3 L481.3,317.5 L481.8,318.6 L482.3,319.7 L482.8,320.8 L483.3,322 L483.8,323.1 L484.3,324.1 L484.8,325.2 L485.3,326.3 L485.8,327.3 L486.3,328.4 L486.8,329.4 L487.3,330.4 L487.8,331.3 L488.3,332.3 L488.8,333.2 L489.3,334.1 L489.8,335 L490.3,335.9 L490.8,336.7 L491.3,337.6 L491.8,338.4 L492.3,339.2 L492.8,339.9 L493.3,340.7 L493.8,341.4 L494.3,342.1 L494.8,342.7 L495.3,343.4 L495.8,344 L496.3,344.6 L496.8,345.2 L497.3,345.7 L497.8,346.3 L498.3,346.8 L498.8,347.3 L499.3,347.8 L499.8,348.2 L500.3,348.7 L500.8,349.1 L501.3,349.5 L501.8,349.9 L502.3,350.2 L502.8,350.6 L503.3,350.9 L503.8,351.3 L504.3,351.6 L504.8,351.8 L505.3,352.1 L505.8,352.4 L506.3,352.6 L506.8,352.9 L507.3,353.1 L507.8,353.3 L508.3,353.5 L508.8,353.7 L509.3,353.9 L509.8,354 L510.3,354.2 L510.8,354.3 L511.3,354.5 L511.8,354.6 L512.3,354.8 L512.8,354.9 L513.3,355 L513.8,355.1 L514.3,355.2 L514.8,355.3 L515.3,355.4 L515.8,355.5 L516.3,355.5 L516.8,355.6 L517.3,355.7 L517.8,355.8 L518.3,355.8 L518.8,355.9 L519.3,355.9 L519.8,356 L520.3,356 L520.8,356.1 L521.3,356.1 L521.8,356.2 L522.3,356.2 L522.8,356.2 L523.3,356.3 L523.8,356.3 L524.3,356.3 L524.8,356.4 L525.3,356.4 L525.8,356.4 L526.3,356.4 L526.8,356.5 L527.3,356.5 L527.8,356.5 L528.3,356.5 L528.8,356.5 L529.3,356.6 L529.8,356.6 L530.3,356.6 L530.8,356.6 L531.3,356.6 L531.8,356.6 L532.3,356.7 L532.8,356.7 L533.3,356.7 L533.8,356.7 L534.3,356.7 L534.8,356.7 L535.3,356.7 L535.8,356.8 L536.3,356.8 L536.8,356.8 L537.3,356.8 L537.8,356.8 L538.3,356.8 L538.8,356.8 L539.3,356.8 L539.3,357.3 L360.8,356.2Z" fill="url(#g17)" fill-opacity="0.7" stroke="none"/>
<path d="M360.8,355.9 L361.3,355.9 L361.8,355.9 L362.3,355.9 L362.8,355.9 L363.3,355.9 L363.8,355.9 L364.3,355.9 L364.8,355.9 L365.3,355.9 L365.8,355.9 L366.3,355.9 L366.8,355.9 L367.3,355.9 L367.8,355.9 L368.3,355.9 L368.8,355.9 L369.3,355.9 L369.8,355.9 L370.3,355.9 L370.8,355.9 L371.3,355.9 L371.8,355.9 L372.3,355.9 L372.8,355.9 L373.3,355.9 L373.8,355.9 L374.3,355.9 L374.8,355.9 L375.3,355.9 L375.8,355.9 L376.3,355.9 L376.8,355.9 L377.3,355.9 L377.8,355.9 L378.3,355.9 L378.8,355.9 L379.3,355.9 L379.8,355.9 L380.3,355.9 L380.8,355.8 L381.3,355.8 L381.8,355.8 L382.3,355.8 L382.8,355.8 L383.3,355.8 L383.8,355.8 L384.3,355.8 L384.8,355.8 L385.3,355.8 L385.8,355.8 L386.3,355.8 L386.8,355.8 L387.3,355.8 L387.8,355.8 L388.3,355.8 L388.8,355.8 L389.3,355.8 L389.8,355.8 L390.3,355.8 L390.8,355.8 L391.3,355.8 L391.8,355.7 L392.3,355.7 L392.8,355.7 L393.3,355.7 L393.8,355.7 L394.3,355.7 L394.8,355.7 L395.3,355.7 L395.8,355.7 L396.3,355.6 L396.8,355.6 L397.3,355.6 L397.8,355.6 L398.3,355.6 L398.8,355.6 L399.3,355.5 L399.8,355.5 L400.3,355.5 L400.8,355.5 L401.3,355.4 L401.8,355.4 L402.3,355.4 L402.8,355.3 L403.3,355.3 L403.8,355.3 L404.3,355.2 L404.8,355.2 L405.3,355.1 L405.8,355.1 L406.3,355 L406.8,355 L407.3,354.9 L407.8,354.8 L408.3,354.7 L408.8,354.7 L409.3,354.6 L409.8,354.5 L410.3,354.4 L410.8,354.3 L411.3,354.2 L411.8,354.1 L412.3,354 L412.8,353.8 L413.3,353.7 L413.8,353.5 L414.3,353.4 L414.8,353.2 L415.3,353 L415.8,352.9 L416.3,352.7 L416.8,352.5 L417.3,352.2 L417.8,352 L418.3,351.8 L418.8,351.5 L419.3,351.2 L419.8,350.9 L420.3,350.6 L420.8,350.3 L421.3,350 L421.8,349.7 L422.3,349.3 L422.8,348.9 L423.3,348.5 L423.8,348.1 L424.3,347.7 L424.8,347.2 L425.3,346.7 L425.8,346.2 L426.3,345.7 L426.8,345.2 L427.3,344.6 L427.8,344 L428.3,343.4 L428.8,342.8 L429.3,342.2 L429.8,341.5 L430.3,340.8 L430.8,340.1 L431.3,339.4 L431.8,338.6 L432.3,337.8 L432.8,337 L433.3,336.2 L433.8,335.4 L434.3,334.5 L434.8,333.6 L435.3,332.7 L435.8,331.8 L436.3,330.8 L436.8,329.8 L437.3,328.8 L437.8,327.8 L438.3,326.8 L438.8,325.8 L439.3,324.7 L439.8,323.6 L440.3,322.6 L440.8,321.5 L441.3,320.4 L441.8,319.2 L442.3,318.1 L442.8,317 L443.3,315.8 L443.8,314.7 L444.3,313.6 L444.8,312.4 L445.3,311.3 L445.8,310.1 L446.3,309 L446.8,307.9 L447.3,306.8 L447.8,305.7 L448.3,304.6 L448.8,303.5 L449.3,302.4 L449.8,301.4 L450.3,300.4 L450.8,299.4 L451.3,298.4 L451.8,297.5 L452.3,296.5 L452.8,295.7 L453.3,294.8 L453.8,294 L454.3,293.2 L454.8,292.5 L455.3,291.8 L455.8,291.1 L456.3,290.5 L456.8,289.9 L457.3,289.4 L457.8,288.9 L458.3,288.5 L458.8,288.1 L459.3,287.8 L459.8,287.6 L460.3,287.3 L460.8,287.2 L461.3,287.1 L461.8,287 L462.3,287 L462.8,287.1 L463.3,287.2 L463.8,287.4 L464.3,287.6 L464.8,287.9 L465.3,288.2 L465.8,288.6 L466.3,289.1 L466.8,289.6 L467.3,290.1 L467.8,290.7 L468.3,291.3 L468.8,292 L469.3,292.7 L469.8,293.5 L470.3,294.2 L470.8,295.1 L471.3,295.9 L471.8,296.8 L472.3,297.8 L472.8,298.7 L473.3,299.7 L473.8,300.7 L474.3,301.8 L474.8,302.8 L475.3,303.9 L475.8,305 L476.3,306.1 L476.8,307.2 L477.3,308.3 L477.8,309.4 L478.3,310.6 L478.8,311.7 L479.3,312.9 L479.8,314 L480.3,315.2 L480.8,316.3 L481.3,317.5 L481.8,318.6 L482.3,319.7 L482.8,320.8 L483.3,322 L483.8,323.1 L484.3,324.1 L484.8,325.2 L485.3,326.3 L485.8,327.3 L486.3,328.4 L486.8,329.4 L487.3,330.4 L487.8,331.3 L488.3,332.3 L488.8,333.2 L489.3,334.1 L489.8,335 L490.3,335.9 L490.8,336.7 L491.3,337.6 L491.8,338.4 L492.3,339.2 L492.8,339.9 L493.3,340.7 L493.8,341.4 L494.3,342.1 L494.8,342.7 L495.3,343.4 L495.8,344 L496.3,344.6 L496.8,345.2 L497.3,345.7 L497.8,346.3 L498.3,346.8 L498.8,347.3 L499.3,347.8 L499.8,348.2 L500.3,348.7 L500.8,349.1 L501.3,349.5 L501.8,349.9 L502.3,350.2 L502.8,350.6 L503.3,350.9 L503.8,351.3 L504.3,351.6 L504.8,351.8 L505.3,352.1 L505.8,352.4 L506.3,352.6 L506.8,352.9 L507.3,353.1 L507.8,353.3 L508.3,353.5 L508.8,353.7 L509.3,353.9 L509.8,354 L510.3,354.2 L510.8,354.3 L511.3,354.5 L511.8,354.6 L512.3,354.8 L512.8,354.9 L513.3,355 L513.8,355.1 L514.3,355.2 L514.8,355.3 L515.3,355.4 L515.8,355.5 L516.3,355.5 L516.8,355.6 L517.3,355.7 L517.8,355.8 L518.3,355.8 L518.8,355.9 L519.3,355.9 L519.8,356 L520.3,356 L520.8,356.1 L521.3,356.1 L521.8,356.2 L522.3,356.2 L522.8,356.2 L523.3,356.3 L523.8,356.3 L524.3,356.3 L524.8,356.4 L525.3,356.4 L525.8,356.4 L526.3,356.4 L526.8,356.5 L527.3,356.5 L527.8,356.5 L528.3,356.5 L528.8,356.5 L529.3,356.6 L529.8,356.6 L530.3,356.6 L530.8,356.6 L531.3,356.6 L531.8,356.6 L532.3,356.7 L532.8,356.7 L533.3,356.7 L533.8,356.7 L534.3,356.7 L534.8,356.7 L535.3,356.7 L535.8,356.8 L536.3,356.8 L536.8,356.8 L537.3,356.8 L537.8,356.8 L538.3,356.8 L538.8,356.8 L539.3,356.8" fill="none" stroke="#9560d8" stroke-width="0.9"/>
<path d="M363.8,355.9 L364.3,355.9 L364.8,355.9 L365.3,355.9 L365.8,355.9 L366.3,355.9 L366.8,355.9 L367.3,355.9 L367.8,355.9 L368.3,355.9 L368.8,355.9 L369.3,355.9 L369.8,355.9 L370.3,355.9 L370.8,355.9 L371.3,355.9 L371.8,355.9 L372.3,355.9 L372.8,355.9 L373.3,355.9 L373.8,355.8 L374.3,355.8 L374.8,355.8 L375.3,355.8 L375.8,355.8 L376.3,355.8 L376.8,355.8 L377.3,355.8 L377.8,355.8 L378.3,355.8 L378.8,355.8 L379.3,355.8 L379.8,355.8 L380.3,355.8 L380.8,355.8 L381.3,355.8 L381.8,355.8 L382.3,355.7 L382.8,355.7 L383.3,355.7 L383.8,355.7 L384.3,355.7 L384.8,355.7 L385.3,355.7 L385.8,355.7 L386.3,355.6 L386.8,355.6 L387.3,355.6 L387.8,355.6 L388.3,355.6 L388.8,355.5 L389.3,355.5 L389.8,355.5 L390.3,355.5 L390.8,355.4 L391.3,355.4 L391.8,355.4 L392.3,355.3 L392.8,355.3 L393.3,355.2 L393.8,355.2 L394.3,355.1 L394.8,355 L395.3,355 L395.8,354.9 L396.3,354.8 L396.8,354.7 L397.3,354.6 L397.8,354.5 L398.3,354.4 L398.8,354.2 L399.3,354.1 L399.8,353.9 L400.3,353.7 L400.8,353.5 L401.3,353.3 L401.8,353.1 L402.3,352.9 L402.8,352.6 L403.3,352.3 L403.8,352 L404.3,351.7 L404.8,351.3 L405.3,351 L405.8,350.6 L406.3,350.2 L406.8,349.7 L407.3,349.2 L407.8,348.7 L408.3,348.2 L408.8,347.7 L409.3,347.1 L409.8,346.5 L410.3,345.8 L410.8,345.1 L411.3,344.4 L411.8,343.7 L412.3,343 L412.8,342.2 L413.3,341.4 L413.8,340.6 L414.3,339.7 L414.8,338.9 L415.3,338 L415.8,337.1 L416.3,336.2 L416.8,335.3 L417.3,334.4 L417.8,333.5 L418.3,332.5 L418.8,331.6 L419.3,330.7 L419.8,329.8 L420.3,328.9 L420.8,328.1 L421.3,327.2 L421.8,326.4 L422.3,325.7 L422.8,324.9 L423.3,324.2 L423.8,323.6 L424.3,323 L424.8,322.5 L425.3,322 L425.8,321.6 L426.3,321.3 L426.8,321 L427.3,320.8 L427.8,320.7 L428.3,320.6 L428.8,320.6 L429.3,320.7 L429.8,320.9 L430.3,321.2 L430.8,321.5 L431.3,321.9 L431.8,322.3 L432.3,322.8 L432.8,323.4 L433.3,324 L433.8,324.7 L434.3,325.4 L434.8,326.2 L435.3,327 L435.8,327.8 L436.3,328.7 L436.8,329.6 L437.3,330.5 L437.8,331.4 L438.3,332.3 L438.8,333.2 L439.3,334.1 L439.8,335.1 L440.3,336 L440.8,336.9 L441.3,337.8 L441.8,338.7 L442.3,339.6 L442.8,340.4 L443.3,341.3 L443.8,342.1 L444.3,342.9 L444.8,343.6 L445.3,344.4 L445.8,345.1 L446.3,345.8 L446.8,346.4 L447.3,347.1 L447.8,347.7 L448.3,348.3 L448.8,348.8 L449.3,349.3 L449.8,349.8 L450.3,350.3 L450.8,350.7 L451.3,351.1 L451.8,351.5 L452.3,351.9 L452.8,352.2 L453.3,352.5 L453.8,352.8 L454.3,353.1 L454.8,353.4 L455.3,353.6 L455.8,353.8 L456.3,354 L456.8,354.2 L457.3,354.4 L457.8,354.5 L458.3,354.7 L458.8,354.8 L459.3,355 L459.8,355.1 L460.3,355.2 L460.8,355.3 L461.3,355.4 L461.8,355.4 L462.3,355.5 L462.8,355.6 L463.3,355.7 L463.8,355.7 L464.3,355.8 L464.8,355.8 L465.3,355.9 L465.8,355.9 L466.3,355.9 L466.8,356 L467.3,356 L467.8,356.1 L468.3,356.1 L468.8,356.1 L469.3,356.1 L469.8,356.2 L470.3,356.2 L470.8,356.2 L471.3,356.2 L471.8,356.2 L472.3,356.3 L472.8,356.3 L473.3,356.3 L473.8,356.3 L474.3,356.3 L474.8,356.4 L475.3,356.4 L475.8,356.4 L476.3,356.4 L476.8,356.4 L477.3,356.4 L477.8,356.4 L478.3,356.5 L478.8,356.5 L479.3,356.5 L479.8,356.5 L480.3,356.5 L480.8,356.5 L481.3,356.5 L481.8,356.5 L482.3,356.5 L482.8,356.6 L483.3,356.6 L483.8,356.6 L484.3,356.6 L484.8,356.6 L485.3,356.6 L485.8,356.6 L486.3,356.6 L486.8,356.6 L487.3,356.6 L487.8,356.6 L488.3,356.7 L488.8,356.7 L489.3,356.7 L489.8,356.7 L490.3,356.7 L490.8,356.7 L491.3,356.7 L491.8,356.7 L492.3,356.7 L492.8,356.7 L492.8,357 L363.8,356.2Z" fill="url(#g18)" fill-opacity="0.7" stroke="none"/>
<path d="M363.8,355.9 L364.3,355.9 L364.8,355.9 L365.3,355.9 L365.8,355.9 L366.3,355.9 L366.8,355.9 L367.3,355.9 L367.8,355.9 L368.3,355.9 L368.8,355.9 L369.3,355.9 L369.8,355.9 L370.3,355.9 L370.8,355.9 L371.3,355.9 L371.8,355.9 L372.3,355.9 L372.8,355.9 L373.3,355.9 L373.8,355.8 L374.3,355.8 L374.8,355.8 L375.3,355.8 L375.8,355.8 L376.3,355.8 L376.8,355.8 L377.3,355.8 L377.8,355.8 L378.3,355.8 L378.8,355.8 L379.3,355.8 L379.8,355.8 L380.3,355.8 L380.8,355.8 L381.3,355.8 L381.8,355.8 L382.3,355.7 L382.8,355.7 L383.3,355.7 L383.8,355.7 L384.3,355.7 L384.8,355.7 L385.3,355.7 L385.8,355.7 L386.3,355.6 L386.8,355.6 L387.3,355.6 L387.8,355.6 L388.3,355.6 L388.8,355.5 L389.3,355.5 L389.8,355.5 L390.3,355.5 L390.8,355.4 L391.3,355.4 L391.8,355.4 L392.3,355.3 L392.8,355.3 L393.3,355.2 L393.8,355.2 L394.3,355.1 L394.8,355 L395.3,355 L395.8,354.9 L396.3,354.8 L396.8,354.7 L397.3,354.6 L397.8,354.5 L398.3,354.4 L398.8,354.2 L399.3,354.1 L399.8,353.9 L400.3,353.7 L400.8,353.5 L401.3,353.3 L401.8,353.1 L402.3,352.9 L402.8,352.6 L403.3,352.3 L403.8,352 L404.3,351.7 L404.8,351.3 L405.3,351 L405.8,350.6 L406.3,350.2 L406.8,349.7 L407.3,349.2 L407.8,348.7 L408.3,348.2 L408.8,347.7 L409.3,347.1 L409.8,346.5 L410.3,345.8 L410.8,345.1 L411.3,344.4 L411.8,343.7 L412.3,343 L412.8,342.2 L413.3,341.4 L413.8,340.6 L414.3,339.7 L414.8,338.9 L415.3,338 L415.8,337.1 L416.3,336.2 L416.8,335.3 L417.3,334.4 L417.8,333.5 L418.3,332.5 L418.8,331.6 L419.3,330.7 L419.8,329.8 L420.3,328.9 L420.8,328.1 L421.3,327.2 L421.8,326.4 L422.3,325.7 L422.8,324.9 L423.3,324.2 L423.8,323.6 L424.3,323 L424.8,322.5 L425.3,322 L425.8,321.6 L426.3,321.3 L426.8,321 L427.3,320.8 L427.8,320.7 L428.3,320.6 L428.8,320.6 L429.3,320.7 L429.8,320.9 L430.3,321.2 L430.8,321.5 L431.3,321.9 L431.8,322.3 L432.3,322.8 L432.8,323.4 L433.3,324 L433.8,324.7 L434.3,325.4 L434.8,326.2 L435.3,327 L435.8,327.8 L436.3,328.7 L436.8,329.6 L437.3,330.5 L437.8,331.4 L438.3,332.3 L438.8,333.2 L439.3,334.1 L439.8,335.1 L440.3,336 L440.8,336.9 L441.3,337.8 L441.8,338.7 L442.3,339.6 L442.8,340.4 L443.3,341.3 L443.8,342.1 L444.3,342.9 L444.8,343.6 L445.3,344.4 L445.8,345.1 L446.3,345.8 L446.8,346.4 L447.3,347.1 L447.8,347.7 L448.3,348.3 L448.8,348.8 L449.3,349.3 L449.8,349.8 L450.3,350.3 L450.8,350.7 L451.3,351.1 L451.8,351.5 L452.3,351.9 L452.8,352.2 L453.3,352.5 L453.8,352.8 L454.3,353.1 L454.8,353.4 L455.3,353.6 L455.8,353.8 L456.3,354 L456.8,354.2 L457.3,354.4 L457.8,354.5 L458.3,354.7 L458.8,354.8 L459.3,355 L459.8,355.1 L460.3,355.2 L460.8,355.3 L461.3,355.4 L461.8,355.4 L462.3,355.5 L462.8,355.6 L463.3,355.7 L463.8,355.7 L464.3,355.8 L464.8,355.8 L465.3,355.9 L465.8,355.9 L466.3,355.9 L466.8,356 L467.3,356 L467.8,356.1 L468.3,356.1 L468.8,356.1 L469.3,356.1 L469.8,356.2 L470.3,356.2 L470.8,356.2 L471.3,356.2 L471.8,356.2 L472.3,356.3 L472.8,356.3 L473.3,356.3 L473.8,356.3 L474.3,356.3 L474.8,356.4 L475.3,356.4 L475.8,356.4 L476.3,356.4 L476.8,356.4 L477.3,356.4 L477.8,356.4 L478.3,356.5 L478.8,356.5 L479.3,356.5 L479.8,356.5 L480.3,356.5 L480.8,356.5 L481.3,356.5 L481.8,356.5 L482.3,356.5 L482.8,356.6 L483.3,356.6 L483.8,356.6 L484.3,356.6 L484.8,356.6 L485.3,356.6 L485.8,356.6 L486.3,356.6 L486.8,356.6 L487.3,356.6 L487.8,356.6 L488.3,356.7 L488.8,356.7 L489.3,356.7 L489.8,356.7 L490.3,356.7 L490.8,356.7 L491.3,356.7 L491.8,356.7 L492.3,356.7 L492.8,356.7" fill="none" stroke="#f5ae7a" stroke-width="0.9"/>
<path d="M318.8,356.4 L319.3,356.4 L319.8,356.4 L320.3,356.4 L320.8,356.4 L321.3,356.4 L321.8,356.4 L322.3,356.4 L322.8,356.4 L323.3,356.4 L323.8,356.4 L324.3,356.4 L324.8,356.4 L325.3,356.4 L325.8,356.4 L326.3,356.4 L326.8,356.5 L327.3,356.5 L327.8,356.5 L328.3,356.5 L328.8,356.5 L329.3,356.5 L329.8,356.5 L330.3,356.5 L330.8,356.5 L331.3,356.5 L331.8,356.5 L332.3,356.5 L332.8,356.5 L333.3,356.5 L333.8,356.5 L334.3,356.5 L334.8,356.5 L335.3,356.5 L335.8,356.5 L336.3,356.5 L336.8,356.5 L337.3,356.5 L337.8,356.5 L338.3,356.5 L338.8,356.5 L339.3,356.5 L339.8,356.5 L340.3,356.5 L340.8,356.5 L341.3,356.5 L341.8,356.5 L342.3,356.6 L342.8,356.6 L343.3,356.6 L343.8,356.6 L344.3,356.6 L344.8,356.6 L345.3,356.6 L345.8,356.6 L346.3,356.6 L346.8,356.6 L347.3,356.6 L347.8,356.6 L348.3,356.6 L348.8,356.6 L349.3,356.6 L349.8,356.6 L350.3,356.6 L350.8,356.6 L351.3,356.6 L351.8,356.6 L352.3,356.6 L352.8,356.6 L353.3,356.6 L353.8,356.6 L354.3,356.6 L354.8,356.6 L355.3,356.6 L355.8,356.6 L356.3,356.6 L356.8,356.6 L357.3,356.7 L357.8,356.7 L358.3,356.7 L358.8,356.7 L359.3,356.7 L359.8,356.7 L360.3,356.7 L360.8,356.7 L361.3,356.7 L361.8,356.7 L362.3,356.7 L362.8,356.7 L363.3,356.7 L363.8,356.7 L364.3,356.7 L364.8,356.7 L365.3,356.7 L365.8,356.7 L366.3,356.7 L366.8,356.7 L367.3,356.7 L367.8,356.7 L368.3,356.7 L368.8,356.7 L369.3,356.7 L369.8,356.7 L370.3,356.7 L370.8,356.7 L371.3,356.7 L371.8,356.7 L372.3,356.7 L372.8,356.8 L373.3,356.8 L373.8,356.8 L374.3,356.8 L374.8,356.8 L375.3,356.8 L375.8,356.8 L376.3,356.8 L376.8,356.8 L377.3,356.8 L377.8,356.8 L378.3,356.8 L378.8,356.8 L379.3,356.8 L379.8,356.8 L380.3,356.8 L380.8,356.8 L381.3,356.8 L381.8,356.8 L382.3,356.8 L382.8,356.8 L383.3,356.8 L383.8,356.8 L384.3,356.8 L384.8,356.8 L385.3,356.8 L385.8,356.8 L386.3,356.8 L386.8,356.8 L387.3,356.8 L387.8,356.8 L388.3,356.9 L388.8,356.9 L389.3,356.9 L389.8,356.9 L390.3,356.9 L390.8,356.9 L391.3,356.9 L391.8,356.9 L392.3,356.9 L392.8,356.9 L393.3,356.9 L393.8,356.9 L394.3,356.9 L394.8,356.9 L395.3,356.9 L395.8,356.9 L396.3,356.9 L396.8,356.9 L397.3,356.9 L397.8,356.9 L398.3,356.9 L398.8,356.9 L399.3,356.9 L399.8,356.9 L400.3,356.9 L400.8,356.9 L401.3,356.9 L401.8,356.9 L402.3,356.9 L402.8,356.9 L403.3,356.9 L403.8,357 L404.3,357 L404.8,357 L405.3,357 L405.8,357 L406.3,357 L406.8,357 L407.3,357 L407.8,357 L408.3,357 L408.8,357 L409.3,357 L409.8,357 L410.3,357 L410.8,357 L411.3,357 L411.8,357 L412.3,357 L412.8,357 L413.3,357 L413.8,357 L414.3,357 L414.8,357 L415.3,357 L415.8,357 L416.3,357 L416.8,357 L417.3,357 L417.8,357 L418.3,357 L418.8,357 L419.3,357.1 L419.8,357.1 L420.3,357.1 L420.8,357.1 L421.3,357.1 L421.8,357.1 L422.3,357.1 L422.8,357.1 L423.3,357.1 L423.8,357.1 L424.3,357.1 L424.8,357.1 L425.3,357.1 L425.8,357.1 L426.3,357.1 L426.8,357.1 L427.3,357.1 L427.8,357.1 L428.3,357.1 L428.8,357.1 L429.3,357.1 L429.8,357.1 L430.3,357.1 L430.8,357.1 L431.3,357.1 L431.8,357.1 L432.3,357.1 L432.8,357.1 L433.3,357.1 L433.8,357.1 L434.3,357.2 L434.8,357.2 L435.3,357.2 L435.8,357.2 L436.3,357.2 L436.8,357.2 L437.3,357.2 L437.8,357.2 L438.3,357.2 L438.8,357.2 L439.3,357.2 L439.8,357.2 L440.3,357.2 L440.8,357.2 L441.3,357.2 L441.8,357.2 L442.3,357.2 L442.8,357.2 L443.3,357.2 L443.8,357.2 L444.3,357.2 L444.8,357.2 L445.3,357.2 L445.8,357.2 L446.3,357.2 L446.8,357.2 L447.3,357.2 L447.8,357.2 L448.3,357.2 L448.8,357.2 L449.3,357.2 L449.8,357.3 L450.3,357.3 L450.8,357.3 L451.3,357.3 L451.8,357.3 L452.3,357.3 L452.8,357.3 L453.3,357.3 L453.8,357.3 L454.3,357.3 L454.8,357.3 L455.3,357.3 L455.8,357.3 L456.3,357.3 L456.8,357.3 L457.3,357.3 L457.8,357.3 L458.3,357.3 L458.8,357.3 L459.3,357.3 L459.8,357.3 L460.3,357.3 L460.8,357.3 L461.3,357.3 L461.8,357.3 L462.3,357.3 L462.8,357.3 L463.3,357.3 L463.8,357.3 L464.3,357.3 L464.8,357.3 L465.3,357.4 L465.8,357.4 L466.3,357.4 L466.8,357.4 L467.3,357.4 L467.8,357.4 L468.3,357.4 L468.8,357.4 L469.3,357.4 L469.8,357.4 L470.3,357.4 L470.8,357.4 L471.3,357.4 L471.8,357.4 L472.3,357.4 L472.8,357.4 L473.3,357.4 L473.8,357.4 L474.3,357.4 L474.8,357.4 L475.3,357.4 L475.8,357.4 L476.3,357.4 L476.8,357.4 L477.3,357.4 L477.8,357.4 L478.3,357.4 L478.8,357.4 L479.3,357.4 L479.8,357.4 L480.3,357.4 L480.8,357.5 L481.3,357.5 L481.8,357.5 L482.3,357.5 L482.8,357.5 L483.3,357.5 L483.8,357.5 L484.3,357.5 L484.8,357.5 L485.3,357.5 L485.8,357.5 L486.3,357.5 L486.8,357.5 L487.3,357.5 L487.8,357.5 L488.3,357.5 L488.8,357.5 L489.3,357.5 L489.8,357.5 L490.3,357.5 L490.8,357.5 L491.3,357.5 L491.8,357.5 L492.3,357.5 L492.8,357.5 L493.3,357.5 L493.8,357.5 L494.3,357.5 L494.8,357.5 L495.3,357.5 L495.8,357.6 L496.3,357.6 L496.8,357.6 L497.3,357.6 L497.8,357.6 L498.3,357.6 L498.8,357.6 L499.3,357.6 L499.8,357.6 L500.3,357.6 L500.8,357.6 L501.3,357.6 L501.8,357.6 L502.3,357.6 L502.8,357.6 L503.3,357.6 L503.8,357.6 L504.3,357.6 L504.8,357.6 L505.3,357.6 L505.8,357.6 L506.3,357.6 L506.8,357.6 L507.3,357.6 L507.8,357.6 L508.3,357.6 L508.8,357.6 L509.3,357.6 L509.8,357.6 L510.3,357.6 L510.8,357.6 L511.3,357.7 L511.8,357.7 L512.3,357.7 L512.8,357.7 L513.3,357.7 L513.8,357.7 L514.3,357.7 L514.8,357.7 L515.3,357.7 L515.8,357.7 L516.3,357.7 L516.8,357.7 L517.3,357.7 L517.8,357.7 L518.3,357.7 L518.8,357.7 L519.3,357.7 L519.8,357.7 L520.3,357.7 L520.8,357.7 L521.3,357.7 L521.8,357.7 L522.3,357.7 L522.8,357.7 L523.3,357.7 L523.8,357.7 L524.3,357.7 L524.8,357.7 L525.3,357.7 L525.8,357.7 L526.3,357.7 L526.8,357.8 L527.3,357.8 L527.8,357.8 L528.3,357.8 L528.8,357.8 L529.3,357.8 L529.8,357.8 L530.3,357.8 L530.8,357.8 L531.3,357.8 L531.8,357.8 L532.3,357.8 L532.8,357.8 L533.3,357.8 L533.8,357.8 L534.3,357.8 L534.8,357.8 L535.3,357.8 L535.8,357.8 L536.3,357.8 L536.8,357.8 L537.3,357.8 L537.8,357.8 L538.3,357.8 L538.8,357.8 L539.3,357.8" fill="none" stroke="#f2b88c" stroke-width="0.8"/>
<path d="M318.8,355.9 L319.3,355.9 L319.8,355.9 L320.3,355.9 L320.8,355.9 L321.3,355.9 L321.8,355.9 L322.3,355.9 L322.8,355.9 L323.3,355.9 L323.8,355.9 L324.3,355.9 L324.8,355.9 L325.3,355.9 L325.8,355.9 L326.3,355.9 L326.8,356 L327.3,356 L327.8,356 L328.3,356 L328.8,356 L329.3,356 L329.8,356 L330.3,356 L330.8,356 L331.3,356 L331.8,356 L332.3,356 L332.8,356 L333.3,356 L333.8,356 L334.3,356 L334.8,356 L335.3,356 L335.8,356 L336.3,356 L336.8,356 L337.3,356 L337.8,356 L338.3,356 L338.8,356 L339.3,356 L339.8,356 L340.3,356 L340.8,356 L341.3,356 L341.8,356 L342.3,356.1 L342.8,356.1 L343.3,356.1 L343.8,356.1 L344.3,356.1 L344.8,356.1 L345.3,356.1 L345.8,356.1 L346.3,356.1 L346.8,356.1 L347.3,356.1 L347.8,356.1 L348.3,356.1 L348.8,356.1 L349.3,356.1 L349.8,356.1 L350.3,356.1 L350.8,356.1 L351.3,356.1 L351.8,356.1 L352.3,356.1 L352.8,356.1 L353.3,356.1 L353.8,356.1 L354.3,356.1 L354.8,356.1 L355.3,356.1 L355.8,356.1 L356.3,356.1 L356.8,356.1 L357.3,356.2 L357.8,356.2 L358.3,356.2 L358.8,356.2 L359.3,356.2 L359.8,356.2 L360.3,356.2 L360.8,356.2 L361.3,356.2 L361.8,356.2 L362.3,356.2 L362.8,356.2 L363.3,356.2 L363.8,356.2 L364.3,356.2 L364.8,356.2 L365.3,356.2 L365.8,356.2 L366.3,356.2 L366.8,356.2 L367.3,356.2 L367.8,356.2 L368.3,356.2 L368.8,356.2 L369.3,356.2 L369.8,356.2 L370.3,356.2 L370.8,356.2 L371.3,356.2 L371.8,356.2 L372.3,356.2 L372.8,356.3 L373.3,356.3 L373.8,356.3 L374.3,356.3 L374.8,356.3 L375.3,356.3 L375.8,356.3 L376.3,356.3 L376.8,356.3 L377.3,356.3 L377.8,356.3 L378.3,356.3 L378.8,356.3 L379.3,356.3 L379.8,356.3 L380.3,356.3 L380.8,356.3 L381.3,356.3 L381.8,356.3 L382.3,356.3 L382.8,356.3 L383.3,356.3 L383.8,356.3 L384.3,356.3 L384.8,356.3 L385.3,356.3 L385.8,356.3 L386.3,356.3 L386.8,356.3 L387.3,356.3 L387.8,356.3 L388.3,356.4 L388.8,356.4 L389.3,356.4 L389.8,356.4 L390.3,356.4 L390.8,356.4 L391.3,356.4 L391.8,356.4 L392.3,356.4 L392.8,356.4 L393.3,356.4 L393.8,356.4 L394.3,356.4 L394.8,356.4 L395.3,356.4 L395.8,356.4 L396.3,356.4 L396.8,356.4 L397.3,356.4 L397.8,356.4 L398.3,356.4 L398.8,356.4 L399.3,356.4 L399.8,356.4 L400.3,356.4 L400.8,356.4 L401.3,356.4 L401.8,356.4 L402.3,356.4 L402.8,356.4 L403.3,356.4 L403.8,356.5 L404.3,356.5 L404.8,356.5 L405.3,356.5 L405.8,356.5 L406.3,356.5 L406.8,356.5 L407.3,356.5 L407.8,356.5 L408.3,356.5 L408.8,356.5 L409.3,356.5 L409.8,356.5 L410.3,356.5 L410.8,356.5 L411.3,356.5 L411.8,356.5 L412.3,356.5 L412.8,356.5 L413.3,356.5 L413.8,356.5 L414.3,356.5 L414.8,356.5 L415.3,356.5 L415.8,356.5 L416.3,356.5 L416.8,356.5 L417.3,356.5 L417.8,356.5 L418.3,356.5 L418.8,356.5 L419.3,356.6 L419.8,356.6 L420.3,356.6 L420.8,356.6 L421.3,356.6 L421.8,356.6 L422.3,356.6 L422.8,356.6 L423.3,356.6 L423.8,356.6 L424.3,356.6 L424.8,356.6 L425.3,356.6 L425.8,356.6 L426.3,356.6 L426.8,356.6 L427.3,356.6 L427.8,356.6 L428.3,356.6 L428.8,356.6 L429.3,356.6 L429.8,356.6 L430.3,356.6 L430.8,356.6 L431.3,356.6 L431.8,356.6 L432.3,356.6 L432.8,356.6 L433.3,356.6 L433.8,356.6 L434.3,356.7 L434.8,356.7 L435.3,356.7 L435.8,356.7 L436.3,356.7 L436.8,356.7 L437.3,356.7 L437.8,356.7 L438.3,356.7 L438.8,356.7 L439.3,356.7 L439.8,356.7 L440.3,356.7 L440.8,356.7 L441.3,356.7 L441.8,356.7 L442.3,356.7 L442.8,356.7 L443.3,356.7 L443.8,356.7 L444.3,356.7 L444.8,356.7 L445.3,356.7 L445.8,356.7 L446.3,356.7 L446.8,356.7 L447.3,356.7 L447.8,356.7 L448.3,356.7 L448.8,356.7 L449.3,356.7 L449.8,356.8 L450.3,356.8 L450.8,356.8 L451.3,356.8 L451.8,356.8 L452.3,356.8 L452.8,356.8 L453.3,356.8 L453.8,356.8 L454.3,356.8 L454.8,356.8 L455.3,356.8 L455.8,356.8 L456.3,356.8 L456.8,356.8 L457.3,356.8 L457.8,356.8 L458.3,356.8 L458.8,356.8 L459.3,356.8 L459.8,356.8 L460.3,356.8 L460.8,356.8 L461.3,356.8 L461.8,356.8 L462.3,356.8 L462.8,356.8 L463.3,356.8 L463.8,356.8 L464.3,356.8 L464.8,356.8 L465.3,356.9 L465.8,356.9 L466.3,356.9 L466.8,356.9 L467.3,356.9 L467.8,356.9 L468.3,356.9 L468.8,356.9 L469.3,356.9 L469.8,356.9 L470.3,356.9 L470.8,356.9 L471.3,356.9 L471.8,356.9 L472.3,356.9 L472.8,356.9 L473.3,356.9 L473.8,356.9 L474.3,356.9 L474.8,356.9 L475.3,356.9 L475.8,356.9 L476.3,356.9 L476.8,356.9 L477.3,356.9 L477.8,356.9 L478.3,356.9 L478.8,356.9 L479.3,356.9 L479.8,356.9 L480.3,356.9 L480.8,357 L481.3,357 L481.8,357 L482.3,357 L482.8,357 L483.3,357 L483.8,357 L484.3,357 L484.8,357 L485.3,357 L485.8,357 L486.3,357 L486.8,357 L487.3,357 L487.8,357 L488.3,357 L488.8,357 L489.3,357 L489.8,357 L490.3,357 L490.8,357 L491.3,357 L491.8,357 L492.3,357 L492.8,357 L493.3,357 L493.8,357 L494.3,357 L494.8,357 L495.3,357 L495.8,357.1 L496.3,357.1 L496.8,357.1 L497.3,357.1 L497.8,357.1 L498.3,357.1 L498.8,357.1 L499.3,357.1 L499.8,357.1 L500.3,357.1 L500.8,357.1 L501.3,357.1 L501.8,357.1 L502.3,357.1 L502.8,357.1 L503.3,357.1 L503.8,357.1 L504.3,357.1 L504.8,357.1 L505.3,357.1 L505.8,357.1 L506.3,357.1 L506.8,357.1 L507.3,357.1 L507.8,357.1 L508.3,357.1 L508.8,357.1 L509.3,357.1 L509.8,357.1 L510.3,357.1 L510.8,357.1 L511.3,357.2 L511.8,357.2 L512.3,357.2 L512.8,357.2 L513.3,357.2 L513.8,357.2 L514.3,357.2 L514.8,357.2 L515.3,357.2 L515.8,357.2 L516.3,357.2 L516.8,357.2 L517.3,357.2 L517.8,357.2 L518.3,357.2 L518.8,357.2 L519.3,357.2 L519.8,357.2 L520.3,357.2 L520.8,357.2 L521.3,357.2 L521.8,357.2 L522.3,357.2 L522.8,357.2 L523.3,357.2 L523.8,357.2 L524.3,357.2 L524.8,357.2 L525.3,357.2 L525.8,357.2 L526.3,357.2 L526.8,357.3 L527.3,357.3 L527.8,357.3 L528.3,357.3 L528.8,357.3 L529.3,357.3 L529.8,357.3 L530.3,357.3 L530.8,357.3 L531.3,357.3 L531.8,357.3 L532.3,357.3 L532.8,357.3 L533.3,357.3 L533.8,357.3 L534.3,357.3 L534.8,357.3 L535.3,357.3 L535.8,357.3 L536.3,357.3 L536.8,357.3 L537.3,357.3 L537.8,357.3 L538.3,357.3 L538.8,357.3 L539.3,357.3" fill="none" stroke="#808080" stroke-width="0.9"/>
<path d="M318.8,355.6 L319.3,355.6 L319.8,355.6 L320.3,355.6 L320.8,355.6 L321.3,355.6 L321.8,355.6 L322.3,355.7 L322.8,355.7 L323.3,355.7 L323.8,355.7 L324.3,355.7 L324.8,355.7 L325.3,355.7 L325.8,355.7 L326.3,355.7 L326.8,355.7 L327.3,355.7 L327.8,355.7 L328.3,355.7 L328.8,355.7 L329.3,355.7 L329.8,355.7 L330.3,355.7 L330.8,355.7 L331.3,355.7 L331.8,355.7 L332.3,355.7 L332.8,355.7 L333.3,355.7 L333.8,355.7 L334.3,355.7 L334.8,355.7 L335.3,355.7 L335.8,355.7 L336.3,355.7 L336.8,355.7 L337.3,355.7 L337.8,355.7 L338.3,355.7 L338.8,355.7 L339.3,355.7 L339.8,355.7 L340.3,355.7 L340.8,355.7 L341.3,355.7 L341.8,355.7 L342.3,355.7 L342.8,355.7 L343.3,355.7 L343.8,355.7 L344.3,355.7 L344.8,355.7 L345.3,355.7 L345.8,355.7 L346.3,355.7 L346.8,355.7 L347.3,355.7 L347.8,355.7 L348.3,355.7 L348.8,355.7 L349.3,355.7 L349.8,355.7 L350.3,355.7 L350.8,355.7 L351.3,355.6 L351.8,355.6 L352.3,355.6 L352.8,355.6 L353.3,355.6 L353.8,355.6 L354.3,355.6 L354.8,355.6 L355.3,355.6 L355.8,355.6 L356.3,355.6 L356.8,355.6 L357.3,355.6 L357.8,355.6 L358.3,355.6 L358.8,355.6 L359.3,355.6 L359.8,355.6 L360.3,355.6 L360.8,355.6 L361.3,355.6 L361.8,355.6 L362.3,355.6 L362.8,355.6 L363.3,355.6 L363.8,355.6 L364.3,355.6 L364.8,355.6 L365.3,355.6 L365.8,355.6 L366.3,355.6 L366.8,355.6 L367.3,355.5 L367.8,355.5 L368.3,355.5 L368.8,355.5 L369.3,355.5 L369.8,355.5 L370.3,355.5 L370.8,355.5 L371.3,355.5 L371.8,355.5 L372.3,355.5 L372.8,355.5 L373.3,355.5 L373.8,355.5 L374.3,355.5 L374.8,355.4 L375.3,355.4 L375.8,355.4 L376.3,355.4 L376.8,355.4 L377.3,355.4 L377.8,355.4 L378.3,355.4 L378.8,355.4 L379.3,355.4 L379.8,355.3 L380.3,355.3 L380.8,355.3 L381.3,355.3 L381.8,355.3 L382.3,355.3 L382.8,355.3 L383.3,355.2 L383.8,355.2 L384.3,355.2 L384.8,355.2 L385.3,355.2 L385.8,355.1 L386.3,355.1 L386.8,355.1 L387.3,355.1 L387.8,355 L388.3,355 L388.8,355 L389.3,354.9 L389.8,354.9 L390.3,354.9 L390.8,354.8 L391.3,354.8 L391.8,354.7 L392.3,354.7 L392.8,354.6 L393.3,354.6 L393.8,354.5 L394.3,354.4 L394.8,354.3 L395.3,354.2 L395.8,354.1 L396.3,354 L396.8,353.9 L397.3,353.8 L397.8,353.7 L398.3,353.5 L398.8,353.4 L399.3,353.2 L399.8,353 L400.3,352.8 L400.8,352.6 L401.3,352.3 L401.8,352.1 L402.3,351.8 L402.8,351.5 L403.3,351.2 L403.8,350.8 L404.3,350.5 L404.8,350.1 L405.3,349.6 L405.8,349.2 L406.3,348.7 L406.8,348.2 L407.3,347.6 L407.8,347.1 L408.3,346.5 L408.8,345.8 L409.3,345.2 L409.8,344.4 L410.3,343.7 L410.8,342.9 L411.3,342.1 L411.8,341.3 L412.3,340.4 L412.8,339.5 L413.3,338.5 L413.8,337.6 L414.3,336.5 L414.8,335.5 L415.3,334.4 L415.8,333.3 L416.3,332.2 L416.8,331.1 L417.3,329.9 L417.8,328.8 L418.3,327.6 L418.8,326.4 L419.3,325.2 L419.8,324 L420.3,322.8 L420.8,321.5 L421.3,320.3 L421.8,319.1 L422.3,318 L422.8,316.8 L423.3,315.7 L423.8,314.5 L424.3,313.4 L424.8,312.4 L425.3,311.4 L425.8,310.4 L426.3,309.4 L426.8,308.5 L427.3,307.7 L427.8,306.9 L428.3,306.1 L428.8,305.4 L429.3,304.8 L429.8,304.2 L430.3,303.6 L430.8,303.1 L431.3,302.6 L431.8,302.1 L432.3,301.7 L432.8,301.4 L433.3,301 L433.8,300.7 L434.3,300.4 L434.8,300.1 L435.3,299.9 L435.8,299.6 L436.3,299.4 L436.8,299.1 L437.3,298.9 L437.8,298.6 L438.3,298.4 L438.8,298.2 L439.3,297.9 L439.8,297.6 L440.3,297.4 L440.8,297.1 L441.3,296.8 L441.8,296.5 L442.3,296.2 L442.8,295.8 L443.3,295.5 L443.8,295.1 L444.3,294.7 L444.8,294.3 L445.3,293.9 L445.8,293.5 L446.3,293.1 L446.8,292.7 L447.3,292.2 L447.8,291.8 L448.3,291.3 L448.8,290.9 L449.3,290.4 L449.8,290 L450.3,289.5 L450.8,289.1 L451.3,288.6 L451.8,288.2 L452.3,287.8 L452.8,287.4 L453.3,287 L453.8,286.6 L454.3,286.2 L454.8,285.9 L455.3,285.6 L455.8,285.3 L456.3,285 L456.8,284.8 L457.3,284.6 L457.8,284.4 L458.3,284.3 L458.8,284.2 L459.3,284.1 L459.8,284.1 L460.3,284.1 L460.8,284.1 L461.3,284.2 L461.8,284.4 L462.3,284.5 L462.8,284.8 L463.3,285 L463.8,285.4 L464.3,285.7 L464.8,286.1 L465.3,286.6 L465.8,287.1 L466.3,287.6 L466.8,288.2 L467.3,288.8 L467.8,289.5 L468.3,290.2 L468.8,290.9 L469.3,291.7 L469.8,292.5 L470.3,293.3 L470.8,294.2 L471.3,295.1 L471.8,296 L472.3,297 L472.8,298 L473.3,299 L473.8,300 L474.3,301.1 L474.8,302.2 L475.3,303.3 L475.8,304.4 L476.3,305.5 L476.8,306.6 L477.3,307.8 L477.8,308.9 L478.3,310.1 L478.8,311.2 L479.3,312.4 L479.8,313.6 L480.3,314.7 L480.8,315.9 L481.3,317 L481.8,318.2 L482.3,319.3 L482.8,320.4 L483.3,321.5 L483.8,322.7 L484.3,323.8 L484.8,324.8 L485.3,325.9 L485.8,327 L486.3,328 L486.8,329 L487.3,330 L487.8,331 L488.3,331.9 L488.8,332.9 L489.3,333.8 L489.8,334.7 L490.3,335.6 L490.8,336.4 L491.3,337.3 L491.8,338.1 L492.3,338.9 L492.8,339.6 L493.3,340.4 L493.8,341.1 L494.3,341.8 L494.8,342.5 L495.3,343.1 L495.8,343.7 L496.3,344.3 L496.8,344.9 L497.3,345.5 L497.8,346 L498.3,346.5 L498.8,347 L499.3,347.5 L499.8,348 L500.3,348.4 L500.8,348.9 L501.3,349.3 L501.8,349.6 L502.3,350 L502.8,350.4 L503.3,350.7 L503.8,351 L504.3,351.3 L504.8,351.6 L505.3,351.9 L505.8,352.2 L506.3,352.4 L506.8,352.7 L507.3,352.9 L507.8,353.1 L508.3,353.3 L508.8,353.5 L509.3,353.7 L509.8,353.8 L510.3,354 L510.8,354.2 L511.3,354.3 L511.8,354.4 L512.3,354.6 L512.8,354.7 L513.3,354.8 L513.8,354.9 L514.3,355 L514.8,355.1 L515.3,355.2 L515.8,355.3 L516.3,355.4 L516.8,355.5 L517.3,355.5 L517.8,355.6 L518.3,355.7 L518.8,355.7 L519.3,355.8 L519.8,355.8 L520.3,355.9 L520.8,355.9 L521.3,356 L521.8,356 L522.3,356.1 L522.8,356.1 L523.3,356.1 L523.8,356.2 L524.3,356.2 L524.8,356.2 L525.3,356.3 L525.8,356.3 L526.3,356.3 L526.8,356.3 L527.3,356.4 L527.8,356.4 L528.3,356.4 L528.8,356.4 L529.3,356.4 L529.8,356.5 L530.3,356.5 L530.8,356.5 L531.3,356.5 L531.8,356.5 L532.3,356.5 L532.8,356.6 L533.3,356.6 L533.8,356.6 L534.3,356.6 L534.8,356.6 L535.3,356.6 L535.8,356.6 L536.3,356.7 L536.8,356.7 L537.3,356.7 L537.8,356.7 L538.3,356.7 L538.8,356.7 L539.3,356.7" fill="none" stroke="#5e5e5e" stroke-width="1.2"/>
<path d="M318.8,460.6 L319.8,460.5 L320.8,460.6 L321.8,460.7 L322.8,460.4 L323.8,460.8 L324.8,460.8 L325.8,460.8 L326.8,461 L327.8,461.3 L328.8,461.2 L329.8,461 L330.8,460.5 L331.8,460.1 L332.8,460 L333.8,460.2 L334.8,460.2 L335.8,460.6 L336.8,460.6 L337.8,460.3 L338.8,459.8 L339.8,460.3 L340.8,460.3 L341.8,460.8 L342.8,460.7 L343.8,461 L344.8,461.1 L345.8,461.1 L346.8,460.9 L347.8,461 L348.8,460.5 L349.8,460.2 L350.8,460 L351.8,460.6 L352.8,460.7 L353.8,461.4 L354.8,461.5 L355.8,461.7 L356.8,461.2 L357.8,461.2 L358.8,461 L359.8,461 L360.8,460.6 L361.8,460.6 L362.8,460.9 L363.8,460.8 L364.8,461.1 L365.8,461.4 L366.8,461.4 L367.8,461.4 L368.8,461.1 L369.8,461 L370.8,460.7 L371.8,460.3 L372.8,460.3 L373.8,460.2 L374.8,459.9 L375.8,459.8 L376.8,460.2 L377.8,459.8 L378.8,460.1 L379.8,459.8 L380.8,460.3 L381.8,460.2 L382.8,460.5 L383.8,460.4 L384.8,460.8 L385.8,460.3 L386.8,459.7 L387.8,459.6 L388.8,459.3 L389.8,459.1 L390.8,459.4 L391.8,459.4 L392.8,459.1 L393.8,458.9 L394.8,458.5 L395.8,458.2 L396.8,458.3 L397.8,457.9 L398.8,457.4 L399.8,457.3 L400.8,456.5 L401.8,456 L402.8,455.5 L403.8,454.5 L404.8,453.1 L405.8,452.3 L406.8,451.1 L407.8,450 L408.8,449.5 L409.8,448.6 L410.8,447.1 L411.8,445.5 L412.8,443.8 L413.8,441.8 L414.8,440 L415.8,437.8 L416.8,436.1 L417.8,433.7 L418.8,431.2 L419.8,429 L420.8,427.2 L421.8,424.7 L422.8,422.1 L423.8,420.1 L424.8,417.9 L425.8,415.3 L426.8,412.1 L427.8,409.8 L428.8,407.4 L429.8,404.7 L430.8,402.7 L431.8,401.2 L432.8,399.1 L433.8,397.7 L434.8,395.6 L435.8,394.4 L436.8,393 L437.8,391.5 L438.8,390.3 L439.8,389.9 L440.8,388.5 L441.8,388.4 L442.8,388.1 L443.8,387.9 L444.8,388.5 L445.8,389.5 L446.8,390.1 L447.8,392.1 L448.8,394.2 L449.8,395.9 L450.8,397.6 L451.8,400.2 L452.8,402.7 L453.8,405.4 L454.8,408.6 L455.8,411.9 L456.8,414.8 L457.8,417.7 L458.8,420.7 L459.8,423 L460.8,426.3 L461.8,428.5 L462.8,431.5 L463.8,433.6 L464.8,436.5 L465.8,438.7 L466.8,441.3 L467.8,443.2 L468.8,445.4 L469.8,447.2 L470.8,448.5 L471.8,450.1 L472.8,451 L473.8,452.8 L474.8,453.7 L475.8,454.9 L476.8,455.7 L477.8,457.1 L478.8,457.1 L479.8,458.1 L480.8,458.9 L481.8,459.7 L482.8,460 L483.8,460.2 L484.8,460.1 L485.8,460 L486.8,459.9 L487.8,459.9 L488.8,460.2 L489.8,460.8 L490.8,460.2 L491.8,460.5 L492.8,460.3 L493.8,460.3 L494.8,460.1 L495.8,461 L496.8,461.2 L497.8,461.4 L498.8,461.6 L499.8,461.6 L500.8,461.1 L501.8,461 L502.8,460.8 L503.8,460.4 L504.8,460.4 L505.8,460.9 L506.8,461 L507.8,461.1 L508.8,461.4 L509.8,461.1 L510.8,461.2 L511.8,461.3 L512.8,462 L513.8,462.4 L514.8,462.4 L515.8,462.2 L516.8,461.8 L517.8,461.4 L518.8,461.6 L519.8,462 L520.8,461.6 L521.8,461.5 L522.8,461.1 L523.8,460.8 L524.8,460.6 L525.8,461.2 L526.8,462 L527.8,462.1 L528.8,461.8 L529.8,462.3 L530.8,462.3 L531.8,461.6 L532.8,461.4 L533.8,461.2 L534.8,460.5 L535.8,459.9" fill="none" stroke="#6a6a6a" stroke-width="0.95"/>
<path d="M393.5,460.6 L394,460.5 L394.5,460.5 L395,460.5 L395.5,460.4 L396,460.4 L396.5,460.3 L397,460.3 L397.5,460.2 L398,460.2 L398.5,460.1 L399,460 L399.5,459.9 L400,459.8 L400.5,459.7 L401,459.6 L401.5,459.5 L402,459.3 L402.5,459.2 L403,459 L403.5,458.8 L404,458.6 L404.5,458.4 L405,458.2 L405.5,458 L406,457.7 L406.5,457.4 L407,457.1 L407.5,456.8 L408,456.5 L408.5,456.1 L409,455.7 L409.5,455.3 L410,454.9 L410.5,454.4 L411,453.9 L411.5,453.4 L412,452.8 L412.5,452.2 L413,451.6 L413.5,451 L414,450.3 L414.5,449.6 L415,448.8 L415.5,448 L416,447.2 L416.5,446.3 L417,445.4 L417.5,444.5 L418,443.5 L418.5,442.5 L419,441.5 L419.5,440.4 L420,439.3 L420.5,438.1 L421,436.9 L421.5,435.7 L422,434.5 L422.5,433.2 L423,431.9 L423.5,430.5 L424,429.2 L424.5,427.8 L425,426.4 L425.5,424.9 L426,423.5 L426.5,422 L427,420.6 L427.5,419.1 L428,417.6 L428.5,416.1 L429,414.7 L429.5,413.2 L430,411.7 L430.5,410.3 L431,408.8 L431.5,407.4 L432,406 L432.5,404.7 L433,403.3 L433.5,402.1 L434,400.8 L434.5,399.6 L435,398.4 L435.5,397.3 L436,396.3 L436.5,395.3 L437,394.3 L437.5,393.4 L438,392.6 L438.5,391.9 L439,391.2 L439.5,390.6 L440,390.1 L440.5,389.7 L441,389.3 L441.5,389 L442,388.8 L442.5,388.7 L443,388.6 L443.5,388.7 L444,388.8 L444.5,389 L445,389.3 L445.5,389.7 L446,390.1 L446.5,390.7 L447,391.3 L447.5,391.9 L448,392.7 L448.5,393.5 L449,394.4 L449.5,395.3 L450,396.3 L450.5,397.4 L451,398.5 L451.5,399.7 L452,400.9 L452.5,402.2 L453,403.5 L453.5,404.8 L454,406.2 L454.5,407.6 L455,409 L455.5,410.4 L456,411.9 L456.5,413.3 L457,414.8 L457.5,416.3 L458,417.8 L458.5,419.3 L459,420.8 L459.5,422.2 L460,423.7 L460.5,425.1 L461,426.6 L461.5,428 L462,429.4 L462.5,430.8 L463,432.1 L463.5,433.4 L464,434.7 L464.5,436 L465,437.2 L465.5,438.4 L466,439.5 L466.5,440.7 L467,441.8 L467.5,442.8 L468,443.8 L468.5,444.8 L469,445.7 L469.5,446.6 L470,447.5 L470.5,448.3 L471,449.1 L471.5,449.9 L472,450.6 L472.5,451.3 L473,452 L473.5,452.6 L474,453.2 L474.5,453.8 L475,454.3 L475.5,454.8 L476,455.3 L476.5,455.7 L477,456.1 L477.5,456.5 L478,456.9 L478.5,457.2 L479,457.6 L479.5,457.9 L480,458.2 L480.5,458.4 L481,458.7 L481.5,458.9 L482,459.1 L482.5,459.3 L483,459.5 L483.5,459.7 L484,459.8 L484.5,460 L485,460.1 L485.5,460.2 L486,460.3 L486.5,460.4 L487,460.5 L487.5,460.6 L488,460.7 L488.5,460.8 L489,460.8 L489.5,460.9 L490,461 L490.5,461 L491,461.1 L491.5,461.1 L492,461.1 L492.5,461.2 L492.5,461.4 L393.5,460.9Z" fill="url(#g19)" fill-opacity="0.75" stroke="none"/>
<path d="M393.5,460.6 L394,460.5 L394.5,460.5 L395,460.5 L395.5,460.4 L396,460.4 L396.5,460.3 L397,460.3 L397.5,460.2 L398,460.2 L398.5,460.1 L399,460 L399.5,459.9 L400,459.8 L400.5,459.7 L401,459.6 L401.5,459.5 L402,459.3 L402.5,459.2 L403,459 L403.5,458.8 L404,458.6 L404.5,458.4 L405,458.2 L405.5,458 L406,457.7 L406.5,457.4 L407,457.1 L407.5,456.8 L408,456.5 L408.5,456.1 L409,455.7 L409.5,455.3 L410,454.9 L410.5,454.4 L411,453.9 L411.5,453.4 L412,452.8 L412.5,452.2 L413,451.6 L413.5,451 L414,450.3 L414.5,449.6 L415,448.8 L415.5,448 L416,447.2 L416.5,446.3 L417,445.4 L417.5,444.5 L418,443.5 L418.5,442.5 L419,441.5 L419.5,440.4 L420,439.3 L420.5,438.1 L421,436.9 L421.5,435.7 L422,434.5 L422.5,433.2 L423,431.9 L423.5,430.5 L424,429.2 L424.5,427.8 L425,426.4 L425.5,424.9 L426,423.5 L426.5,422 L427,420.6 L427.5,419.1 L428,417.6 L428.5,416.1 L429,414.7 L429.5,413.2 L430,411.7 L430.5,410.3 L431,408.8 L431.5,407.4 L432,406 L432.5,404.7 L433,403.3 L433.5,402.1 L434,400.8 L434.5,399.6 L435,398.4 L435.5,397.3 L436,396.3 L436.5,395.3 L437,394.3 L437.5,393.4 L438,392.6 L438.5,391.9 L439,391.2 L439.5,390.6 L440,390.1 L440.5,389.7 L441,389.3 L441.5,389 L442,388.8 L442.5,388.7 L443,388.6 L443.5,388.7 L444,388.8 L444.5,389 L445,389.3 L445.5,389.7 L446,390.1 L446.5,390.7 L447,391.3 L447.5,391.9 L448,392.7 L448.5,393.5 L449,394.4 L449.5,395.3 L450,396.3 L450.5,397.4 L451,398.5 L451.5,399.7 L452,400.9 L452.5,402.2 L453,403.5 L453.5,404.8 L454,406.2 L454.5,407.6 L455,409 L455.5,410.4 L456,411.9 L456.5,413.3 L457,414.8 L457.5,416.3 L458,417.8 L458.5,419.3 L459,420.8 L459.5,422.2 L460,423.7 L460.5,425.1 L461,426.6 L461.5,428 L462,429.4 L462.5,430.8 L463,432.1 L463.5,433.4 L464,434.7 L464.5,436 L465,437.2 L465.5,438.4 L466,439.5 L466.5,440.7 L467,441.8 L467.5,442.8 L468,443.8 L468.5,444.8 L469,445.7 L469.5,446.6 L470,447.5 L470.5,448.3 L471,449.1 L471.5,449.9 L472,450.6 L472.5,451.3 L473,452 L473.5,452.6 L474,453.2 L474.5,453.8 L475,454.3 L475.5,454.8 L476,455.3 L476.5,455.7 L477,456.1 L477.5,456.5 L478,456.9 L478.5,457.2 L479,457.6 L479.5,457.9 L480,458.2 L480.5,458.4 L481,458.7 L481.5,458.9 L482,459.1 L482.5,459.3 L483,459.5 L483.5,459.7 L484,459.8 L484.5,460 L485,460.1 L485.5,460.2 L486,460.3 L486.5,460.4 L487,460.5 L487.5,460.6 L488,460.7 L488.5,460.8 L489,460.8 L489.5,460.9 L490,461 L490.5,461 L491,461.1 L491.5,461.1 L492,461.1 L492.5,461.2" fill="none" stroke="#9560d8" stroke-width="0.9"/>
<path d="M389.5,460.5 L390,460.5 L390.5,460.5 L391,460.4 L391.5,460.4 L392,460.3 L392.5,460.3 L393,460.2 L393.5,460.1 L394,460 L394.5,460 L395,459.9 L395.5,459.8 L396,459.6 L396.5,459.5 L397,459.4 L397.5,459.3 L398,459.1 L398.5,459 L399,458.8 L399.5,458.6 L400,458.5 L400.5,458.3 L401,458.1 L401.5,457.9 L402,457.7 L402.5,457.5 L403,457.2 L403.5,457 L404,456.8 L404.5,456.5 L405,456.3 L405.5,456.1 L406,455.8 L406.5,455.6 L407,455.3 L407.5,455.1 L408,454.9 L408.5,454.6 L409,454.4 L409.5,454.2 L410,454 L410.5,453.8 L411,453.7 L411.5,453.5 L412,453.3 L412.5,453.2 L413,453.1 L413.5,453 L414,452.9 L414.5,452.9 L415,452.8 L415.5,452.8 L416,452.8 L416.5,452.8 L417,452.8 L417.5,452.9 L418,453 L418.5,453.1 L419,453.2 L419.5,453.3 L420,453.4 L420.5,453.6 L421,453.8 L421.5,454 L422,454.2 L422.5,454.4 L423,454.6 L423.5,454.8 L424,455.1 L424.5,455.3 L425,455.5 L425.5,455.8 L426,456 L426.5,456.3 L427,456.5 L427.5,456.8 L428,457 L428.5,457.2 L429,457.5 L429.5,457.7 L430,457.9 L430.5,458.1 L431,458.3 L431.5,458.5 L432,458.7 L432.5,458.9 L433,459.1 L433.5,459.2 L434,459.4 L434.5,459.5 L435,459.7 L435.5,459.8 L436,459.9 L436.5,460 L437,460.2 L437.5,460.2 L438,460.3 L438.5,460.4 L439,460.5 L439.5,460.6 L440,460.6 L440.5,460.7 L441,460.7 L441.5,460.8 L442,460.8 L442.5,460.9 L442.5,461.1 L389.5,460.8Z" fill="url(#g20)" fill-opacity="0.75" stroke="none"/>
<path d="M389.5,460.5 L390,460.5 L390.5,460.5 L391,460.4 L391.5,460.4 L392,460.3 L392.5,460.3 L393,460.2 L393.5,460.1 L394,460 L394.5,460 L395,459.9 L395.5,459.8 L396,459.6 L396.5,459.5 L397,459.4 L397.5,459.3 L398,459.1 L398.5,459 L399,458.8 L399.5,458.6 L400,458.5 L400.5,458.3 L401,458.1 L401.5,457.9 L402,457.7 L402.5,457.5 L403,457.2 L403.5,457 L404,456.8 L404.5,456.5 L405,456.3 L405.5,456.1 L406,455.8 L406.5,455.6 L407,455.3 L407.5,455.1 L408,454.9 L408.5,454.6 L409,454.4 L409.5,454.2 L410,454 L410.5,453.8 L411,453.7 L411.5,453.5 L412,453.3 L412.5,453.2 L413,453.1 L413.5,453 L414,452.9 L414.5,452.9 L415,452.8 L415.5,452.8 L416,452.8 L416.5,452.8 L417,452.8 L417.5,452.9 L418,453 L418.5,453.1 L419,453.2 L419.5,453.3 L420,453.4 L420.5,453.6 L421,453.8 L421.5,454 L422,454.2 L422.5,454.4 L423,454.6 L423.5,454.8 L424,455.1 L424.5,455.3 L425,455.5 L425.5,455.8 L426,456 L426.5,456.3 L427,456.5 L427.5,456.8 L428,457 L428.5,457.2 L429,457.5 L429.5,457.7 L430,457.9 L430.5,458.1 L431,458.3 L431.5,458.5 L432,458.7 L432.5,458.9 L433,459.1 L433.5,459.2 L434,459.4 L434.5,459.5 L435,459.7 L435.5,459.8 L436,459.9 L436.5,460 L437,460.2 L437.5,460.2 L438,460.3 L438.5,460.4 L439,460.5 L439.5,460.6 L440,460.6 L440.5,460.7 L441,460.7 L441.5,460.8 L442,460.8 L442.5,460.9" fill="none" stroke="#f5ae7a" stroke-width="0.9"/>
<path d="M386,460.8 L386.5,460.8 L387,460.8 L387.5,460.8 L388,460.8 L388.5,460.8 L389,460.8 L389.5,460.8 L390,460.8 L390.5,460.8 L391,460.8 L391.5,460.8 L392,460.8 L392.5,460.8 L393,460.8 L393.5,460.9 L394,460.9 L394.5,460.9 L395,460.9 L395.5,460.9 L396,460.9 L396.5,460.9 L397,460.9 L397.5,460.9 L398,460.9 L398.5,460.9 L399,460.9 L399.5,460.9 L400,460.9 L400.5,460.9 L401,460.9 L401.5,460.9 L402,460.9 L402.5,460.9 L403,460.9 L403.5,460.9 L404,460.9 L404.5,460.9 L405,460.9 L405.5,460.9 L406,460.9 L406.5,460.9 L407,460.9 L407.5,460.9 L408,460.9 L408.5,460.9 L409,460.9 L409.5,460.9 L410,460.9 L410.5,461 L411,461 L411.5,461 L412,461 L412.5,461 L413,461 L413.5,461 L414,461 L414.5,461 L415,461 L415.5,461 L416,461 L416.5,461 L417,461 L417.5,461 L418,461 L418.5,461 L419,461 L419.5,461 L420,461 L420.5,461 L421,461 L421.5,461 L422,461 L422.5,461 L423,461 L423.5,461 L424,461 L424.5,461 L425,461 L425.5,461 L426,461 L426.5,461 L427,461.1 L427.5,461.1 L428,461.1 L428.5,461.1 L429,461.1 L429.5,461.1 L430,461.1 L430.5,461.1 L431,461.1 L431.5,461.1 L432,461.1 L432.5,461.1 L433,461.1 L433.5,461.1 L434,461.1 L434.5,461.1 L435,461.1 L435.5,461.1 L436,461.1 L436.5,461.1 L437,461.1 L437.5,461.1 L438,461.1 L438.5,461.1 L439,461.1 L439.5,461.1 L440,461.1 L440.5,461.1 L441,461.1 L441.5,461.1 L442,461.1 L442.5,461.1 L443,461.1 L443.5,461.2 L444,461.2 L444.5,461.2 L445,461.2 L445.5,461.2 L446,461.2 L446.5,461.2 L447,461.2 L447.5,461.2 L448,461.2 L448.5,461.2 L449,461.2 L449.5,461.2 L450,461.2 L450.5,461.2 L451,461.2 L451.5,461.2 L452,461.2 L452.5,461.2 L453,461.2 L453.5,461.2 L454,461.2 L454.5,461.2 L455,461.2 L455.5,461.2 L456,461.2 L456.5,461.2 L457,461.2 L457.5,461.2 L458,461.2 L458.5,461.2 L459,461.2 L459.5,461.2 L460,461.2 L460.5,461.3 L461,461.3 L461.5,461.3 L462,461.3 L462.5,461.3 L463,461.3 L463.5,461.3 L464,461.3 L464.5,461.3 L465,461.3 L465.5,461.3 L466,461.3 L466.5,461.3 L467,461.3 L467.5,461.3 L468,461.3 L468.5,461.3 L469,461.3 L469.5,461.3 L470,461.3 L470.5,461.3 L471,461.3 L471.5,461.3 L472,461.3 L472.5,461.3 L473,461.3 L473.5,461.3 L474,461.3 L474.5,461.3 L475,461.3 L475.5,461.3 L476,461.3 L476.5,461.3 L477,461.4 L477.5,461.4 L478,461.4 L478.5,461.4 L479,461.4 L479.5,461.4 L480,461.4 L480.5,461.4 L481,461.4 L481.5,461.4 L482,461.4 L482.5,461.4 L483,461.4 L483.5,461.4 L484,461.4 L484.5,461.4 L485,461.4 L485.5,461.4 L486,461.4 L486.5,461.4 L487,461.4 L487.5,461.4 L488,461.4 L488.5,461.4 L489,461.4 L489.5,461.4 L490,461.4 L490.5,461.4 L491,461.4 L491.5,461.4 L492,461.4 L492.5,461.4 L493,461.4 L493.5,461.5 L494,461.5 L494.5,461.5 L495,461.5 L495.5,461.5 L496,461.5 L496.5,461.5 L497,461.5 L497.5,461.5 L498,461.5 L498.5,461.5 L499,461.5 L499.5,461.5 L500,461.5 L500.5,461.5" fill="none" stroke="#e0a070" stroke-width="0.9"/>
<path d="M386,460.7 L386.5,460.6 L387,460.6 L387.5,460.6 L388,460.6 L388.5,460.5 L389,460.5 L389.5,460.4 L390,460.4 L390.5,460.3 L391,460.3 L391.5,460.2 L392,460.1 L392.5,460 L393,459.9 L393.5,459.8 L394,459.7 L394.5,459.6 L395,459.5 L395.5,459.3 L396,459.2 L396.5,459 L397,458.8 L397.5,458.6 L398,458.4 L398.5,458.2 L399,457.9 L399.5,457.7 L400,457.4 L400.5,457.1 L401,456.8 L401.5,456.4 L402,456.1 L402.5,455.7 L403,455.3 L403.5,454.9 L404,454.5 L404.5,454 L405,453.5 L405.5,453 L406,452.5 L406.5,452 L407,451.4 L407.5,450.9 L408,450.3 L408.5,449.6 L409,449 L409.5,448.3 L410,447.6 L410.5,446.9 L411,446.2 L411.5,445.4 L412,444.6 L412.5,443.8 L413,443 L413.5,442.2 L414,441.3 L414.5,440.4 L415,439.5 L415.5,438.5 L416,437.5 L416.5,436.5 L417,435.5 L417.5,434.5 L418,433.4 L418.5,432.4 L419,431.3 L419.5,430.2 L420,429 L420.5,427.9 L421,426.7 L421.5,425.6 L422,424.4 L422.5,423.3 L423,422.1 L423.5,420.9 L424,419.7 L424.5,418.5 L425,417.4 L425.5,416.2 L426,415 L426.5,413.8 L427,412.7 L427.5,411.5 L428,410.4 L428.5,409.3 L429,408.1 L429.5,407 L430,405.9 L430.5,404.8 L431,403.7 L431.5,402.7 L432,401.6 L432.5,400.6 L433,399.6 L433.5,398.6 L434,397.7 L434.5,396.7 L435,395.8 L435.5,395 L436,394.1 L436.5,393.4 L437,392.6 L437.5,391.9 L438,391.3 L438.5,390.7 L439,390.2 L439.5,389.7 L440,389.3 L440.5,389 L441,388.7 L441.5,388.5 L442,388.3 L442.5,388.3 L443,388.3 L443.5,388.4 L444,388.6 L444.5,388.8 L445,389.1 L445.5,389.5 L446,390 L446.5,390.5 L447,391.2 L447.5,391.9 L448,392.6 L448.5,393.4 L449,394.3 L449.5,395.3 L450,396.3 L450.5,397.4 L451,398.5 L451.5,399.7 L452,400.9 L452.5,402.2 L453,403.5 L453.5,404.8 L454,406.2 L454.5,407.6 L455,409 L455.5,410.4 L456,411.9 L456.5,413.3 L457,414.8 L457.5,416.3 L458,417.8 L458.5,419.3 L459,420.8 L459.5,422.2 L460,423.7 L460.5,425.1 L461,426.6 L461.5,428 L462,429.4 L462.5,430.8 L463,432.1 L463.5,433.4 L464,434.7 L464.5,436 L465,437.2 L465.5,438.4 L466,439.5 L466.5,440.7 L467,441.8 L467.5,442.8 L468,443.8 L468.5,444.8 L469,445.7 L469.5,446.6 L470,447.5 L470.5,448.3 L471,449.1 L471.5,449.9 L472,450.6 L472.5,451.3 L473,452 L473.5,452.6 L474,453.2 L474.5,453.8 L475,454.3 L475.5,454.8 L476,455.3 L476.5,455.7 L477,456.1 L477.5,456.5 L478,456.9 L478.5,457.2 L479,457.6 L479.5,457.9 L480,458.2 L480.5,458.4 L481,458.7 L481.5,458.9 L482,459.1 L482.5,459.3 L483,459.5 L483.5,459.7 L484,459.8 L484.5,460 L485,460.1 L485.5,460.2 L486,460.3 L486.5,460.4 L487,460.5 L487.5,460.6 L488,460.7 L488.5,460.8 L489,460.8 L489.5,460.9 L490,461 L490.5,461 L491,461.1 L491.5,461.1 L492,461.1 L492.5,461.2 L493,461.2 L493.5,461.2 L494,461.3 L494.5,461.3 L495,461.3 L495.5,461.3 L496,461.3 L496.5,461.4 L497,461.4 L497.5,461.4 L498,461.4 L498.5,461.4 L499,461.4 L499.5,461.4 L500,461.4 L500.5,461.5" fill="none" stroke="#6a6a6a" stroke-width="1.2"/>
<rect x="318.7" y="267.6" width="222.3" height="207.6" fill="none" stroke="#1a1a1a" stroke-width="1.4"/>
<line x1="318.7" y1="371.3" x2="541" y2="371.3" stroke="#1a1a1a" stroke-width="1.3"/>
<line x1="541.5" y1="475.2" x2="541.5" y2="476.8" stroke="#1a1a1a" stroke-width="1.1"/>
<line x1="526.7" y1="475.2" x2="526.7" y2="477.8" stroke="#1a1a1a" stroke-width="1.1"/>
<text x="526.7" y="486.8" font-family='"Liberation Sans", sans-serif' font-size="8.2" font-weight="bold" fill="#111" stroke="#111" stroke-width="0.2" text-anchor="middle" >526</text>
<line x1="511.9" y1="475.2" x2="511.9" y2="476.8" stroke="#1a1a1a" stroke-width="1.1"/>
<line x1="497" y1="475.2" x2="497" y2="477.8" stroke="#1a1a1a" stroke-width="1.1"/>
<text x="497" y="486.8" font-family='"Liberation Sans", sans-serif' font-size="8.2" font-weight="bold" fill="#111" stroke="#111" stroke-width="0.2" text-anchor="middle" >528</text>
<line x1="482.1" y1="475.2" x2="482.1" y2="476.8" stroke="#1a1a1a" stroke-width="1.1"/>
<line x1="467.3" y1="475.2" x2="467.3" y2="477.8" stroke="#1a1a1a" stroke-width="1.1"/>
<text x="467.3" y="486.8" font-family='"Liberation Sans", sans-serif' font-size="8.2" font-weight="bold" fill="#111" stroke="#111" stroke-width="0.2" text-anchor="middle" >530</text>
<line x1="452.5" y1="475.2" x2="452.5" y2="476.8" stroke="#1a1a1a" stroke-width="1.1"/>
<line x1="437.6" y1="475.2" x2="437.6" y2="477.8" stroke="#1a1a1a" stroke-width="1.1"/>
<text x="437.6" y="486.8" font-family='"Liberation Sans", sans-serif' font-size="8.2" font-weight="bold" fill="#111" stroke="#111" stroke-width="0.2" text-anchor="middle" >532</text>
<line x1="422.8" y1="475.2" x2="422.8" y2="476.8" stroke="#1a1a1a" stroke-width="1.1"/>
<line x1="407.9" y1="475.2" x2="407.9" y2="477.8" stroke="#1a1a1a" stroke-width="1.1"/>
<text x="407.9" y="486.8" font-family='"Liberation Sans", sans-serif' font-size="8.2" font-weight="bold" fill="#111" stroke="#111" stroke-width="0.2" text-anchor="middle" >534</text>
<line x1="393.1" y1="475.2" x2="393.1" y2="476.8" stroke="#1a1a1a" stroke-width="1.1"/>
<line x1="378.2" y1="475.2" x2="378.2" y2="477.8" stroke="#1a1a1a" stroke-width="1.1"/>
<text x="378.2" y="486.8" font-family='"Liberation Sans", sans-serif' font-size="8.2" font-weight="bold" fill="#111" stroke="#111" stroke-width="0.2" text-anchor="middle" >536</text>
<line x1="363.4" y1="475.2" x2="363.4" y2="476.8" stroke="#1a1a1a" stroke-width="1.1"/>
<line x1="348.5" y1="475.2" x2="348.5" y2="477.8" stroke="#1a1a1a" stroke-width="1.1"/>
<text x="348.5" y="486.8" font-family='"Liberation Sans", sans-serif' font-size="8.2" font-weight="bold" fill="#111" stroke="#111" stroke-width="0.2" text-anchor="middle" >538</text>
<line x1="333.7" y1="475.2" x2="333.7" y2="476.8" stroke="#1a1a1a" stroke-width="1.1"/>
<line x1="318.8" y1="475.2" x2="318.8" y2="477.8" stroke="#1a1a1a" stroke-width="1.1"/>
<text x="318.8" y="486.8" font-family='"Liberation Sans", sans-serif' font-size="8.2" font-weight="bold" fill="#111" stroke="#111" stroke-width="0.2" text-anchor="middle" >540</text>
<text x="430.3" y="500.6" font-family='"Liberation Sans", sans-serif' font-size="7.95" font-weight="bold" fill="#111" stroke="#111" stroke-width="0.2" text-anchor="middle" >Binding Energy (eV)</text>
<text x="0" y="0" font-family='"Liberation Sans", sans-serif' font-size="8.1" font-weight="bold" fill="#111" stroke="#111" stroke-width="0.2" text-anchor="middle" transform="translate(306.6,364.2) rotate(-90)">Intensity (a.u.)</text>
<text x="279.9" y="293" font-family='"Liberation Sans", sans-serif' font-size="20.3" font-weight="bold" fill="#111" stroke="#111" stroke-width="0.2" text-anchor="start" >(d)</text>
<text x="325.2" y="278.6" font-family='"Liberation Sans", sans-serif' font-size="8.7" font-weight="bold" fill="#111" stroke="#111" stroke-width="0.2" text-anchor="start" >O 1s</text>
<text x="533.9" y="278.4" font-family='"Liberation Sans", sans-serif' font-size="9.25" font-weight="bold" fill="#ff1a1a" stroke="#ff1a1a" stroke-width="0.2" text-anchor="end" textLength="56.3" lengthAdjust="spacingAndGlyphs">CoO<tspan font-size="10.36" stroke="#ff1a1a" stroke-width="0.15">@</tspan>ZIF-67</text>
<text x="534.9" y="383.1" font-family='"Liberation Sans", sans-serif' font-size="9.3" font-weight="bold" fill="#111" stroke="#111" stroke-width="0.2" text-anchor="end" textLength="84.1" lengthAdjust="spacingAndGlyphs">Ni10<tspan font-size="10.42" stroke="#111" stroke-width="0.15">@</tspan>CoO<tspan font-size="10.42" stroke="#111" stroke-width="0.15">@</tspan>ZIF-67</text>
<text x="375.6" y="313.2" font-family='"Liberation Serif", serif' font-size="10.9" font-weight="bold" fill="#111" stroke="#111" stroke-width="0.12" text-anchor="start" >Co=O</text>
<line x1="391.2" y1="315.6" x2="424.7" y2="328.5" stroke="#111" stroke-width="1.1"/>
</svg>
</body></html>
